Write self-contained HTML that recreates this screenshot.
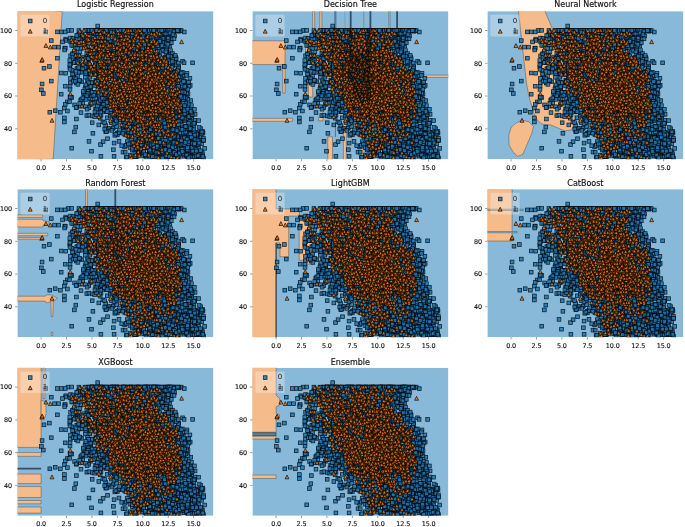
<!DOCTYPE html>
<html><head><meta charset="utf-8"><title>Decision regions</title>
<style>
html,body{margin:0;padding:0;background:#fff}
svg{display:block;font-family:"DejaVu Sans","Liberation Sans",sans-serif}
.b{fill:#88b9d9}
.o{fill:#f6bb8b;stroke:#222;stroke-width:.35}
polygon.b{stroke:#222;stroke-width:.35}
.k{stroke:#222;stroke-width:.5}
.k4{stroke:#222;stroke-width:.9}
.k0{stroke:#345;stroke-width:.5;stroke-opacity:.35}
.k1{stroke:#654;stroke-width:.7;stroke-opacity:.6}
.k2{stroke:#4f7390;stroke-width:2.2;stroke-opacity:.9}
.k3{stroke:#2a4258;stroke-width:1.8;stroke-opacity:.9}
.g{fill:#5f7f95;stroke:#222;stroke-width:.5}
.sq use,.sq1{fill:#1f77b4;fill-opacity:.85;stroke:#000;stroke-opacity:.8;stroke-width:.75}
#pts>g+g use,.tr1{fill:#e9760e;fill-opacity:.88;stroke:#000;stroke-opacity:.8;stroke-width:.8}
.lg{fill:#fff;fill-opacity:.3;stroke:#ccc;stroke-opacity:.3;stroke-width:.5}
.ti{font-size:8px;text-anchor:middle;fill:#111;stroke:#111;stroke-width:.15}
.tk{font-size:6.45px;letter-spacing:-.12px;fill:#111;stroke:#111;stroke-width:.12}
.lt{font-size:7px;fill:#222;stroke:none}
.tm{stroke:#333;stroke-width:.5}
</style></head><body>
<svg width="685" height="527" viewBox="0 0 685 527">
<defs>
<clipPath id="c"><rect x="0" y="0" width="196.0" height="148.0"/></clipPath>
<rect id="s" x="-1.85" y="-1.85" width="3.7" height="3.7"/>
<path id="t" d="M0-2.1L1.95 1.75H-1.95Z"/>
<filter id="bl" x="-50%" y="-20%" width="200%" height="140%"><feGaussianBlur stdDeviation="1.1"/></filter>
<filter id="b6" x="-50%" y="-50%" width="200%" height="200%"><feGaussianBlur stdDeviation=".6"/></filter>
<filter id="b5" x="-5%" y="-5%" width="110%" height="110%"><feGaussianBlur stdDeviation=".6"/></filter>
<g id="pts" filter="url(#b5)"><g class="sq">
<use href="#s" x="134.6" y="32.5"/><use href="#s" x="85.1" y="87.5"/><use href="#s" x="112.0" y="90.4"/><use href="#s" x="118.2" y="45.9"/><use href="#s" x="151.8" y="126.9"/><use href="#s" x="110.2" y="19.3"/><use href="#s" x="110.6" y="66.8"/><use href="#s" x="171.7" y="113.1"/><use href="#s" x="139.7" y="65.5"/><use href="#s" x="159.6" y="82.4"/><use href="#s" x="136.6" y="139.8"/><use href="#s" x="89.3" y="42.9"/><use href="#s" x="127.1" y="69.9"/><use href="#s" x="77.3" y="91.0"/><use href="#s" x="72.5" y="23.4"/><use href="#s" x="121.6" y="35.5"/><use href="#s" x="149.5" y="26.4"/><use href="#s" x="180.2" y="122.8"/><use href="#s" x="119.4" y="34.2"/><use href="#s" x="81.6" y="94.8"/><use href="#s" x="117.5" y="87.5"/><use href="#s" x="136.7" y="144.2"/><use href="#s" x="123.1" y="23.5"/><use href="#s" x="85.9" y="35.6"/><use href="#s" x="123.6" y="101.9"/><use href="#s" x="182.2" y="128.1"/><use href="#s" x="61.1" y="43.6"/><use href="#s" x="158.6" y="145.6"/><use href="#s" x="71.6" y="54.4"/><use href="#s" x="109.0" y="21.8"/><use href="#s" x="115.2" y="52.3"/><use href="#s" x="168.8" y="94.7"/><use href="#s" x="169.8" y="80.9"/><use href="#s" x="135.1" y="60.8"/><use href="#s" x="112.3" y="104.8"/><use href="#s" x="106.6" y="70.1"/><use href="#s" x="67.9" y="66.1"/><use href="#s" x="143.1" y="49.6"/><use href="#s" x="137.7" y="30.4"/><use href="#s" x="52.7" y="30.1"/><use href="#s" x="78.6" y="19.3"/><use href="#s" x="151.3" y="78.5"/><use href="#s" x="146.0" y="122.9"/><use href="#s" x="144.0" y="24.4"/><use href="#s" x="166.8" y="107.2"/><use href="#s" x="151.1" y="49.2"/><use href="#s" x="122.7" y="65.6"/><use href="#s" x="150.5" y="66.5"/><use href="#s" x="151.9" y="54.9"/><use href="#s" x="160.3" y="144.0"/><use href="#s" x="90.4" y="26.4"/><use href="#s" x="150.3" y="62.6"/><use href="#s" x="73.2" y="78.3"/><use href="#s" x="109.8" y="130.4"/><use href="#s" x="110.9" y="112.9"/><use href="#s" x="132.9" y="123.4"/><use href="#s" x="123.3" y="41.6"/><use href="#s" x="144.5" y="81.0"/><use href="#s" x="143.0" y="78.7"/><use href="#s" x="168.2" y="123.8"/><use href="#s" x="134.3" y="96.8"/><use href="#s" x="132.0" y="50.4"/><use href="#s" x="123.4" y="97.8"/><use href="#s" x="151.4" y="41.0"/><use href="#s" x="165.2" y="50.0"/><use href="#s" x="151.7" y="41.7"/><use href="#s" x="62.1" y="20.9"/><use href="#s" x="144.6" y="90.3"/><use href="#s" x="163.5" y="119.6"/><use href="#s" x="131.5" y="143.2"/><use href="#s" x="75.2" y="30.0"/><use href="#s" x="174.4" y="124.8"/><use href="#s" x="77.8" y="61.6"/><use href="#s" x="127.6" y="81.3"/><use href="#s" x="148.1" y="46.1"/><use href="#s" x="71.8" y="23.2"/><use href="#s" x="123.1" y="138.9"/><use href="#s" x="145.0" y="49.9"/><use href="#s" x="123.8" y="38.6"/><use href="#s" x="164.9" y="125.9"/><use href="#s" x="87.3" y="71.0"/><use href="#s" x="77.9" y="44.5"/><use href="#s" x="166.5" y="65.0"/><use href="#s" x="149.4" y="58.8"/><use href="#s" x="142.5" y="120.6"/><use href="#s" x="143.2" y="95.0"/><use href="#s" x="150.9" y="136.6"/><use href="#s" x="143.0" y="142.3"/><use href="#s" x="153.9" y="137.9"/><use href="#s" x="69.5" y="34.9"/><use href="#s" x="113.2" y="56.8"/><use href="#s" x="150.2" y="68.0"/><use href="#s" x="122.8" y="95.4"/><use href="#s" x="114.2" y="98.7"/><use href="#s" x="161.0" y="104.1"/><use href="#s" x="97.6" y="46.8"/><use href="#s" x="95.1" y="19.3"/><use href="#s" x="131.7" y="76.0"/><use href="#s" x="73.0" y="93.5"/><use href="#s" x="129.2" y="99.8"/><use href="#s" x="90.3" y="99.1"/><use href="#s" x="71.1" y="84.1"/><use href="#s" x="100.3" y="41.4"/><use href="#s" x="124.7" y="99.6"/><use href="#s" x="140.5" y="56.9"/><use href="#s" x="97.0" y="42.7"/><use href="#s" x="148.8" y="115.9"/><use href="#s" x="130.2" y="114.4"/><use href="#s" x="183.1" y="121.4"/><use href="#s" x="68.1" y="56.5"/><use href="#s" x="103.0" y="49.0"/><use href="#s" x="143.5" y="67.9"/><use href="#s" x="126.3" y="114.5"/><use href="#s" x="130.2" y="90.9"/><use href="#s" x="70.2" y="19.3"/><use href="#s" x="144.2" y="145.5"/><use href="#s" x="66.3" y="45.9"/><use href="#s" x="155.0" y="93.9"/><use href="#s" x="122.5" y="33.0"/><use href="#s" x="144.6" y="70.5"/><use href="#s" x="60.1" y="33.9"/><use href="#s" x="148.2" y="19.3"/><use href="#s" x="130.6" y="69.0"/><use href="#s" x="116.2" y="25.4"/><use href="#s" x="166.6" y="145.0"/><use href="#s" x="132.2" y="38.4"/><use href="#s" x="114.8" y="130.5"/><use href="#s" x="92.4" y="38.1"/><use href="#s" x="140.7" y="107.4"/><use href="#s" x="156.7" y="109.9"/><use href="#s" x="146.1" y="99.0"/><use href="#s" x="78.0" y="53.8"/><use href="#s" x="83.3" y="90.0"/><use href="#s" x="113.8" y="119.3"/><use href="#s" x="73.4" y="87.8"/><use href="#s" x="138.6" y="112.5"/><use href="#s" x="178.6" y="131.4"/><use href="#s" x="154.3" y="138.9"/><use href="#s" x="149.7" y="146.7"/><use href="#s" x="173.4" y="89.4"/><use href="#s" x="95.4" y="19.3"/><use href="#s" x="133.1" y="106.0"/><use href="#s" x="109.4" y="44.6"/><use href="#s" x="66.9" y="84.5"/><use href="#s" x="147.4" y="130.1"/><use href="#s" x="117.7" y="112.8"/><use href="#s" x="122.3" y="134.4"/><use href="#s" x="166.9" y="87.3"/><use href="#s" x="114.2" y="85.0"/><use href="#s" x="171.8" y="132.5"/><use href="#s" x="179.1" y="145.8"/><use href="#s" x="109.0" y="62.7"/><use href="#s" x="92.2" y="87.9"/><use href="#s" x="132.9" y="143.1"/><use href="#s" x="147.9" y="95.6"/><use href="#s" x="82.5" y="29.8"/><use href="#s" x="137.2" y="129.5"/><use href="#s" x="162.0" y="128.7"/><use href="#s" x="128.7" y="22.8"/><use href="#s" x="183.0" y="143.2"/><use href="#s" x="104.6" y="74.6"/><use href="#s" x="151.1" y="94.8"/><use href="#s" x="126.8" y="113.3"/><use href="#s" x="172.6" y="99.7"/><use href="#s" x="101.2" y="50.5"/><use href="#s" x="65.4" y="92.0"/><use href="#s" x="132.5" y="75.1"/><use href="#s" x="113.0" y="117.5"/><use href="#s" x="97.6" y="99.5"/><use href="#s" x="162.1" y="133.8"/><use href="#s" x="117.5" y="115.0"/><use href="#s" x="161.0" y="127.7"/><use href="#s" x="113.8" y="121.5"/><use href="#s" x="140.7" y="110.7"/><use href="#s" x="148.8" y="142.0"/><use href="#s" x="103.8" y="104.4"/><use href="#s" x="114.4" y="19.3"/><use href="#s" x="74.7" y="104.7"/><use href="#s" x="73.5" y="91.7"/><use href="#s" x="56.2" y="66.0"/><use href="#s" x="74.5" y="19.3"/><use href="#s" x="57.2" y="66.3"/><use href="#s" x="104.5" y="104.5"/><use href="#s" x="113.5" y="60.8"/><use href="#s" x="141.1" y="114.1"/><use href="#s" x="111.0" y="65.3"/><use href="#s" x="98.2" y="46.7"/><use href="#s" x="150.7" y="19.3"/><use href="#s" x="92.4" y="36.5"/><use href="#s" x="143.0" y="146.4"/><use href="#s" x="159.4" y="83.0"/><use href="#s" x="177.2" y="111.5"/><use href="#s" x="111.3" y="81.9"/><use href="#s" x="61.8" y="25.9"/><use href="#s" x="117.4" y="40.6"/><use href="#s" x="168.7" y="120.5"/><use href="#s" x="135.8" y="122.5"/><use href="#s" x="140.2" y="140.1"/><use href="#s" x="84.0" y="82.9"/><use href="#s" x="79.7" y="37.3"/><use href="#s" x="85.2" y="55.2"/><use href="#s" x="173.1" y="140.5"/><use href="#s" x="159.9" y="134.9"/><use href="#s" x="138.0" y="33.5"/><use href="#s" x="174.1" y="121.5"/><use href="#s" x="71.3" y="80.6"/><use href="#s" x="147.1" y="123.3"/><use href="#s" x="153.8" y="121.1"/><use href="#s" x="164.7" y="88.1"/><use href="#s" x="170.6" y="107.8"/><use href="#s" x="122.9" y="35.1"/><use href="#s" x="119.1" y="145.5"/><use href="#s" x="123.4" y="87.0"/><use href="#s" x="138.7" y="43.5"/><use href="#s" x="127.4" y="78.0"/><use href="#s" x="118.6" y="97.5"/><use href="#s" x="132.7" y="49.2"/><use href="#s" x="96.4" y="55.2"/><use href="#s" x="153.4" y="124.9"/><use href="#s" x="99.9" y="35.6"/><use href="#s" x="83.1" y="29.7"/><use href="#s" x="154.4" y="27.6"/><use href="#s" x="114.3" y="19.3"/><use href="#s" x="138.5" y="108.4"/><use href="#s" x="132.4" y="105.3"/><use href="#s" x="158.9" y="109.8"/><use href="#s" x="143.5" y="128.5"/><use href="#s" x="149.5" y="52.2"/><use href="#s" x="102.9" y="21.4"/><use href="#s" x="112.6" y="35.5"/><use href="#s" x="113.3" y="113.4"/><use href="#s" x="109.1" y="42.6"/><use href="#s" x="81.2" y="63.5"/><use href="#s" x="114.5" y="34.7"/><use href="#s" x="128.0" y="98.2"/><use href="#s" x="112.8" y="104.1"/><use href="#s" x="102.8" y="57.0"/><use href="#s" x="79.8" y="24.0"/><use href="#s" x="166.2" y="109.3"/><use href="#s" x="170.5" y="136.3"/><use href="#s" x="81.3" y="35.1"/><use href="#s" x="133.0" y="95.2"/><use href="#s" x="139.1" y="126.8"/><use href="#s" x="146.2" y="136.3"/><use href="#s" x="138.1" y="113.9"/><use href="#s" x="119.4" y="136.6"/><use href="#s" x="172.2" y="109.9"/><use href="#s" x="129.9" y="23.5"/><use href="#s" x="99.6" y="100.8"/><use href="#s" x="137.4" y="61.4"/><use href="#s" x="123.1" y="63.2"/><use href="#s" x="67.0" y="27.1"/><use href="#s" x="163.9" y="137.8"/><use href="#s" x="141.5" y="19.3"/><use href="#s" x="125.6" y="80.5"/><use href="#s" x="143.7" y="97.2"/><use href="#s" x="119.3" y="100.6"/><use href="#s" x="136.7" y="128.4"/><use href="#s" x="85.6" y="38.8"/><use href="#s" x="127.4" y="101.4"/><use href="#s" x="119.6" y="45.5"/><use href="#s" x="76.7" y="56.7"/><use href="#s" x="85.0" y="62.2"/><use href="#s" x="117.7" y="62.6"/><use href="#s" x="158.7" y="118.6"/><use href="#s" x="147.5" y="29.3"/><use href="#s" x="152.9" y="113.9"/><use href="#s" x="115.0" y="84.9"/><use href="#s" x="92.7" y="60.5"/><use href="#s" x="104.0" y="69.6"/><use href="#s" x="108.2" y="19.3"/><use href="#s" x="159.5" y="138.0"/><use href="#s" x="155.3" y="134.0"/><use href="#s" x="131.4" y="131.7"/><use href="#s" x="100.3" y="106.6"/><use href="#s" x="155.2" y="100.9"/><use href="#s" x="84.8" y="92.0"/><use href="#s" x="157.2" y="69.1"/><use href="#s" x="72.6" y="64.8"/><use href="#s" x="81.5" y="28.8"/><use href="#s" x="132.1" y="19.3"/><use href="#s" x="151.6" y="117.5"/><use href="#s" x="129.6" y="123.3"/><use href="#s" x="141.8" y="135.9"/><use href="#s" x="170.3" y="123.5"/><use href="#s" x="148.5" y="58.1"/><use href="#s" x="89.4" y="81.2"/><use href="#s" x="93.6" y="84.5"/><use href="#s" x="130.2" y="60.1"/><use href="#s" x="168.0" y="136.4"/><use href="#s" x="96.7" y="45.3"/><use href="#s" x="119.8" y="122.5"/><use href="#s" x="145.1" y="23.7"/><use href="#s" x="100.0" y="122.2"/><use href="#s" x="169.1" y="95.3"/><use href="#s" x="185.1" y="142.4"/><use href="#s" x="158.2" y="134.4"/><use href="#s" x="134.3" y="19.3"/><use href="#s" x="115.7" y="84.8"/><use href="#s" x="144.2" y="20.6"/><use href="#s" x="95.2" y="117.4"/><use href="#s" x="131.7" y="24.5"/><use href="#s" x="113.8" y="107.0"/><use href="#s" x="148.8" y="93.4"/><use href="#s" x="134.3" y="86.1"/><use href="#s" x="116.0" y="133.9"/><use href="#s" x="84.0" y="19.3"/><use href="#s" x="89.8" y="71.2"/><use href="#s" x="85.4" y="36.7"/><use href="#s" x="101.0" y="59.3"/><use href="#s" x="139.9" y="87.7"/><use href="#s" x="90.8" y="117.1"/><use href="#s" x="91.6" y="94.3"/><use href="#s" x="81.2" y="91.2"/><use href="#s" x="139.7" y="37.5"/><use href="#s" x="155.1" y="19.3"/><use href="#s" x="136.8" y="37.5"/><use href="#s" x="98.9" y="39.5"/><use href="#s" x="154.3" y="104.5"/><use href="#s" x="130.0" y="126.4"/><use href="#s" x="117.7" y="112.8"/><use href="#s" x="117.8" y="37.9"/><use href="#s" x="132.7" y="35.3"/><use href="#s" x="124.9" y="119.8"/><use href="#s" x="108.8" y="95.4"/><use href="#s" x="109.9" y="104.8"/><use href="#s" x="167.1" y="122.1"/><use href="#s" x="137.9" y="56.0"/><use href="#s" x="136.0" y="61.7"/><use href="#s" x="107.9" y="114.8"/><use href="#s" x="160.9" y="144.9"/><use href="#s" x="156.4" y="130.9"/><use href="#s" x="71.4" y="19.3"/><use href="#s" x="144.0" y="125.4"/><use href="#s" x="135.0" y="79.4"/><use href="#s" x="133.1" y="53.3"/><use href="#s" x="80.2" y="73.5"/><use href="#s" x="77.6" y="81.1"/><use href="#s" x="96.6" y="47.4"/><use href="#s" x="91.9" y="78.6"/><use href="#s" x="68.6" y="27.6"/><use href="#s" x="156.0" y="126.0"/><use href="#s" x="92.3" y="57.4"/><use href="#s" x="128.0" y="144.4"/><use href="#s" x="173.4" y="127.8"/><use href="#s" x="177.0" y="126.7"/><use href="#s" x="75.4" y="40.0"/><use href="#s" x="108.1" y="83.5"/><use href="#s" x="109.2" y="83.8"/><use href="#s" x="122.0" y="126.8"/><use href="#s" x="57.8" y="47.1"/><use href="#s" x="97.3" y="107.4"/><use href="#s" x="100.2" y="89.6"/><use href="#s" x="177.1" y="111.7"/><use href="#s" x="179.7" y="135.8"/><use href="#s" x="147.7" y="145.7"/><use href="#s" x="90.6" y="59.3"/><use href="#s" x="164.1" y="105.6"/><use href="#s" x="168.8" y="102.4"/><use href="#s" x="177.7" y="136.4"/><use href="#s" x="85.0" y="74.8"/><use href="#s" x="132.5" y="119.5"/><use href="#s" x="83.7" y="19.3"/><use href="#s" x="141.5" y="28.5"/><use href="#s" x="135.5" y="76.3"/><use href="#s" x="113.5" y="116.6"/><use href="#s" x="87.8" y="33.7"/><use href="#s" x="113.9" y="111.5"/><use href="#s" x="167.7" y="73.3"/><use href="#s" x="165.2" y="132.8"/><use href="#s" x="131.0" y="22.5"/><use href="#s" x="73.1" y="80.6"/><use href="#s" x="140.9" y="55.2"/><use href="#s" x="112.6" y="115.8"/><use href="#s" x="84.6" y="53.1"/><use href="#s" x="157.2" y="101.7"/><use href="#s" x="90.6" y="32.6"/><use href="#s" x="127.8" y="105.0"/><use href="#s" x="161.9" y="19.3"/><use href="#s" x="95.6" y="42.3"/><use href="#s" x="77.8" y="30.8"/><use href="#s" x="110.7" y="101.9"/><use href="#s" x="76.0" y="19.3"/><use href="#s" x="95.6" y="49.4"/><use href="#s" x="150.9" y="101.3"/><use href="#s" x="121.0" y="93.3"/><use href="#s" x="135.2" y="80.9"/><use href="#s" x="77.3" y="83.5"/><use href="#s" x="162.5" y="66.6"/><use href="#s" x="156.9" y="52.3"/><use href="#s" x="126.3" y="97.7"/><use href="#s" x="130.5" y="41.5"/><use href="#s" x="100.0" y="48.8"/><use href="#s" x="154.1" y="87.6"/><use href="#s" x="157.3" y="84.9"/><use href="#s" x="114.1" y="116.1"/><use href="#s" x="146.1" y="34.7"/><use href="#s" x="94.0" y="66.1"/><use href="#s" x="166.0" y="86.0"/><use href="#s" x="80.8" y="49.5"/><use href="#s" x="165.9" y="128.7"/><use href="#s" x="163.9" y="114.1"/><use href="#s" x="93.4" y="83.1"/><use href="#s" x="75.5" y="83.9"/><use href="#s" x="143.5" y="139.2"/><use href="#s" x="151.5" y="22.5"/><use href="#s" x="151.1" y="90.5"/><use href="#s" x="118.8" y="21.9"/><use href="#s" x="163.3" y="107.4"/><use href="#s" x="84.1" y="19.3"/><use href="#s" x="90.1" y="48.3"/><use href="#s" x="129.8" y="26.7"/><use href="#s" x="122.9" y="58.6"/><use href="#s" x="165.7" y="121.7"/><use href="#s" x="181.3" y="141.7"/><use href="#s" x="115.6" y="71.3"/><use href="#s" x="58.4" y="49.4"/><use href="#s" x="127.4" y="107.3"/><use href="#s" x="152.4" y="95.9"/><use href="#s" x="115.5" y="20.6"/><use href="#s" x="122.5" y="124.0"/><use href="#s" x="142.8" y="19.3"/><use href="#s" x="166.6" y="107.3"/><use href="#s" x="157.3" y="132.7"/><use href="#s" x="104.5" y="49.3"/><use href="#s" x="70.1" y="69.7"/><use href="#s" x="125.8" y="112.9"/><use href="#s" x="139.4" y="63.9"/><use href="#s" x="139.6" y="120.8"/><use href="#s" x="146.4" y="54.5"/><use href="#s" x="157.6" y="67.6"/><use href="#s" x="176.8" y="144.5"/><use href="#s" x="138.0" y="19.3"/><use href="#s" x="135.4" y="80.2"/><use href="#s" x="122.4" y="22.4"/><use href="#s" x="175.6" y="131.9"/><use href="#s" x="119.7" y="73.4"/><use href="#s" x="123.9" y="105.1"/><use href="#s" x="89.7" y="119.7"/><use href="#s" x="127.7" y="37.6"/><use href="#s" x="141.5" y="134.3"/><use href="#s" x="92.5" y="66.5"/><use href="#s" x="90.6" y="85.3"/><use href="#s" x="134.2" y="106.7"/><use href="#s" x="116.4" y="99.4"/><use href="#s" x="85.4" y="53.1"/><use href="#s" x="156.1" y="20.8"/><use href="#s" x="140.9" y="77.7"/><use href="#s" x="61.5" y="44.9"/><use href="#s" x="138.8" y="20.0"/><use href="#s" x="88.5" y="31.2"/><use href="#s" x="151.1" y="27.0"/><use href="#s" x="132.1" y="57.3"/><use href="#s" x="93.3" y="82.5"/><use href="#s" x="166.8" y="126.9"/><use href="#s" x="145.5" y="122.2"/><use href="#s" x="129.2" y="134.8"/><use href="#s" x="106.3" y="19.3"/><use href="#s" x="83.5" y="19.3"/><use href="#s" x="138.6" y="125.6"/><use href="#s" x="74.7" y="81.9"/><use href="#s" x="91.6" y="85.7"/><use href="#s" x="135.8" y="19.3"/><use href="#s" x="73.2" y="71.2"/><use href="#s" x="104.5" y="53.3"/><use href="#s" x="133.6" y="74.1"/><use href="#s" x="159.3" y="64.8"/><use href="#s" x="147.2" y="133.9"/><use href="#s" x="132.9" y="59.4"/><use href="#s" x="128.2" y="19.3"/><use href="#s" x="52.5" y="56.0"/><use href="#s" x="78.4" y="69.1"/><use href="#s" x="167.1" y="135.8"/><use href="#s" x="144.4" y="135.2"/><use href="#s" x="164.4" y="104.3"/><use href="#s" x="181.2" y="109.4"/><use href="#s" x="120.5" y="110.1"/><use href="#s" x="75.0" y="19.3"/><use href="#s" x="136.3" y="119.1"/><use href="#s" x="104.8" y="27.6"/><use href="#s" x="76.0" y="42.2"/><use href="#s" x="106.9" y="41.5"/><use href="#s" x="152.8" y="128.0"/><use href="#s" x="134.3" y="19.3"/><use href="#s" x="144.4" y="47.5"/><use href="#s" x="80.4" y="19.3"/><use href="#s" x="175.6" y="124.8"/><use href="#s" x="70.7" y="50.0"/><use href="#s" x="98.3" y="49.7"/><use href="#s" x="141.9" y="21.7"/><use href="#s" x="145.6" y="99.3"/><use href="#s" x="138.8" y="59.9"/><use href="#s" x="112.9" y="97.5"/><use href="#s" x="170.2" y="145.0"/><use href="#s" x="117.4" y="127.8"/><use href="#s" x="71.6" y="87.0"/><use href="#s" x="148.2" y="36.2"/><use href="#s" x="135.8" y="35.9"/><use href="#s" x="164.9" y="100.4"/><use href="#s" x="73.7" y="74.9"/><use href="#s" x="134.1" y="114.1"/><use href="#s" x="134.8" y="125.0"/><use href="#s" x="123.1" y="95.0"/><use href="#s" x="64.1" y="60.6"/><use href="#s" x="139.6" y="45.3"/><use href="#s" x="132.0" y="74.6"/><use href="#s" x="146.7" y="29.6"/><use href="#s" x="164.2" y="126.8"/><use href="#s" x="158.6" y="19.3"/><use href="#s" x="171.4" y="143.6"/><use href="#s" x="148.9" y="122.5"/><use href="#s" x="136.2" y="62.1"/><use href="#s" x="152.4" y="34.7"/><use href="#s" x="119.8" y="56.9"/><use href="#s" x="74.4" y="84.7"/><use href="#s" x="138.3" y="143.4"/><use href="#s" x="116.6" y="43.4"/><use href="#s" x="120.0" y="114.6"/><use href="#s" x="150.3" y="69.6"/><use href="#s" x="128.7" y="116.2"/><use href="#s" x="76.3" y="55.9"/><use href="#s" x="162.1" y="66.9"/><use href="#s" x="117.9" y="35.0"/><use href="#s" x="151.5" y="116.2"/><use href="#s" x="158.6" y="72.3"/><use href="#s" x="97.9" y="34.2"/><use href="#s" x="148.1" y="118.1"/><use href="#s" x="130.3" y="121.7"/><use href="#s" x="125.9" y="68.1"/><use href="#s" x="133.1" y="37.6"/><use href="#s" x="68.2" y="75.7"/><use href="#s" x="105.4" y="81.7"/><use href="#s" x="93.4" y="43.6"/><use href="#s" x="110.5" y="48.3"/><use href="#s" x="124.1" y="133.8"/><use href="#s" x="101.0" y="93.3"/><use href="#s" x="161.6" y="141.1"/><use href="#s" x="118.2" y="27.6"/><use href="#s" x="170.5" y="87.9"/><use href="#s" x="93.6" y="32.7"/><use href="#s" x="137.3" y="117.5"/><use href="#s" x="101.6" y="47.3"/><use href="#s" x="103.2" y="26.2"/><use href="#s" x="74.3" y="19.3"/><use href="#s" x="117.8" y="90.1"/><use href="#s" x="136.6" y="19.3"/><use href="#s" x="109.1" y="104.8"/><use href="#s" x="77.3" y="105.4"/><use href="#s" x="64.2" y="70.6"/><use href="#s" x="141.3" y="123.0"/><use href="#s" x="152.0" y="23.5"/><use href="#s" x="145.5" y="131.6"/><use href="#s" x="125.9" y="131.8"/><use href="#s" x="134.0" y="56.4"/><use href="#s" x="53.3" y="52.5"/><use href="#s" x="141.7" y="122.8"/><use href="#s" x="121.7" y="40.6"/><use href="#s" x="121.7" y="44.3"/><use href="#s" x="137.8" y="76.9"/><use href="#s" x="125.1" y="86.7"/><use href="#s" x="160.9" y="55.8"/><use href="#s" x="93.8" y="30.6"/><use href="#s" x="97.7" y="104.2"/><use href="#s" x="172.0" y="126.7"/><use href="#s" x="82.4" y="60.3"/><use href="#s" x="107.0" y="106.7"/><use href="#s" x="155.0" y="78.5"/><use href="#s" x="134.8" y="84.7"/><use href="#s" x="153.1" y="39.4"/><use href="#s" x="125.2" y="50.5"/><use href="#s" x="52.6" y="85.6"/><use href="#s" x="150.0" y="69.3"/><use href="#s" x="123.1" y="19.3"/><use href="#s" x="146.8" y="137.0"/><use href="#s" x="107.2" y="113.0"/><use href="#s" x="103.2" y="76.4"/><use href="#s" x="86.0" y="25.4"/><use href="#s" x="147.1" y="62.8"/><use href="#s" x="148.5" y="118.6"/><use href="#s" x="151.3" y="98.8"/><use href="#s" x="119.5" y="67.8"/><use href="#s" x="148.7" y="89.6"/><use href="#s" x="120.8" y="140.3"/><use href="#s" x="155.3" y="98.7"/><use href="#s" x="147.7" y="119.6"/><use href="#s" x="108.2" y="67.6"/><use href="#s" x="146.2" y="58.4"/><use href="#s" x="141.4" y="32.6"/><use href="#s" x="96.6" y="92.3"/><use href="#s" x="98.4" y="95.5"/><use href="#s" x="123.1" y="42.8"/><use href="#s" x="71.4" y="96.5"/><use href="#s" x="139.8" y="136.3"/><use href="#s" x="118.9" y="61.0"/><use href="#s" x="92.8" y="87.9"/><use href="#s" x="152.2" y="100.1"/><use href="#s" x="98.8" y="76.2"/><use href="#s" x="120.5" y="96.0"/><use href="#s" x="137.3" y="59.4"/><use href="#s" x="105.6" y="19.8"/><use href="#s" x="167.6" y="100.8"/><use href="#s" x="105.9" y="55.9"/><use href="#s" x="152.3" y="19.3"/><use href="#s" x="105.6" y="19.3"/><use href="#s" x="179.4" y="136.0"/><use href="#s" x="85.2" y="63.7"/><use href="#s" x="126.0" y="142.3"/><use href="#s" x="105.2" y="57.1"/><use href="#s" x="112.3" y="19.3"/><use href="#s" x="151.4" y="32.2"/><use href="#s" x="138.4" y="95.8"/><use href="#s" x="102.3" y="97.7"/><use href="#s" x="64.9" y="54.6"/><use href="#s" x="103.3" y="81.5"/><use href="#s" x="78.4" y="57.5"/><use href="#s" x="140.5" y="136.1"/><use href="#s" x="135.1" y="133.5"/><use href="#s" x="128.2" y="40.3"/><use href="#s" x="107.7" y="49.3"/><use href="#s" x="113.4" y="60.9"/><use href="#s" x="128.6" y="146.1"/><use href="#s" x="81.2" y="69.7"/><use href="#s" x="141.2" y="118.2"/><use href="#s" x="130.3" y="56.1"/><use href="#s" x="137.2" y="30.8"/><use href="#s" x="84.9" y="66.7"/><use href="#s" x="140.1" y="126.3"/><use href="#s" x="100.3" y="75.8"/><use href="#s" x="72.5" y="54.4"/><use href="#s" x="101.5" y="41.3"/><use href="#s" x="82.3" y="30.8"/><use href="#s" x="48.3" y="27.9"/><use href="#s" x="90.4" y="33.2"/><use href="#s" x="142.9" y="91.8"/><use href="#s" x="171.1" y="112.2"/><use href="#s" x="113.7" y="66.7"/><use href="#s" x="80.6" y="69.1"/><use href="#s" x="165.5" y="82.8"/><use href="#s" x="104.7" y="30.2"/><use href="#s" x="118.5" y="53.9"/><use href="#s" x="97.2" y="19.3"/><use href="#s" x="100.6" y="65.1"/><use href="#s" x="165.9" y="100.2"/><use href="#s" x="135.8" y="93.1"/><use href="#s" x="70.1" y="35.4"/><use href="#s" x="109.0" y="105.1"/><use href="#s" x="174.1" y="116.5"/><use href="#s" x="83.4" y="34.4"/><use href="#s" x="72.2" y="39.0"/><use href="#s" x="71.6" y="41.5"/><use href="#s" x="135.9" y="129.8"/><use href="#s" x="119.8" y="140.3"/><use href="#s" x="181.2" y="123.6"/><use href="#s" x="106.8" y="99.0"/><use href="#s" x="102.2" y="44.5"/><use href="#s" x="77.8" y="59.6"/><use href="#s" x="137.5" y="30.5"/><use href="#s" x="95.9" y="44.3"/><use href="#s" x="166.2" y="126.3"/><use href="#s" x="116.3" y="19.3"/><use href="#s" x="128.6" y="33.9"/><use href="#s" x="130.6" y="88.7"/><use href="#s" x="140.6" y="124.3"/><use href="#s" x="54.4" y="86.3"/><use href="#s" x="105.5" y="92.8"/><use href="#s" x="78.7" y="86.7"/><use href="#s" x="146.4" y="23.5"/><use href="#s" x="105.3" y="73.0"/><use href="#s" x="177.7" y="121.6"/><use href="#s" x="106.4" y="19.3"/><use href="#s" x="106.9" y="86.1"/><use href="#s" x="97.6" y="103.1"/><use href="#s" x="143.5" y="96.1"/><use href="#s" x="91.5" y="53.4"/><use href="#s" x="163.4" y="109.6"/><use href="#s" x="115.8" y="44.0"/><use href="#s" x="169.6" y="84.7"/><use href="#s" x="98.0" y="22.3"/><use href="#s" x="141.2" y="85.3"/><use href="#s" x="84.6" y="52.5"/><use href="#s" x="166.7" y="130.1"/><use href="#s" x="85.6" y="64.8"/><use href="#s" x="69.4" y="42.3"/><use href="#s" x="91.4" y="67.2"/><use href="#s" x="115.0" y="30.1"/><use href="#s" x="153.6" y="142.9"/><use href="#s" x="159.9" y="117.6"/><use href="#s" x="159.4" y="60.5"/><use href="#s" x="66.8" y="59.2"/><use href="#s" x="131.4" y="31.3"/><use href="#s" x="114.3" y="53.9"/><use href="#s" x="168.3" y="100.1"/><use href="#s" x="147.2" y="99.1"/><use href="#s" x="89.5" y="33.7"/><use href="#s" x="137.6" y="78.3"/><use href="#s" x="157.1" y="24.7"/><use href="#s" x="156.2" y="61.5"/><use href="#s" x="75.6" y="43.7"/><use href="#s" x="113.1" y="64.8"/><use href="#s" x="90.3" y="49.0"/><use href="#s" x="112.3" y="93.6"/><use href="#s" x="122.5" y="58.6"/><use href="#s" x="86.7" y="96.7"/><use href="#s" x="64.5" y="55.5"/><use href="#s" x="78.4" y="26.6"/><use href="#s" x="95.5" y="19.3"/><use href="#s" x="151.4" y="44.0"/><use href="#s" x="79.2" y="99.3"/><use href="#s" x="133.4" y="32.7"/><use href="#s" x="115.2" y="20.1"/><use href="#s" x="109.8" y="40.9"/><use href="#s" x="69.7" y="47.9"/><use href="#s" x="79.6" y="40.8"/><use href="#s" x="144.4" y="70.2"/><use href="#s" x="185.6" y="121.9"/><use href="#s" x="96.7" y="68.2"/><use href="#s" x="125.9" y="116.8"/><use href="#s" x="93.7" y="30.2"/><use href="#s" x="184.1" y="122.2"/><use href="#s" x="105.9" y="116.8"/><use href="#s" x="181.1" y="131.0"/><use href="#s" x="185.4" y="120.3"/><use href="#s" x="66.2" y="82.1"/><use href="#s" x="130.2" y="19.3"/><use href="#s" x="184.8" y="145.7"/><use href="#s" x="137.7" y="144.2"/><use href="#s" x="96.7" y="106.0"/><use href="#s" x="123.0" y="104.9"/><use href="#s" x="129.8" y="136.7"/><use href="#s" x="86.7" y="39.8"/><use href="#s" x="113.4" y="34.5"/><use href="#s" x="59.4" y="57.6"/><use href="#s" x="138.9" y="131.5"/><use href="#s" x="158.2" y="136.0"/><use href="#s" x="104.5" y="107.8"/><use href="#s" x="161.6" y="94.8"/><use href="#s" x="146.2" y="49.2"/><use href="#s" x="134.7" y="122.2"/><use href="#s" x="86.5" y="67.6"/><use href="#s" x="133.0" y="75.8"/><use href="#s" x="94.8" y="74.4"/><use href="#s" x="147.1" y="73.3"/><use href="#s" x="65.0" y="24.1"/><use href="#s" x="91.7" y="19.4"/><use href="#s" x="118.8" y="108.9"/><use href="#s" x="121.3" y="130.3"/><use href="#s" x="159.1" y="61.9"/><use href="#s" x="163.8" y="19.3"/><use href="#s" x="126.2" y="80.0"/><use href="#s" x="103.3" y="67.1"/><use href="#s" x="92.2" y="98.1"/><use href="#s" x="141.6" y="94.7"/><use href="#s" x="173.5" y="103.7"/><use href="#s" x="100.4" y="93.5"/><use href="#s" x="150.2" y="22.7"/><use href="#s" x="95.9" y="116.8"/><use href="#s" x="122.1" y="110.8"/><use href="#s" x="58.8" y="71.9"/><use href="#s" x="174.5" y="103.0"/><use href="#s" x="55.5" y="62.7"/><use href="#s" x="125.2" y="131.1"/><use href="#s" x="86.3" y="89.0"/><use href="#s" x="48.4" y="29.2"/><use href="#s" x="93.8" y="30.5"/><use href="#s" x="133.0" y="136.2"/><use href="#s" x="143.8" y="100.6"/><use href="#s" x="111.5" y="94.1"/><use href="#s" x="111.9" y="37.1"/><use href="#s" x="122.1" y="19.3"/><use href="#s" x="124.6" y="84.1"/><use href="#s" x="66.8" y="25.7"/><use href="#s" x="91.4" y="94.9"/><use href="#s" x="127.1" y="34.2"/><use href="#s" x="152.6" y="115.7"/><use href="#s" x="169.6" y="62.1"/><use href="#s" x="71.7" y="19.3"/><use href="#s" x="100.5" y="49.6"/><use href="#s" x="92.2" y="84.1"/><use href="#s" x="105.0" y="101.9"/><use href="#s" x="177.4" y="133.1"/><use href="#s" x="96.7" y="105.4"/><use href="#s" x="103.8" y="61.3"/><use href="#s" x="110.8" y="92.8"/><use href="#s" x="105.3" y="115.9"/><use href="#s" x="110.6" y="38.9"/><use href="#s" x="73.7" y="41.6"/><use href="#s" x="125.2" y="100.3"/><use href="#s" x="149.2" y="138.0"/><use href="#s" x="125.5" y="19.3"/><use href="#s" x="158.3" y="132.2"/><use href="#s" x="88.3" y="114.3"/><use href="#s" x="103.0" y="41.7"/><use href="#s" x="112.8" y="38.1"/><use href="#s" x="156.3" y="143.3"/><use href="#s" x="175.1" y="128.2"/><use href="#s" x="78.2" y="57.3"/><use href="#s" x="107.5" y="114.3"/><use href="#s" x="119.3" y="138.2"/><use href="#s" x="106.3" y="79.6"/><use href="#s" x="110.6" y="67.5"/><use href="#s" x="116.7" y="21.0"/><use href="#s" x="105.6" y="140.9"/><use href="#s" x="148.7" y="129.8"/><use href="#s" x="153.0" y="19.3"/><use href="#s" x="103.0" y="102.1"/><use href="#s" x="99.8" y="19.3"/><use href="#s" x="125.5" y="126.6"/><use href="#s" x="174.1" y="122.2"/><use href="#s" x="180.2" y="145.5"/><use href="#s" x="134.7" y="63.4"/><use href="#s" x="106.1" y="107.5"/><use href="#s" x="153.8" y="137.1"/><use href="#s" x="155.8" y="54.3"/><use href="#s" x="123.1" y="51.6"/><use href="#s" x="180.0" y="134.4"/><use href="#s" x="73.0" y="79.4"/><use href="#s" x="129.6" y="26.3"/><use href="#s" x="163.4" y="73.6"/><use href="#s" x="102.6" y="111.1"/><use href="#s" x="134.8" y="115.5"/><use href="#s" x="147.8" y="127.0"/><use href="#s" x="71.3" y="79.3"/><use href="#s" x="72.5" y="43.0"/><use href="#s" x="173.3" y="105.2"/><use href="#s" x="105.4" y="58.7"/><use href="#s" x="164.1" y="128.5"/><use href="#s" x="153.9" y="76.2"/><use href="#s" x="83.1" y="22.3"/><use href="#s" x="102.0" y="121.6"/><use href="#s" x="111.3" y="48.6"/><use href="#s" x="102.0" y="71.1"/><use href="#s" x="113.3" y="29.9"/><use href="#s" x="126.5" y="76.9"/><use href="#s" x="175.8" y="145.8"/><use href="#s" x="109.6" y="72.4"/><use href="#s" x="136.2" y="89.1"/><use href="#s" x="151.6" y="144.9"/><use href="#s" x="172.8" y="74.2"/><use href="#s" x="112.6" y="90.0"/><use href="#s" x="163.9" y="141.3"/><use href="#s" x="117.0" y="120.3"/><use href="#s" x="79.2" y="70.4"/><use href="#s" x="137.1" y="145.3"/><use href="#s" x="160.1" y="145.7"/><use href="#s" x="77.6" y="83.3"/><use href="#s" x="112.9" y="88.8"/><use href="#s" x="59.3" y="45.1"/><use href="#s" x="177.5" y="109.2"/><use href="#s" x="110.6" y="78.5"/><use href="#s" x="113.9" y="19.3"/><use href="#s" x="102.6" y="77.4"/><use href="#s" x="135.2" y="67.4"/><use href="#s" x="128.2" y="19.5"/><use href="#s" x="125.6" y="138.3"/><use href="#s" x="121.2" y="59.1"/><use href="#s" x="176.2" y="114.2"/><use href="#s" x="125.0" y="39.0"/><use href="#s" x="83.5" y="43.7"/><use href="#s" x="109.2" y="121.6"/><use href="#s" x="153.4" y="118.6"/><use href="#s" x="98.9" y="19.3"/><use href="#s" x="142.1" y="119.0"/><use href="#s" x="81.2" y="36.3"/><use href="#s" x="96.1" y="59.5"/><use href="#s" x="117.4" y="85.4"/><use href="#s" x="91.8" y="19.3"/><use href="#s" x="146.8" y="129.3"/><use href="#s" x="130.3" y="118.7"/><use href="#s" x="173.6" y="100.9"/><use href="#s" x="141.7" y="37.6"/><use href="#s" x="158.4" y="145.4"/><use href="#s" x="145.9" y="31.1"/><use href="#s" x="128.3" y="116.4"/><use href="#s" x="102.3" y="23.3"/><use href="#s" x="61.9" y="34.5"/><use href="#s" x="176.1" y="139.4"/><use href="#s" x="102.9" y="34.0"/><use href="#s" x="84.4" y="83.3"/><use href="#s" x="157.6" y="60.1"/><use href="#s" x="116.5" y="107.9"/><use href="#s" x="143.6" y="99.6"/><use href="#s" x="131.2" y="118.4"/><use href="#s" x="154.6" y="79.9"/><use href="#s" x="154.6" y="65.0"/><use href="#s" x="133.9" y="85.2"/><use href="#s" x="164.3" y="95.5"/><use href="#s" x="159.1" y="95.9"/><use href="#s" x="124.8" y="133.0"/><use href="#s" x="131.7" y="87.3"/><use href="#s" x="145.3" y="38.3"/><use href="#s" x="139.2" y="136.4"/><use href="#s" x="96.4" y="93.3"/><use href="#s" x="142.8" y="21.0"/><use href="#s" x="89.8" y="106.6"/><use href="#s" x="133.8" y="30.8"/><use href="#s" x="82.9" y="42.5"/><use href="#s" x="157.4" y="95.0"/><use href="#s" x="167.7" y="102.0"/><use href="#s" x="141.7" y="106.0"/><use href="#s" x="79.8" y="39.1"/><use href="#s" x="92.5" y="22.7"/><use href="#s" x="158.9" y="110.7"/><use href="#s" x="120.2" y="19.3"/><use href="#s" x="123.3" y="79.2"/><use href="#s" x="127.6" y="102.7"/><use href="#s" x="99.4" y="90.2"/><use href="#s" x="69.4" y="104.4"/><use href="#s" x="137.5" y="33.9"/><use href="#s" x="103.0" y="107.7"/><use href="#s" x="130.8" y="122.1"/><use href="#s" x="174.4" y="106.9"/><use href="#s" x="150.4" y="118.9"/><use href="#s" x="82.3" y="24.7"/><use href="#s" x="107.7" y="108.3"/><use href="#s" x="167.6" y="109.8"/><use href="#s" x="147.5" y="138.5"/><use href="#s" x="123.3" y="69.4"/><use href="#s" x="157.2" y="89.2"/><use href="#s" x="155.8" y="105.4"/><use href="#s" x="88.3" y="120.3"/><use href="#s" x="98.3" y="67.2"/><use href="#s" x="84.6" y="92.3"/><use href="#s" x="187.3" y="137.2"/><use href="#s" x="85.1" y="53.1"/><use href="#s" x="147.7" y="107.2"/><use href="#s" x="132.5" y="110.5"/><use href="#s" x="170.0" y="118.3"/><use href="#s" x="107.8" y="107.2"/><use href="#s" x="164.7" y="68.5"/><use href="#s" x="159.2" y="98.6"/><use href="#s" x="131.9" y="102.3"/><use href="#s" x="156.2" y="84.6"/><use href="#s" x="175.8" y="138.8"/><use href="#s" x="88.4" y="49.7"/><use href="#s" x="154.6" y="56.0"/><use href="#s" x="101.0" y="96.4"/><use href="#s" x="110.4" y="56.8"/><use href="#s" x="164.0" y="74.7"/><use href="#s" x="91.2" y="35.6"/><use href="#s" x="160.5" y="66.8"/><use href="#s" x="115.7" y="85.7"/><use href="#s" x="147.8" y="23.9"/><use href="#s" x="88.5" y="25.9"/><use href="#s" x="148.2" y="116.5"/><use href="#s" x="137.3" y="56.7"/><use href="#s" x="172.6" y="132.6"/><use href="#s" x="163.0" y="117.1"/><use href="#s" x="151.6" y="61.9"/><use href="#s" x="115.1" y="112.1"/><use href="#s" x="141.3" y="47.8"/><use href="#s" x="128.5" y="52.5"/><use href="#s" x="126.3" y="144.5"/><use href="#s" x="118.2" y="140.9"/><use href="#s" x="131.5" y="121.0"/><use href="#s" x="68.1" y="95.5"/><use href="#s" x="124.2" y="95.2"/><use href="#s" x="110.9" y="19.3"/><use href="#s" x="143.3" y="140.3"/><use href="#s" x="172.9" y="98.6"/><use href="#s" x="107.8" y="99.7"/><use href="#s" x="95.8" y="48.7"/><use href="#s" x="76.9" y="34.9"/><use href="#s" x="134.0" y="126.1"/><use href="#s" x="96.2" y="79.8"/><use href="#s" x="99.1" y="64.2"/><use href="#s" x="53.1" y="67.2"/><use href="#s" x="118.4" y="115.0"/><use href="#s" x="96.1" y="21.4"/><use href="#s" x="112.7" y="143.9"/><use href="#s" x="176.0" y="142.7"/><use href="#s" x="73.7" y="42.7"/><use href="#s" x="170.8" y="122.5"/><use href="#s" x="108.6" y="107.6"/><use href="#s" x="161.5" y="125.0"/><use href="#s" x="158.8" y="138.3"/><use href="#s" x="91.5" y="48.2"/><use href="#s" x="101.2" y="19.3"/><use href="#s" x="163.0" y="68.5"/><use href="#s" x="74.7" y="71.5"/><use href="#s" x="150.1" y="46.1"/><use href="#s" x="121.8" y="64.9"/><use href="#s" x="129.4" y="117.3"/><use href="#s" x="87.2" y="57.0"/><use href="#s" x="73.7" y="22.7"/><use href="#s" x="144.7" y="104.9"/><use href="#s" x="167.3" y="92.9"/><use href="#s" x="93.2" y="73.6"/><use href="#s" x="164.3" y="67.7"/><use href="#s" x="147.6" y="48.2"/><use href="#s" x="107.1" y="135.6"/><use href="#s" x="169.6" y="101.9"/><use href="#s" x="94.0" y="40.3"/><use href="#s" x="183.2" y="117.4"/><use href="#s" x="168.5" y="86.0"/><use href="#s" x="121.7" y="108.6"/><use href="#s" x="132.7" y="61.5"/><use href="#s" x="135.3" y="19.3"/><use href="#s" x="167.3" y="83.9"/><use href="#s" x="159.0" y="125.9"/><use href="#s" x="76.8" y="48.8"/><use href="#s" x="79.4" y="57.9"/><use href="#s" x="80.4" y="19.3"/><use href="#s" x="92.0" y="61.3"/><use href="#s" x="83.6" y="103.8"/><use href="#s" x="86.6" y="89.1"/><use href="#s" x="131.0" y="57.2"/><use href="#s" x="73.0" y="62.6"/><use href="#s" x="86.0" y="27.1"/><use href="#s" x="158.0" y="61.4"/><use href="#s" x="183.6" y="125.8"/><use href="#s" x="117.7" y="95.2"/><use href="#s" x="142.2" y="139.7"/><use href="#s" x="84.9" y="74.2"/><use href="#s" x="143.7" y="65.4"/><use href="#s" x="111.3" y="110.5"/><use href="#s" x="133.0" y="26.2"/><use href="#s" x="148.3" y="39.5"/><use href="#s" x="127.6" y="97.4"/><use href="#s" x="57.2" y="93.7"/><use href="#s" x="123.7" y="43.8"/><use href="#s" x="159.9" y="113.5"/><use href="#s" x="172.5" y="67.1"/><use href="#s" x="160.5" y="123.8"/><use href="#s" x="120.1" y="47.0"/><use href="#s" x="121.6" y="56.5"/><use href="#s" x="101.6" y="130.2"/><use href="#s" x="156.5" y="91.8"/><use href="#s" x="108.7" y="98.9"/><use href="#s" x="84.1" y="70.6"/><use href="#s" x="117.1" y="64.7"/><use href="#s" x="166.3" y="130.3"/><use href="#s" x="101.9" y="22.4"/><use href="#s" x="162.7" y="77.0"/><use href="#s" x="134.9" y="130.3"/><use href="#s" x="159.1" y="75.1"/><use href="#s" x="167.9" y="104.0"/><use href="#s" x="123.6" y="19.3"/><use href="#s" x="149.4" y="22.0"/><use href="#s" x="78.5" y="37.2"/><use href="#s" x="121.2" y="121.1"/><use href="#s" x="127.7" y="117.3"/><use href="#s" x="118.6" y="23.2"/><use href="#s" x="175.2" y="130.0"/><use href="#s" x="181.3" y="137.0"/><use href="#s" x="161.4" y="137.8"/><use href="#s" x="151.0" y="67.5"/><use href="#s" x="60.2" y="37.3"/><use href="#s" x="158.8" y="111.0"/><use href="#s" x="155.5" y="46.1"/><use href="#s" x="174.6" y="141.6"/><use href="#s" x="154.4" y="136.4"/><use href="#s" x="93.2" y="46.5"/><use href="#s" x="63.0" y="95.0"/><use href="#s" x="132.4" y="141.8"/><use href="#s" x="64.0" y="61.1"/><use href="#s" x="99.9" y="41.0"/><use href="#s" x="147.7" y="66.1"/><use href="#s" x="141.9" y="80.5"/><use href="#s" x="132.7" y="142.2"/><use href="#s" x="170.7" y="121.9"/><use href="#s" x="54.5" y="59.0"/><use href="#s" x="156.2" y="102.1"/><use href="#s" x="67.6" y="86.6"/><use href="#s" x="96.4" y="19.3"/><use href="#s" x="141.3" y="24.2"/><use href="#s" x="129.5" y="51.4"/><use href="#s" x="129.6" y="120.8"/><use href="#s" x="134.7" y="87.8"/><use href="#s" x="74.8" y="19.3"/><use href="#s" x="129.9" y="42.3"/><use href="#s" x="158.0" y="139.6"/><use href="#s" x="131.0" y="19.3"/><use href="#s" x="108.8" y="146.4"/><use href="#s" x="162.5" y="79.7"/><use href="#s" x="150.9" y="91.3"/><use href="#s" x="162.4" y="121.8"/><use href="#s" x="85.1" y="20.9"/><use href="#s" x="102.9" y="24.5"/><use href="#s" x="52.4" y="49.3"/><use href="#s" x="149.5" y="35.0"/><use href="#s" x="73.3" y="39.6"/><use href="#s" x="171.4" y="117.9"/><use href="#s" x="120.7" y="44.5"/><use href="#s" x="139.5" y="43.6"/><use href="#s" x="84.3" y="56.1"/><use href="#s" x="129.8" y="27.7"/><use href="#s" x="81.0" y="61.9"/><use href="#s" x="97.8" y="95.6"/><use href="#s" x="103.7" y="50.0"/><use href="#s" x="140.6" y="25.5"/><use href="#s" x="135.3" y="48.2"/><use href="#s" x="98.5" y="90.8"/><use href="#s" x="152.9" y="51.5"/><use href="#s" x="169.3" y="82.5"/><use href="#s" x="154.2" y="80.2"/><use href="#s" x="155.6" y="82.2"/><use href="#s" x="145.2" y="146.8"/><use href="#s" x="118.8" y="108.9"/><use href="#s" x="146.2" y="53.3"/><use href="#s" x="141.0" y="114.5"/><use href="#s" x="93.0" y="104.8"/><use href="#s" x="98.9" y="77.8"/><use href="#s" x="114.9" y="23.1"/><use href="#s" x="60.5" y="57.2"/><use href="#s" x="152.6" y="77.9"/><use href="#s" x="153.4" y="129.6"/><use href="#s" x="134.3" y="43.7"/><use href="#s" x="100.1" y="19.3"/><use href="#s" x="174.0" y="134.9"/><use href="#s" x="161.5" y="20.1"/><use href="#s" x="161.0" y="98.4"/><use href="#s" x="154.6" y="128.9"/><use href="#s" x="170.5" y="128.6"/><use href="#s" x="113.0" y="132.7"/><use href="#s" x="61.0" y="50.2"/><use href="#s" x="129.8" y="19.3"/><use href="#s" x="118.0" y="80.3"/><use href="#s" x="147.4" y="46.7"/><use href="#s" x="156.5" y="19.3"/><use href="#s" x="158.1" y="46.2"/><use href="#s" x="161.7" y="146.8"/><use href="#s" x="139.3" y="144.0"/><use href="#s" x="102.1" y="23.3"/><use href="#s" x="150.4" y="127.5"/><use href="#s" x="72.7" y="76.2"/><use href="#s" x="105.7" y="107.2"/><use href="#s" x="138.6" y="19.3"/><use href="#s" x="137.9" y="100.4"/><use href="#s" x="112.8" y="47.8"/><use href="#s" x="144.4" y="35.2"/><use href="#s" x="55.3" y="42.6"/><use href="#s" x="52.4" y="53.6"/><use href="#s" x="71.5" y="103.9"/><use href="#s" x="118.0" y="145.6"/><use href="#s" x="125.0" y="51.5"/><use href="#s" x="111.4" y="43.2"/><use href="#s" x="107.6" y="111.8"/><use href="#s" x="138.6" y="23.3"/><use href="#s" x="93.8" y="111.3"/><use href="#s" x="133.4" y="107.1"/><use href="#s" x="83.1" y="89.1"/><use href="#s" x="120.1" y="111.2"/><use href="#s" x="125.9" y="95.2"/><use href="#s" x="138.8" y="60.8"/><use href="#s" x="97.4" y="67.3"/><use href="#s" x="113.4" y="19.3"/><use href="#s" x="61.2" y="23.5"/><use href="#s" x="171.3" y="106.4"/><use href="#s" x="166.8" y="133.9"/><use href="#s" x="118.9" y="19.3"/><use href="#s" x="125.5" y="121.3"/><use href="#s" x="75.3" y="31.3"/><use href="#s" x="162.3" y="107.9"/><use href="#s" x="119.2" y="83.0"/><use href="#s" x="136.7" y="19.3"/><use href="#s" x="108.8" y="115.8"/><use href="#s" x="115.9" y="98.7"/><use href="#s" x="99.4" y="19.3"/><use href="#s" x="87.3" y="26.9"/><use href="#s" x="59.0" y="51.4"/><use href="#s" x="100.3" y="22.2"/><use href="#s" x="125.1" y="99.0"/><use href="#s" x="158.0" y="84.8"/><use href="#s" x="103.1" y="44.2"/><use href="#s" x="152.8" y="102.3"/><use href="#s" x="141.4" y="24.3"/><use href="#s" x="110.6" y="95.9"/><use href="#s" x="103.5" y="34.6"/><use href="#s" x="130.0" y="54.4"/><use href="#s" x="173.4" y="131.4"/><use href="#s" x="165.2" y="126.9"/><use href="#s" x="167.4" y="142.4"/><use href="#s" x="106.0" y="31.0"/><use href="#s" x="55.2" y="62.9"/><use href="#s" x="61.5" y="19.3"/><use href="#s" x="155.7" y="68.4"/><use href="#s" x="119.3" y="19.3"/><use href="#s" x="179.7" y="123.4"/><use href="#s" x="89.8" y="19.3"/><use href="#s" x="69.2" y="48.0"/><use href="#s" x="178.5" y="131.1"/><use href="#s" x="79.1" y="33.3"/><use href="#s" x="173.1" y="117.3"/><use href="#s" x="128.1" y="144.1"/><use href="#s" x="130.1" y="70.7"/><use href="#s" x="116.3" y="33.1"/><use href="#s" x="178.4" y="121.1"/><use href="#s" x="119.9" y="98.3"/><use href="#s" x="132.5" y="137.2"/><use href="#s" x="135.4" y="100.6"/><use href="#s" x="140.9" y="50.1"/><use href="#s" x="168.3" y="115.0"/><use href="#s" x="123.4" y="59.8"/><use href="#s" x="132.5" y="49.2"/><use href="#s" x="150.0" y="130.6"/><use href="#s" x="100.3" y="23.3"/><use href="#s" x="117.3" y="104.6"/><use href="#s" x="137.3" y="61.0"/><use href="#s" x="52.6" y="78.2"/><use href="#s" x="61.5" y="61.1"/><use href="#s" x="86.8" y="86.9"/><use href="#s" x="133.7" y="115.6"/><use href="#s" x="161.6" y="133.5"/><use href="#s" x="157.2" y="108.1"/><use href="#s" x="109.0" y="26.3"/><use href="#s" x="138.4" y="142.1"/><use href="#s" x="82.2" y="33.4"/><use href="#s" x="99.9" y="123.7"/><use href="#s" x="100.2" y="91.2"/><use href="#s" x="131.0" y="78.2"/><use href="#s" x="128.1" y="82.9"/><use href="#s" x="158.2" y="138.9"/><use href="#s" x="125.8" y="38.6"/><use href="#s" x="154.1" y="122.4"/><use href="#s" x="132.8" y="101.8"/><use href="#s" x="88.6" y="117.8"/><use href="#s" x="138.2" y="145.9"/><use href="#s" x="97.8" y="56.9"/><use href="#s" x="164.2" y="102.3"/><use href="#s" x="144.3" y="132.0"/><use href="#s" x="133.4" y="138.7"/><use href="#s" x="127.7" y="55.7"/><use href="#s" x="74.4" y="19.3"/><use href="#s" x="104.9" y="97.7"/><use href="#s" x="152.4" y="19.3"/><use href="#s" x="125.7" y="112.5"/><use href="#s" x="132.1" y="58.2"/><use href="#s" x="144.9" y="133.6"/><use href="#s" x="107.8" y="140.9"/><use href="#s" x="116.4" y="48.7"/><use href="#s" x="155.3" y="102.1"/><use href="#s" x="137.6" y="94.2"/><use href="#s" x="80.8" y="69.5"/><use href="#s" x="145.1" y="91.2"/><use href="#s" x="62.6" y="69.5"/><use href="#s" x="132.7" y="78.9"/><use href="#s" x="86.8" y="20.5"/><use href="#s" x="153.9" y="31.6"/><use href="#s" x="134.3" y="124.3"/><use href="#s" x="144.4" y="85.4"/><use href="#s" x="70.8" y="80.1"/><use href="#s" x="119.3" y="74.3"/><use href="#s" x="104.1" y="28.8"/><use href="#s" x="134.9" y="46.7"/><use href="#s" x="161.9" y="75.0"/><use href="#s" x="120.6" y="40.2"/><use href="#s" x="148.0" y="96.8"/><use href="#s" x="146.8" y="38.8"/><use href="#s" x="169.8" y="145.2"/><use href="#s" x="130.3" y="73.1"/><use href="#s" x="72.7" y="63.1"/><use href="#s" x="78.3" y="74.6"/><use href="#s" x="170.7" y="133.0"/><use href="#s" x="168.7" y="101.9"/><use href="#s" x="142.4" y="60.9"/><use href="#s" x="81.7" y="62.6"/><use href="#s" x="149.8" y="21.0"/><use href="#s" x="151.6" y="139.2"/><use href="#s" x="80.2" y="60.6"/><use href="#s" x="56.4" y="45.3"/><use href="#s" x="70.6" y="24.9"/><use href="#s" x="77.3" y="81.5"/><use href="#s" x="137.2" y="61.0"/><use href="#s" x="113.1" y="82.1"/><use href="#s" x="159.4" y="101.4"/><use href="#s" x="168.2" y="91.7"/><use href="#s" x="109.7" y="93.7"/><use href="#s" x="114.9" y="120.3"/><use href="#s" x="144.0" y="100.5"/><use href="#s" x="60.6" y="47.4"/><use href="#s" x="115.8" y="66.5"/><use href="#s" x="124.3" y="119.1"/><use href="#s" x="94.3" y="20.7"/><use href="#s" x="150.1" y="69.1"/><use href="#s" x="141.6" y="121.0"/><use href="#s" x="118.8" y="58.2"/><use href="#s" x="140.6" y="146.2"/><use href="#s" x="136.8" y="64.4"/><use href="#s" x="181.7" y="116.2"/><use href="#s" x="140.1" y="25.9"/><use href="#s" x="120.4" y="68.7"/><use href="#s" x="106.7" y="29.5"/><use href="#s" x="166.1" y="89.3"/><use href="#s" x="67.6" y="19.3"/><use href="#s" x="102.9" y="101.4"/><use href="#s" x="78.4" y="87.1"/><use href="#s" x="118.2" y="124.8"/><use href="#s" x="119.5" y="111.6"/><use href="#s" x="111.0" y="108.3"/><use href="#s" x="87.8" y="59.5"/><use href="#s" x="120.1" y="137.2"/><use href="#s" x="184.2" y="132.6"/><use href="#s" x="111.4" y="48.4"/><use href="#s" x="169.7" y="72.8"/><use href="#s" x="104.6" y="32.2"/><use href="#s" x="144.5" y="47.2"/><use href="#s" x="149.0" y="19.3"/><use href="#s" x="171.0" y="147.3"/><use href="#s" x="138.9" y="19.3"/><use href="#s" x="113.7" y="35.1"/><use href="#s" x="122.9" y="68.3"/><use href="#s" x="110.4" y="120.8"/><use href="#s" x="86.4" y="81.2"/><use href="#s" x="138.3" y="56.7"/><use href="#s" x="170.6" y="71.3"/><use href="#s" x="156.8" y="120.9"/><use href="#s" x="82.8" y="84.0"/><use href="#s" x="162.5" y="68.6"/><use href="#s" x="129.5" y="85.3"/><use href="#s" x="117.4" y="54.7"/><use href="#s" x="182.7" y="145.5"/><use href="#s" x="154.0" y="64.2"/><use href="#s" x="98.3" y="108.3"/><use href="#s" x="151.3" y="70.9"/><use href="#s" x="134.1" y="27.3"/><use href="#s" x="115.2" y="58.2"/><use href="#s" x="78.0" y="19.3"/><use href="#s" x="75.8" y="92.1"/><use href="#s" x="76.4" y="19.3"/><use href="#s" x="132.9" y="75.0"/><use href="#s" x="130.9" y="124.2"/><use href="#s" x="166.4" y="142.5"/><use href="#s" x="113.3" y="99.2"/><use href="#s" x="83.6" y="45.2"/><use href="#s" x="125.5" y="80.3"/><use href="#s" x="165.8" y="88.4"/><use href="#s" x="113.1" y="82.5"/><use href="#s" x="72.5" y="66.0"/><use href="#s" x="78.2" y="63.7"/><use href="#s" x="77.3" y="45.6"/><use href="#s" x="159.8" y="124.6"/><use href="#s" x="107.7" y="90.7"/><use href="#s" x="156.2" y="122.4"/><use href="#s" x="125.9" y="47.3"/><use href="#s" x="81.3" y="75.9"/><use href="#s" x="166.1" y="143.1"/><use href="#s" x="120.3" y="53.7"/><use href="#s" x="146.7" y="102.0"/><use href="#s" x="138.7" y="32.1"/><use href="#s" x="73.0" y="75.4"/><use href="#s" x="149.8" y="60.6"/><use href="#s" x="104.1" y="29.2"/><use href="#s" x="175.8" y="119.1"/><use href="#s" x="93.4" y="19.3"/><use href="#s" x="147.2" y="121.9"/><use href="#s" x="108.5" y="61.7"/><use href="#s" x="85.5" y="110.7"/><use href="#s" x="119.1" y="76.8"/><use href="#s" x="76.6" y="38.5"/><use href="#s" x="152.8" y="113.1"/><use href="#s" x="141.6" y="76.2"/><use href="#s" x="88.9" y="74.8"/><use href="#s" x="119.1" y="29.7"/><use href="#s" x="85.6" y="92.9"/><use href="#s" x="71.0" y="71.5"/><use href="#s" x="149.0" y="109.6"/><use href="#s" x="164.2" y="76.4"/><use href="#s" x="93.7" y="78.2"/><use href="#s" x="161.1" y="55.2"/><use href="#s" x="169.9" y="136.7"/><use href="#s" x="96.5" y="34.2"/><use href="#s" x="82.1" y="98.2"/><use href="#s" x="102.4" y="21.4"/><use href="#s" x="107.6" y="95.5"/><use href="#s" x="162.6" y="99.2"/><use href="#s" x="148.8" y="110.7"/><use href="#s" x="166.2" y="84.3"/><use href="#s" x="134.1" y="91.0"/><use href="#s" x="68.4" y="62.5"/><use href="#s" x="136.8" y="121.6"/><use href="#s" x="149.6" y="143.6"/><use href="#s" x="143.3" y="62.4"/><use href="#s" x="169.0" y="64.1"/><use href="#s" x="83.7" y="79.1"/><use href="#s" x="144.7" y="64.2"/><use href="#s" x="174.2" y="140.3"/><use href="#s" x="143.3" y="130.8"/><use href="#s" x="132.2" y="61.5"/><use href="#s" x="96.9" y="92.3"/><use href="#s" x="104.8" y="19.3"/><use href="#s" x="99.9" y="76.6"/><use href="#s" x="140.9" y="50.1"/><use href="#s" x="121.0" y="97.4"/><use href="#s" x="129.5" y="88.1"/><use href="#s" x="131.1" y="75.6"/><use href="#s" x="71.2" y="43.7"/><use href="#s" x="158.9" y="128.6"/><use href="#s" x="140.4" y="42.8"/><use href="#s" x="67.5" y="77.8"/><use href="#s" x="183.9" y="140.7"/><use href="#s" x="126.3" y="90.1"/><use href="#s" x="132.7" y="41.7"/><use href="#s" x="147.8" y="97.2"/><use href="#s" x="126.4" y="40.7"/><use href="#s" x="124.0" y="22.6"/><use href="#s" x="95.1" y="49.1"/><use href="#s" x="69.0" y="47.3"/><use href="#s" x="148.5" y="22.9"/><use href="#s" x="130.1" y="76.8"/><use href="#s" x="156.7" y="121.1"/><use href="#s" x="103.5" y="94.3"/><use href="#s" x="180.2" y="141.6"/><use href="#s" x="139.4" y="50.8"/><use href="#s" x="99.2" y="115.5"/><use href="#s" x="103.9" y="102.0"/><use href="#s" x="103.5" y="38.8"/><use href="#s" x="152.5" y="64.0"/><use href="#s" x="92.5" y="66.1"/><use href="#s" x="121.4" y="143.2"/><use href="#s" x="59.1" y="96.4"/><use href="#s" x="135.6" y="21.6"/><use href="#s" x="107.9" y="82.4"/><use href="#s" x="171.6" y="75.3"/><use href="#s" x="114.2" y="125.5"/><use href="#s" x="84.8" y="24.8"/><use href="#s" x="108.2" y="119.2"/><use href="#s" x="132.9" y="111.8"/><use href="#s" x="139.0" y="140.8"/><use href="#s" x="145.6" y="141.7"/><use href="#s" x="155.6" y="119.2"/><use href="#s" x="153.0" y="68.6"/><use href="#s" x="109.7" y="68.6"/><use href="#s" x="165.7" y="131.5"/><use href="#s" x="152.7" y="80.4"/><use href="#s" x="144.1" y="48.7"/><use href="#s" x="160.9" y="56.8"/><use href="#s" x="158.4" y="49.1"/><use href="#s" x="123.0" y="32.9"/><use href="#s" x="123.3" y="26.2"/><use href="#s" x="69.7" y="76.1"/><use href="#s" x="158.6" y="87.0"/><use href="#s" x="146.0" y="19.3"/><use href="#s" x="82.5" y="39.2"/><use href="#s" x="141.0" y="108.2"/><use href="#s" x="123.8" y="35.3"/><use href="#s" x="137.3" y="62.0"/><use href="#s" x="60.1" y="65.0"/><use href="#s" x="124.0" y="95.6"/><use href="#s" x="154.4" y="144.3"/><use href="#s" x="114.9" y="62.2"/><use href="#s" x="97.1" y="97.7"/><use href="#s" x="127.3" y="53.4"/><use href="#s" x="130.3" y="93.3"/><use href="#s" x="58.6" y="60.1"/><use href="#s" x="171.7" y="138.9"/><use href="#s" x="171.2" y="70.9"/><use href="#s" x="153.4" y="100.2"/><use href="#s" x="130.9" y="143.6"/><use href="#s" x="138.8" y="60.2"/><use href="#s" x="53.1" y="26.8"/><use href="#s" x="146.6" y="19.3"/><use href="#s" x="148.5" y="63.7"/><use href="#s" x="136.3" y="133.1"/><use href="#s" x="78.2" y="49.7"/><use href="#s" x="167.2" y="70.0"/><use href="#s" x="170.6" y="82.8"/><use href="#s" x="149.0" y="135.8"/><use href="#s" x="113.6" y="26.3"/><use href="#s" x="92.2" y="51.5"/><use href="#s" x="108.9" y="134.2"/><use href="#s" x="103.8" y="84.0"/><use href="#s" x="117.8" y="29.8"/><use href="#s" x="167.0" y="126.8"/><use href="#s" x="57.2" y="51.0"/><use href="#s" x="128.0" y="82.8"/><use href="#s" x="151.8" y="86.4"/><use href="#s" x="97.4" y="97.8"/><use href="#s" x="111.2" y="24.8"/><use href="#s" x="122.8" y="93.4"/><use href="#s" x="86.0" y="95.5"/><use href="#s" x="92.7" y="58.2"/><use href="#s" x="167.0" y="102.8"/><use href="#s" x="145.6" y="123.6"/><use href="#s" x="47.4" y="36.9"/><use href="#s" x="122.4" y="56.3"/><use href="#s" x="71.5" y="25.5"/><use href="#s" x="149.5" y="133.6"/><use href="#s" x="127.5" y="19.3"/><use href="#s" x="186.0" y="127.1"/><use href="#s" x="88.9" y="100.6"/><use href="#s" x="174.9" y="136.9"/><use href="#s" x="162.3" y="62.6"/><use href="#s" x="96.5" y="40.1"/><use href="#s" x="155.1" y="19.4"/><use href="#s" x="71.9" y="57.0"/><use href="#s" x="88.9" y="62.8"/><use href="#s" x="112.0" y="115.4"/><use href="#s" x="118.4" y="104.0"/><use href="#s" x="111.8" y="42.7"/><use href="#s" x="52.9" y="71.7"/><use href="#s" x="173.8" y="126.4"/><use href="#s" x="62.5" y="27.5"/><use href="#s" x="161.3" y="128.9"/><use href="#s" x="167.5" y="78.8"/><use href="#s" x="83.9" y="68.6"/><use href="#s" x="168.0" y="129.3"/><use href="#s" x="169.7" y="139.4"/><use href="#s" x="77.1" y="58.7"/><use href="#s" x="126.8" y="29.2"/><use href="#s" x="68.1" y="48.3"/><use href="#s" x="140.9" y="19.3"/><use href="#s" x="81.2" y="53.1"/><use href="#s" x="152.8" y="141.0"/><use href="#s" x="131.9" y="144.1"/><use href="#s" x="56.8" y="51.3"/><use href="#s" x="136.0" y="52.7"/><use href="#s" x="123.9" y="88.1"/><use href="#s" x="125.9" y="47.8"/><use href="#s" x="161.2" y="88.7"/><use href="#s" x="118.5" y="86.0"/><use href="#s" x="155.8" y="121.7"/><use href="#s" x="156.2" y="141.2"/><use href="#s" x="100.5" y="92.3"/><use href="#s" x="99.0" y="75.5"/><use href="#s" x="117.4" y="80.9"/><use href="#s" x="83.1" y="98.9"/><use href="#s" x="100.5" y="26.6"/><use href="#s" x="177.6" y="140.7"/><use href="#s" x="88.4" y="19.3"/><use href="#s" x="179.0" y="139.9"/><use href="#s" x="103.8" y="106.3"/><use href="#s" x="133.2" y="112.0"/><use href="#s" x="131.9" y="41.8"/><use href="#s" x="156.5" y="117.9"/><use href="#s" x="67.7" y="82.9"/><use href="#s" x="120.2" y="78.4"/><use href="#s" x="132.6" y="19.3"/><use href="#s" x="159.7" y="61.8"/><use href="#s" x="135.6" y="124.9"/><use href="#s" x="170.5" y="106.1"/><use href="#s" x="104.4" y="40.5"/><use href="#s" x="179.0" y="124.4"/><use href="#s" x="149.6" y="140.1"/><use href="#s" x="92.4" y="62.1"/><use href="#s" x="73.2" y="57.7"/><use href="#s" x="86.2" y="33.6"/><use href="#s" x="177.3" y="112.0"/><use href="#s" x="56.1" y="69.9"/><use href="#s" x="127.7" y="83.8"/><use href="#s" x="90.8" y="52.8"/><use href="#s" x="153.4" y="103.1"/><use href="#s" x="154.2" y="64.0"/><use href="#s" x="88.6" y="45.5"/><use href="#s" x="155.6" y="131.2"/><use href="#s" x="157.1" y="109.6"/><use href="#s" x="94.4" y="63.4"/><use href="#s" x="173.5" y="117.0"/><use href="#s" x="124.6" y="104.2"/><use href="#s" x="137.0" y="48.8"/><use href="#s" x="151.0" y="113.0"/><use href="#s" x="146.7" y="132.6"/><use href="#s" x="155.1" y="68.8"/><use href="#s" x="127.6" y="93.5"/><use href="#s" x="95.2" y="78.3"/><use href="#s" x="133.3" y="146.1"/><use href="#s" x="145.2" y="92.7"/><use href="#s" x="164.9" y="116.4"/><use href="#s" x="157.0" y="119.2"/><use href="#s" x="170.9" y="146.6"/><use href="#s" x="142.2" y="77.5"/><use href="#s" x="70.4" y="45.2"/><use href="#s" x="158.5" y="131.8"/><use href="#s" x="85.6" y="94.4"/><use href="#s" x="157.1" y="46.6"/><use href="#s" x="152.9" y="100.0"/><use href="#s" x="172.4" y="106.1"/><use href="#s" x="135.2" y="112.6"/><use href="#s" x="107.8" y="52.5"/><use href="#s" x="122.0" y="71.3"/><use href="#s" x="164.8" y="81.8"/><use href="#s" x="99.1" y="55.6"/><use href="#s" x="126.1" y="57.1"/><use href="#s" x="124.2" y="71.5"/><use href="#s" x="114.7" y="35.1"/><use href="#s" x="122.6" y="72.4"/><use href="#s" x="109.2" y="98.2"/><use href="#s" x="157.6" y="61.2"/><use href="#s" x="129.9" y="22.4"/><use href="#s" x="151.2" y="136.7"/><use href="#s" x="107.1" y="19.3"/><use href="#s" x="105.9" y="19.3"/><use href="#s" x="107.6" y="48.0"/><use href="#s" x="144.1" y="130.0"/><use href="#s" x="107.4" y="123.2"/><use href="#s" x="92.1" y="42.6"/><use href="#s" x="177.4" y="123.4"/><use href="#s" x="142.2" y="142.0"/><use href="#s" x="105.2" y="98.5"/><use href="#s" x="145.2" y="110.3"/><use href="#s" x="159.4" y="65.8"/><use href="#s" x="166.5" y="142.3"/><use href="#s" x="169.1" y="81.9"/><use href="#s" x="91.1" y="44.1"/><use href="#s" x="99.2" y="19.3"/><use href="#s" x="136.4" y="135.8"/><use href="#s" x="171.3" y="130.5"/><use href="#s" x="63.6" y="101.4"/><use href="#s" x="66.5" y="57.8"/><use href="#s" x="158.5" y="143.2"/><use href="#s" x="135.9" y="24.4"/><use href="#s" x="91.8" y="45.0"/><use href="#s" x="183.0" y="129.3"/><use href="#s" x="106.6" y="119.9"/><use href="#s" x="104.3" y="21.9"/><use href="#s" x="91.1" y="21.3"/><use href="#s" x="94.4" y="19.3"/><use href="#s" x="78.0" y="40.8"/><use href="#s" x="169.2" y="144.3"/><use href="#s" x="174.0" y="94.4"/><use href="#s" x="146.5" y="40.0"/><use href="#s" x="130.4" y="19.3"/><use href="#s" x="127.9" y="19.3"/><use href="#s" x="100.7" y="25.8"/><use href="#s" x="169.3" y="107.2"/><use href="#s" x="84.0" y="19.3"/><use href="#s" x="151.4" y="19.3"/><use href="#s" x="114.6" y="43.5"/><use href="#s" x="141.0" y="95.1"/><use href="#s" x="125.3" y="113.5"/><use href="#s" x="139.7" y="47.0"/><use href="#s" x="160.4" y="100.1"/><use href="#s" x="132.4" y="80.2"/><use href="#s" x="132.0" y="82.8"/><use href="#s" x="135.6" y="72.1"/><use href="#s" x="143.4" y="24.3"/><use href="#s" x="146.8" y="113.5"/><use href="#s" x="145.6" y="64.4"/><use href="#s" x="107.7" y="115.2"/><use href="#s" x="154.7" y="83.0"/><use href="#s" x="182.5" y="142.7"/><use href="#s" x="124.6" y="70.0"/><use href="#s" x="153.9" y="107.4"/><use href="#s" x="116.2" y="42.2"/><use href="#s" x="141.2" y="31.4"/><use href="#s" x="81.8" y="84.2"/><use href="#s" x="86.3" y="93.2"/><use href="#s" x="146.8" y="122.9"/><use href="#s" x="160.0" y="125.6"/><use href="#s" x="96.1" y="42.2"/><use href="#s" x="129.2" y="103.0"/><use href="#s" x="181.0" y="130.3"/><use href="#s" x="176.0" y="120.5"/><use href="#s" x="142.9" y="93.8"/><use href="#s" x="118.1" y="85.9"/><use href="#s" x="114.7" y="93.9"/><use href="#s" x="164.6" y="137.5"/><use href="#s" x="120.1" y="65.2"/><use href="#s" x="152.8" y="144.9"/><use href="#s" x="90.7" y="79.9"/><use href="#s" x="89.8" y="90.3"/><use href="#s" x="163.9" y="104.4"/><use href="#s" x="165.4" y="91.9"/><use href="#s" x="186.2" y="146.8"/><use href="#s" x="177.5" y="141.8"/><use href="#s" x="103.1" y="97.3"/><use href="#s" x="88.5" y="67.5"/><use href="#s" x="111.5" y="125.6"/><use href="#s" x="141.0" y="72.9"/><use href="#s" x="87.6" y="54.4"/><use href="#s" x="83.5" y="60.7"/><use href="#s" x="100.7" y="43.1"/><use href="#s" x="106.0" y="102.1"/><use href="#s" x="96.6" y="23.0"/><use href="#s" x="173.8" y="104.9"/><use href="#s" x="126.5" y="141.7"/><use href="#s" x="168.5" y="76.9"/><use href="#s" x="158.8" y="47.5"/><use href="#s" x="176.5" y="118.4"/><use href="#s" x="151.5" y="121.0"/><use href="#s" x="145.1" y="140.6"/><use href="#s" x="131.7" y="114.9"/><use href="#s" x="133.9" y="67.1"/><use href="#s" x="146.6" y="21.9"/><use href="#s" x="171.3" y="115.5"/><use href="#s" x="172.8" y="145.7"/><use href="#s" x="154.4" y="80.7"/><use href="#s" x="127.6" y="56.8"/><use href="#s" x="104.6" y="22.8"/><use href="#s" x="117.3" y="19.3"/><use href="#s" x="171.2" y="137.0"/><use href="#s" x="175.0" y="134.9"/><use href="#s" x="75.9" y="42.5"/><use href="#s" x="106.0" y="97.4"/><use href="#s" x="93.5" y="86.9"/><use href="#s" x="133.8" y="95.3"/><use href="#s" x="155.1" y="126.0"/><use href="#s" x="149.2" y="68.2"/><use href="#s" x="168.4" y="137.5"/><use href="#s" x="97.3" y="59.0"/><use href="#s" x="162.8" y="65.7"/><use href="#s" x="115.0" y="107.6"/><use href="#s" x="177.0" y="98.1"/><use href="#s" x="161.7" y="82.2"/><use href="#s" x="163.8" y="138.3"/><use href="#s" x="160.5" y="69.5"/><use href="#s" x="121.9" y="72.9"/><use href="#s" x="165.8" y="90.2"/><use href="#s" x="83.6" y="83.0"/><use href="#s" x="95.1" y="23.7"/><use href="#s" x="82.7" y="25.9"/><use href="#s" x="87.3" y="46.9"/><use href="#s" x="167.1" y="99.6"/><use href="#s" x="152.6" y="21.1"/><use href="#s" x="133.8" y="77.3"/><use href="#s" x="152.6" y="107.3"/><use href="#s" x="177.2" y="145.7"/><use href="#s" x="114.1" y="115.4"/><use href="#s" x="117.5" y="23.1"/><use href="#s" x="136.9" y="62.8"/><use href="#s" x="140.6" y="104.2"/><use href="#s" x="123.4" y="48.6"/><use href="#s" x="112.6" y="98.5"/><use href="#s" x="88.6" y="39.3"/><use href="#s" x="55.5" y="34.2"/><use href="#s" x="102.1" y="93.6"/><use href="#s" x="155.1" y="46.4"/><use href="#s" x="69.7" y="98.0"/><use href="#s" x="84.9" y="36.8"/><use href="#s" x="155.4" y="48.2"/><use href="#s" x="81.0" y="66.7"/><use href="#s" x="68.5" y="55.1"/><use href="#s" x="162.7" y="105.8"/><use href="#s" x="150.0" y="19.3"/><use href="#s" x="175.5" y="126.9"/><use href="#s" x="102.2" y="69.8"/><use href="#s" x="150.1" y="58.5"/><use href="#s" x="103.8" y="97.8"/><use href="#s" x="99.6" y="47.4"/><use href="#s" x="129.3" y="129.0"/><use href="#s" x="125.6" y="42.3"/><use href="#s" x="139.7" y="133.0"/><use href="#s" x="156.6" y="27.6"/><use href="#s" x="149.0" y="32.1"/><use href="#s" x="135.1" y="44.1"/><use href="#s" x="98.6" y="74.3"/><use href="#s" x="115.3" y="102.8"/><use href="#s" x="128.0" y="116.1"/><use href="#s" x="107.5" y="37.8"/><use href="#s" x="136.8" y="128.7"/><use href="#s" x="148.9" y="41.2"/><use href="#s" x="150.5" y="33.1"/><use href="#s" x="153.6" y="23.9"/><use href="#s" x="108.4" y="28.9"/><use href="#s" x="120.9" y="76.6"/><use href="#s" x="122.0" y="136.9"/><use href="#s" x="177.3" y="121.6"/><use href="#s" x="85.0" y="100.1"/><use href="#s" x="157.6" y="145.9"/><use href="#s" x="83.9" y="35.1"/><use href="#s" x="105.7" y="114.6"/><use href="#s" x="86.6" y="78.4"/><use href="#s" x="130.0" y="129.5"/><use href="#s" x="145.3" y="39.0"/><use href="#s" x="89.7" y="35.9"/><use href="#s" x="86.4" y="87.5"/><use href="#s" x="181.5" y="143.2"/><use href="#s" x="84.6" y="56.6"/><use href="#s" x="98.7" y="32.5"/><use href="#s" x="144.7" y="19.6"/><use href="#s" x="112.6" y="136.4"/><use href="#s" x="157.3" y="135.6"/><use href="#s" x="96.8" y="103.5"/><use href="#s" x="136.8" y="90.6"/><use href="#s" x="132.6" y="114.0"/><use href="#s" x="143.5" y="106.8"/><use href="#s" x="159.0" y="61.4"/><use href="#s" x="117.0" y="112.6"/><use href="#s" x="155.2" y="126.7"/><use href="#s" x="79.6" y="26.4"/><use href="#s" x="93.4" y="101.5"/><use href="#s" x="110.8" y="94.1"/><use href="#s" x="85.1" y="58.9"/><use href="#s" x="149.6" y="144.7"/><use href="#s" x="117.6" y="65.9"/><use href="#s" x="166.2" y="86.4"/><use href="#s" x="131.0" y="136.7"/><use href="#s" x="125.6" y="54.2"/><use href="#s" x="149.5" y="141.9"/><use href="#s" x="154.0" y="120.9"/><use href="#s" x="143.5" y="30.0"/><use href="#s" x="169.9" y="138.2"/><use href="#s" x="153.8" y="143.6"/><use href="#s" x="140.0" y="118.8"/><use href="#s" x="133.6" y="19.3"/><use href="#s" x="89.4" y="26.8"/><use href="#s" x="165.9" y="140.7"/><use href="#s" x="109.5" y="67.9"/><use href="#s" x="154.1" y="135.4"/><use href="#s" x="128.0" y="27.5"/><use href="#s" x="140.1" y="63.6"/><use href="#s" x="65.7" y="54.0"/><use href="#s" x="126.6" y="66.2"/><use href="#s" x="117.6" y="139.1"/><use href="#s" x="177.7" y="103.1"/><use href="#s" x="137.1" y="50.5"/><use href="#s" x="172.7" y="117.4"/><use href="#s" x="73.3" y="62.7"/><use href="#s" x="124.0" y="100.6"/><use href="#s" x="139.3" y="75.9"/><use href="#s" x="167.2" y="126.6"/><use href="#s" x="89.0" y="47.0"/><use href="#s" x="110.0" y="26.8"/><use href="#s" x="132.0" y="138.6"/><use href="#s" x="49.8" y="90.7"/><use href="#s" x="140.1" y="41.8"/><use href="#s" x="131.8" y="114.0"/><use href="#s" x="113.2" y="19.3"/><use href="#s" x="147.4" y="62.1"/><use href="#s" x="98.9" y="44.6"/><use href="#s" x="101.7" y="77.0"/><use href="#s" x="87.4" y="59.3"/><use href="#s" x="106.3" y="25.7"/><use href="#s" x="105.6" y="20.4"/><use href="#s" x="114.3" y="112.8"/><use href="#s" x="53.2" y="44.6"/><use href="#s" x="82.8" y="107.0"/><use href="#s" x="177.2" y="135.2"/><use href="#s" x="121.2" y="48.5"/><use href="#s" x="177.5" y="128.5"/><use href="#s" x="118.8" y="71.1"/><use href="#s" x="155.1" y="136.3"/><use href="#s" x="121.6" y="19.6"/><use href="#s" x="109.5" y="145.9"/><use href="#s" x="112.3" y="112.7"/><use href="#s" x="135.1" y="48.9"/><use href="#s" x="99.8" y="88.6"/><use href="#s" x="151.4" y="19.3"/><use href="#s" x="113.4" y="19.6"/><use href="#s" x="121.9" y="113.9"/><use href="#s" x="153.1" y="42.9"/><use href="#s" x="167.4" y="80.1"/><use href="#s" x="135.6" y="97.2"/><use href="#s" x="146.8" y="59.4"/><use href="#s" x="180.6" y="129.5"/><use href="#s" x="91.3" y="97.8"/><use href="#s" x="133.2" y="77.8"/><use href="#s" x="181.7" y="131.8"/><use href="#s" x="114.8" y="23.2"/><use href="#s" x="99.7" y="58.3"/><use href="#s" x="58.5" y="67.5"/><use href="#s" x="139.9" y="31.6"/><use href="#s" x="110.8" y="21.4"/><use href="#s" x="107.5" y="107.3"/><use href="#s" x="63.3" y="89.0"/><use href="#s" x="164.5" y="92.7"/><use href="#s" x="135.8" y="132.3"/><use href="#s" x="157.7" y="124.0"/><use href="#s" x="142.7" y="57.4"/><use href="#s" x="133.6" y="115.3"/><use href="#s" x="55.9" y="28.4"/><use href="#s" x="107.9" y="79.9"/><use href="#s" x="104.1" y="96.1"/><use href="#s" x="176.9" y="136.8"/><use href="#s" x="157.4" y="62.7"/><use href="#s" x="148.5" y="22.7"/><use href="#s" x="55.2" y="42.9"/><use href="#s" x="119.0" y="74.6"/><use href="#s" x="94.1" y="96.2"/><use href="#s" x="126.7" y="35.3"/><use href="#s" x="163.7" y="133.8"/><use href="#s" x="123.5" y="134.3"/><use href="#s" x="52.6" y="74.9"/><use href="#s" x="118.6" y="74.3"/><use href="#s" x="155.1" y="42.4"/><use href="#s" x="148.7" y="144.3"/><use href="#s" x="54.3" y="34.1"/><use href="#s" x="85.7" y="35.0"/><use href="#s" x="146.7" y="81.1"/><use href="#s" x="133.8" y="30.2"/><use href="#s" x="81.0" y="54.6"/><use href="#s" x="123.8" y="82.5"/><use href="#s" x="94.3" y="37.1"/><use href="#s" x="132.1" y="111.5"/><use href="#s" x="167.2" y="108.0"/><use href="#s" x="130.8" y="127.4"/><use href="#s" x="147.8" y="120.5"/><use href="#s" x="72.1" y="26.7"/><use href="#s" x="156.9" y="123.6"/><use href="#s" x="74.6" y="19.3"/><use href="#s" x="151.9" y="145.3"/><use href="#s" x="144.4" y="64.0"/><use href="#s" x="92.3" y="66.1"/><use href="#s" x="80.8" y="56.7"/><use href="#s" x="71.9" y="46.1"/><use href="#s" x="120.2" y="19.3"/><use href="#s" x="119.8" y="107.6"/><use href="#s" x="68.8" y="28.4"/><use href="#s" x="162.8" y="80.9"/><use href="#s" x="129.3" y="127.3"/><use href="#s" x="161.5" y="65.7"/><use href="#s" x="82.8" y="65.3"/><use href="#s" x="147.2" y="132.4"/><use href="#s" x="168.1" y="120.8"/><use href="#s" x="119.6" y="100.9"/><use href="#s" x="164.8" y="94.2"/><use href="#s" x="112.7" y="50.6"/><use href="#s" x="166.6" y="117.9"/><use href="#s" x="165.0" y="74.9"/><use href="#s" x="170.9" y="93.5"/><use href="#s" x="142.2" y="49.0"/><use href="#s" x="148.9" y="122.8"/><use href="#s" x="84.4" y="96.5"/><use href="#s" x="131.3" y="21.5"/><use href="#s" x="170.6" y="96.6"/><use href="#s" x="68.3" y="47.5"/><use href="#s" x="122.3" y="66.6"/><use href="#s" x="170.3" y="78.1"/><use href="#s" x="132.0" y="128.5"/><use href="#s" x="173.4" y="103.2"/><use href="#s" x="130.2" y="70.2"/><use href="#s" x="98.1" y="111.4"/><use href="#s" x="97.8" y="65.5"/><use href="#s" x="126.0" y="107.4"/><use href="#s" x="74.0" y="56.3"/><use href="#s" x="131.5" y="100.2"/><use href="#s" x="131.3" y="113.7"/><use href="#s" x="121.7" y="106.9"/><use href="#s" x="147.8" y="139.4"/><use href="#s" x="106.0" y="81.1"/><use href="#s" x="125.0" y="123.3"/><use href="#s" x="179.4" y="122.9"/><use href="#s" x="96.6" y="112.4"/><use href="#s" x="80.7" y="26.3"/><use href="#s" x="148.6" y="123.1"/><use href="#s" x="61.9" y="49.4"/><use href="#s" x="121.5" y="58.3"/><use href="#s" x="82.4" y="19.3"/><use href="#s" x="81.8" y="39.3"/><use href="#s" x="131.4" y="108.6"/><use href="#s" x="140.7" y="22.9"/><use href="#s" x="88.9" y="120.2"/><use href="#s" x="126.4" y="140.1"/><use href="#s" x="94.6" y="103.9"/><use href="#s" x="160.8" y="110.3"/><use href="#s" x="135.0" y="145.4"/><use href="#s" x="174.7" y="136.3"/><use href="#s" x="108.8" y="83.0"/><use href="#s" x="103.5" y="82.5"/><use href="#s" x="128.0" y="116.6"/><use href="#s" x="83.9" y="47.4"/><use href="#s" x="179.1" y="145.0"/><use href="#s" x="145.9" y="119.6"/><use href="#s" x="115.7" y="48.8"/><use href="#s" x="101.0" y="61.8"/><use href="#s" x="178.2" y="138.4"/><use href="#s" x="55.7" y="46.0"/><use href="#s" x="140.7" y="19.3"/><use href="#s" x="94.5" y="98.5"/><use href="#s" x="122.7" y="134.8"/><use href="#s" x="144.9" y="110.2"/><use href="#s" x="132.8" y="25.2"/><use href="#s" x="164.1" y="86.3"/><use href="#s" x="85.4" y="54.0"/><use href="#s" x="130.3" y="19.3"/><use href="#s" x="158.0" y="118.6"/><use href="#s" x="153.4" y="45.0"/><use href="#s" x="109.6" y="105.9"/><use href="#s" x="106.4" y="46.1"/><use href="#s" x="101.8" y="23.8"/><use href="#s" x="150.8" y="78.4"/><use href="#s" x="160.5" y="145.6"/><use href="#s" x="145.1" y="119.4"/><use href="#s" x="113.9" y="115.1"/><use href="#s" x="186.0" y="129.5"/><use href="#s" x="135.6" y="55.4"/><use href="#s" x="70.0" y="82.3"/><use href="#s" x="129.2" y="116.4"/><use href="#s" x="110.5" y="74.1"/><use href="#s" x="147.1" y="133.0"/><use href="#s" x="151.4" y="134.8"/><use href="#s" x="74.6" y="81.2"/><use href="#s" x="87.3" y="19.3"/><use href="#s" x="102.3" y="73.1"/><use href="#s" x="163.3" y="84.9"/><use href="#s" x="117.6" y="111.0"/><use href="#s" x="124.4" y="111.0"/><use href="#s" x="117.2" y="92.9"/><use href="#s" x="74.1" y="23.5"/><use href="#s" x="150.7" y="26.8"/><use href="#s" x="92.9" y="73.0"/><use href="#s" x="125.2" y="37.8"/><use href="#s" x="142.0" y="48.0"/><use href="#s" x="156.3" y="147.4"/><use href="#s" x="145.5" y="27.2"/><use href="#s" x="124.4" y="56.7"/><use href="#s" x="155.7" y="19.3"/><use href="#s" x="86.6" y="98.0"/><use href="#s" x="48.3" y="62.0"/><use href="#s" x="87.0" y="34.2"/><use href="#s" x="90.2" y="73.1"/><use href="#s" x="113.3" y="98.4"/><use href="#s" x="123.8" y="133.4"/><use href="#s" x="151.4" y="22.6"/><use href="#s" x="156.1" y="132.7"/><use href="#s" x="101.6" y="55.2"/><use href="#s" x="171.5" y="105.5"/><use href="#s" x="183.1" y="139.5"/><use href="#s" x="60.5" y="73.2"/><use href="#s" x="108.6" y="75.9"/><use href="#s" x="147.9" y="102.3"/><use href="#s" x="177.1" y="123.9"/><use href="#s" x="160.7" y="19.3"/><use href="#s" x="167.4" y="75.3"/><use href="#s" x="84.5" y="27.6"/><use href="#s" x="116.7" y="47.7"/><use href="#s" x="113.7" y="103.7"/><use href="#s" x="97.2" y="28.7"/><use href="#s" x="97.4" y="47.0"/><use href="#s" x="82.4" y="104.1"/><use href="#s" x="144.6" y="34.4"/><use href="#s" x="175.4" y="131.5"/><use href="#s" x="168.2" y="91.9"/><use href="#s" x="70.4" y="84.2"/><use href="#s" x="153.0" y="114.4"/><use href="#s" x="151.6" y="19.3"/><use href="#s" x="159.6" y="119.5"/><use href="#s" x="95.8" y="64.8"/><use href="#s" x="111.5" y="52.0"/><use href="#s" x="104.3" y="134.5"/><use href="#s" x="60.4" y="44.7"/><use href="#s" x="146.7" y="72.3"/><use href="#s" x="87.7" y="58.6"/><use href="#s" x="86.9" y="98.7"/><use href="#s" x="165.6" y="107.0"/><use href="#s" x="89.6" y="47.0"/><use href="#s" x="61.4" y="27.3"/><use href="#s" x="153.7" y="19.3"/><use href="#s" x="128.6" y="124.3"/><use href="#s" x="148.4" y="55.9"/><use href="#s" x="156.7" y="125.8"/><use href="#s" x="85.2" y="31.7"/><use href="#s" x="156.6" y="67.5"/><use href="#s" x="106.5" y="43.1"/><use href="#s" x="146.1" y="97.8"/><use href="#s" x="112.9" y="63.8"/><use href="#s" x="152.4" y="113.3"/><use href="#s" x="165.0" y="61.1"/><use href="#s" x="132.9" y="70.3"/><use href="#s" x="166.3" y="117.8"/><use href="#s" x="142.9" y="28.8"/><use href="#s" x="115.0" y="138.8"/><use href="#s" x="93.1" y="98.6"/><use href="#s" x="152.9" y="93.4"/><use href="#s" x="65.9" y="80.3"/><use href="#s" x="117.3" y="47.4"/><use href="#s" x="149.1" y="38.8"/><use href="#s" x="83.7" y="20.9"/><use href="#s" x="140.0" y="134.8"/><use href="#s" x="144.7" y="115.4"/><use href="#s" x="79.2" y="103.6"/><use href="#s" x="98.7" y="91.6"/><use href="#s" x="132.2" y="129.9"/><use href="#s" x="140.0" y="19.3"/><use href="#s" x="155.6" y="126.4"/><use href="#s" x="59.8" y="24.8"/><use href="#s" x="130.6" y="42.6"/><use href="#s" x="119.5" y="109.5"/><use href="#s" x="155.3" y="83.2"/><use href="#s" x="85.2" y="77.9"/><use href="#s" x="161.5" y="60.3"/><use href="#s" x="104.7" y="51.6"/><use href="#s" x="185.4" y="145.1"/><use href="#s" x="141.9" y="40.5"/><use href="#s" x="140.5" y="141.3"/><use href="#s" x="114.0" y="60.2"/><use href="#s" x="138.1" y="104.6"/><use href="#s" x="125.1" y="43.0"/><use href="#s" x="158.5" y="105.8"/><use href="#s" x="166.4" y="133.6"/><use href="#s" x="132.5" y="125.6"/><use href="#s" x="92.2" y="52.8"/><use href="#s" x="157.5" y="142.6"/><use href="#s" x="137.8" y="19.3"/><use href="#s" x="135.5" y="62.5"/><use href="#s" x="97.4" y="124.1"/><use href="#s" x="119.9" y="137.1"/><use href="#s" x="114.7" y="137.0"/><use href="#s" x="142.3" y="19.4"/><use href="#s" x="151.1" y="119.1"/><use href="#s" x="112.3" y="50.3"/><use href="#s" x="121.5" y="27.0"/><use href="#s" x="67.3" y="30.4"/><use href="#s" x="157.1" y="61.1"/><use href="#s" x="152.6" y="92.2"/><use href="#s" x="114.0" y="94.0"/><use href="#s" x="121.2" y="26.3"/><use href="#s" x="168.8" y="115.6"/><use href="#s" x="128.3" y="19.3"/><use href="#s" x="59.3" y="24.3"/><use href="#s" x="68.6" y="88.2"/><use href="#s" x="140.9" y="57.3"/><use href="#s" x="157.4" y="51.6"/><use href="#s" x="152.7" y="21.7"/><use href="#s" x="83.8" y="65.1"/><use href="#s" x="130.5" y="134.8"/><use href="#s" x="100.7" y="61.9"/><use href="#s" x="84.8" y="87.0"/><use href="#s" x="80.1" y="100.8"/><use href="#s" x="126.7" y="43.2"/><use href="#s" x="156.9" y="72.5"/><use href="#s" x="129.7" y="37.3"/><use href="#s" x="167.9" y="115.5"/><use href="#s" x="149.3" y="51.8"/><use href="#s" x="87.8" y="19.3"/><use href="#s" x="71.1" y="52.5"/><use href="#s" x="169.7" y="128.1"/><use href="#s" x="140.0" y="99.3"/><use href="#s" x="68.2" y="50.8"/><use href="#s" x="94.1" y="79.2"/><use href="#s" x="97.9" y="57.7"/><use href="#s" x="133.7" y="133.8"/><use href="#s" x="157.0" y="65.4"/><use href="#s" x="143.4" y="68.1"/><use href="#s" x="101.4" y="121.2"/><use href="#s" x="105.4" y="122.0"/><use href="#s" x="107.4" y="19.3"/><use href="#s" x="175.2" y="132.1"/><use href="#s" x="104.1" y="44.2"/><use href="#s" x="98.0" y="19.8"/><use href="#s" x="135.3" y="116.9"/><use href="#s" x="111.9" y="42.5"/><use href="#s" x="96.1" y="19.3"/><use href="#s" x="137.5" y="96.6"/><use href="#s" x="165.5" y="92.0"/><use href="#s" x="131.4" y="101.8"/><use href="#s" x="148.9" y="82.3"/><use href="#s" x="108.9" y="93.7"/><use href="#s" x="111.0" y="132.8"/><use href="#s" x="127.7" y="19.3"/><use href="#s" x="115.6" y="116.1"/><use href="#s" x="94.8" y="19.3"/><use href="#s" x="88.9" y="19.3"/><use href="#s" x="164.2" y="72.1"/><use href="#s" x="127.7" y="19.3"/><use href="#s" x="132.0" y="47.0"/><use href="#s" x="138.5" y="103.4"/><use href="#s" x="167.2" y="94.5"/><use href="#s" x="127.6" y="70.3"/><use href="#s" x="156.8" y="125.0"/><use href="#s" x="146.1" y="109.4"/><use href="#s" x="143.7" y="58.6"/><use href="#s" x="176.8" y="133.6"/><use href="#s" x="72.6" y="31.4"/><use href="#s" x="161.0" y="75.2"/><use href="#s" x="129.1" y="36.5"/><use href="#s" x="161.6" y="100.7"/><use href="#s" x="165.4" y="132.9"/><use href="#s" x="124.9" y="77.1"/><use href="#s" x="86.2" y="38.3"/><use href="#s" x="155.5" y="118.5"/><use href="#s" x="79.7" y="19.3"/><use href="#s" x="96.1" y="89.4"/><use href="#s" x="125.3" y="89.6"/><use href="#s" x="176.6" y="112.1"/><use href="#s" x="144.2" y="64.5"/><use href="#s" x="136.4" y="64.4"/><use href="#s" x="157.6" y="130.2"/><use href="#s" x="104.6" y="54.4"/><use href="#s" x="93.3" y="19.7"/><use href="#s" x="83.3" y="30.7"/><use href="#s" x="97.2" y="50.5"/><use href="#s" x="118.2" y="39.5"/><use href="#s" x="78.2" y="97.6"/><use href="#s" x="130.7" y="97.5"/><use href="#s" x="138.4" y="48.3"/><use href="#s" x="120.0" y="47.0"/><use href="#s" x="115.2" y="58.3"/><use href="#s" x="143.2" y="116.3"/><use href="#s" x="103.0" y="41.9"/><use href="#s" x="128.9" y="73.3"/><use href="#s" x="72.6" y="47.0"/><use href="#s" x="115.7" y="52.9"/><use href="#s" x="117.4" y="142.0"/><use href="#s" x="119.6" y="58.4"/><use href="#s" x="117.4" y="145.3"/><use href="#s" x="123.6" y="126.1"/><use href="#s" x="170.4" y="98.1"/><use href="#s" x="135.9" y="97.0"/><use href="#s" x="102.2" y="118.7"/><use href="#s" x="100.8" y="53.4"/><use href="#s" x="110.4" y="79.0"/><use href="#s" x="98.4" y="122.9"/><use href="#s" x="81.3" y="68.0"/><use href="#s" x="76.8" y="24.9"/><use href="#s" x="103.4" y="107.1"/><use href="#s" x="162.7" y="97.0"/><use href="#s" x="142.4" y="89.0"/><use href="#s" x="77.4" y="59.9"/><use href="#s" x="83.7" y="44.2"/><use href="#s" x="174.9" y="103.4"/><use href="#s" x="105.8" y="46.8"/><use href="#s" x="107.1" y="33.2"/><use href="#s" x="145.6" y="128.7"/><use href="#s" x="62.3" y="92.4"/><use href="#s" x="105.8" y="89.0"/><use href="#s" x="74.5" y="25.0"/><use href="#s" x="89.6" y="68.6"/><use href="#s" x="154.8" y="62.5"/><use href="#s" x="112.9" y="93.8"/><use href="#s" x="113.7" y="121.6"/><use href="#s" x="87.3" y="39.2"/><use href="#s" x="116.5" y="65.4"/><use href="#s" x="100.1" y="41.9"/><use href="#s" x="119.4" y="82.9"/><use href="#s" x="124.4" y="41.1"/><use href="#s" x="176.1" y="140.1"/><use href="#s" x="156.6" y="20.5"/><use href="#s" x="64.2" y="87.9"/><use href="#s" x="116.8" y="61.4"/><use href="#s" x="94.1" y="85.8"/><use href="#s" x="125.9" y="46.8"/><use href="#s" x="142.6" y="67.2"/><use href="#s" x="123.8" y="80.0"/><use href="#s" x="134.1" y="56.1"/><use href="#s" x="133.6" y="126.2"/><use href="#s" x="158.8" y="53.7"/><use href="#s" x="90.6" y="30.7"/><use href="#s" x="141.7" y="112.0"/><use href="#s" x="167.0" y="81.3"/><use href="#s" x="70.6" y="82.5"/><use href="#s" x="141.8" y="60.6"/><use href="#s" x="93.9" y="45.6"/><use href="#s" x="139.3" y="102.3"/><use href="#s" x="128.3" y="21.6"/><use href="#s" x="160.0" y="19.3"/><use href="#s" x="83.6" y="19.3"/><use href="#s" x="138.8" y="95.6"/><use href="#s" x="140.3" y="34.3"/><use href="#s" x="89.6" y="91.2"/><use href="#s" x="79.3" y="19.3"/><use href="#s" x="104.4" y="105.1"/><use href="#s" x="153.1" y="127.6"/><use href="#s" x="129.8" y="103.2"/><use href="#s" x="152.0" y="139.4"/><use href="#s" x="127.9" y="143.4"/><use href="#s" x="127.8" y="60.1"/><use href="#s" x="63.7" y="37.2"/><use href="#s" x="177.6" y="141.7"/><use href="#s" x="136.9" y="116.7"/><use href="#s" x="133.9" y="115.8"/><use href="#s" x="113.7" y="61.2"/><use href="#s" x="62.5" y="40.8"/><use href="#s" x="82.8" y="43.6"/><use href="#s" x="93.7" y="88.9"/><use href="#s" x="161.0" y="113.4"/><use href="#s" x="131.6" y="125.5"/><use href="#s" x="121.8" y="128.1"/><use href="#s" x="156.6" y="131.1"/><use href="#s" x="162.0" y="79.8"/><use href="#s" x="125.5" y="49.9"/><use href="#s" x="116.9" y="116.7"/><use href="#s" x="129.8" y="113.7"/><use href="#s" x="123.0" y="118.3"/><use href="#s" x="112.4" y="115.9"/><use href="#s" x="79.2" y="98.0"/><use href="#s" x="174.2" y="101.7"/><use href="#s" x="164.6" y="118.2"/><use href="#s" x="125.8" y="24.2"/><use href="#s" x="121.4" y="44.4"/><use href="#s" x="71.1" y="47.4"/><use href="#s" x="108.6" y="84.5"/><use href="#s" x="93.5" y="91.5"/><use href="#s" x="149.7" y="118.1"/><use href="#s" x="140.9" y="96.2"/><use href="#s" x="89.7" y="64.3"/><use href="#s" x="110.3" y="40.7"/><use href="#s" x="92.3" y="80.8"/><use href="#s" x="142.8" y="67.8"/><use href="#s" x="140.9" y="118.2"/><use href="#s" x="92.6" y="29.7"/><use href="#s" x="146.8" y="72.9"/><use href="#s" x="106.4" y="19.3"/><use href="#s" x="160.2" y="92.8"/><use href="#s" x="140.2" y="111.7"/><use href="#s" x="74.7" y="19.3"/><use href="#s" x="113.6" y="52.9"/><use href="#s" x="121.5" y="45.7"/><use href="#s" x="82.2" y="31.1"/><use href="#s" x="135.0" y="123.0"/><use href="#s" x="105.2" y="68.5"/><use href="#s" x="155.9" y="73.7"/><use href="#s" x="149.6" y="105.9"/><use href="#s" x="148.5" y="40.7"/><use href="#s" x="102.1" y="24.1"/><use href="#s" x="125.4" y="26.7"/><use href="#s" x="136.1" y="83.4"/><use href="#s" x="111.6" y="35.1"/><use href="#s" x="123.2" y="123.6"/><use href="#s" x="177.2" y="132.3"/><use href="#s" x="172.8" y="122.8"/><use href="#s" x="163.8" y="61.8"/><use href="#s" x="164.6" y="80.8"/><use href="#s" x="175.3" y="139.9"/><use href="#s" x="115.7" y="108.2"/><use href="#s" x="115.6" y="87.0"/><use href="#s" x="118.2" y="67.2"/><use href="#s" x="118.8" y="19.3"/><use href="#s" x="55.5" y="27.2"/><use href="#s" x="153.5" y="79.0"/><use href="#s" x="139.0" y="122.7"/><use href="#s" x="142.2" y="30.2"/><use href="#s" x="86.8" y="73.5"/><use href="#s" x="120.8" y="19.3"/><use href="#s" x="146.7" y="74.3"/><use href="#s" x="164.0" y="129.5"/><use href="#s" x="156.8" y="95.1"/><use href="#s" x="120.0" y="38.3"/><use href="#s" x="141.9" y="46.2"/><use href="#s" x="110.1" y="60.7"/><use href="#s" x="77.4" y="38.9"/><use href="#s" x="150.2" y="117.6"/><use href="#s" x="68.5" y="73.7"/><use href="#s" x="85.8" y="61.2"/><use href="#s" x="135.6" y="25.7"/><use href="#s" x="91.4" y="46.9"/><use href="#s" x="167.3" y="133.5"/><use href="#s" x="141.0" y="23.1"/><use href="#s" x="141.4" y="119.5"/><use href="#s" x="125.1" y="47.3"/><use href="#s" x="110.8" y="19.3"/><use href="#s" x="52.6" y="58.1"/><use href="#s" x="169.4" y="143.8"/><use href="#s" x="144.4" y="19.3"/><use href="#s" x="150.9" y="44.9"/><use href="#s" x="154.8" y="50.4"/><use href="#s" x="90.0" y="60.6"/><use href="#s" x="150.4" y="107.6"/><use href="#s" x="107.1" y="100.4"/><use href="#s" x="151.5" y="119.7"/><use href="#s" x="140.1" y="65.7"/><use href="#s" x="78.2" y="71.4"/><use href="#s" x="99.2" y="47.2"/><use href="#s" x="142.7" y="105.8"/><use href="#s" x="110.5" y="80.4"/><use href="#s" x="156.8" y="141.3"/><use href="#s" x="140.4" y="92.1"/><use href="#s" x="121.9" y="63.5"/><use href="#s" x="116.9" y="132.0"/><use href="#s" x="167.9" y="131.2"/><use href="#s" x="138.9" y="116.5"/><use href="#s" x="98.2" y="74.4"/><use href="#s" x="134.4" y="114.8"/><use href="#s" x="159.4" y="131.7"/><use href="#s" x="161.1" y="98.1"/><use href="#s" x="155.1" y="94.2"/><use href="#s" x="52.2" y="90.5"/><use href="#s" x="151.1" y="94.2"/><use href="#s" x="146.4" y="88.8"/><use href="#s" x="89.8" y="100.4"/><use href="#s" x="140.0" y="40.1"/><use href="#s" x="90.9" y="80.4"/><use href="#s" x="117.6" y="127.0"/><use href="#s" x="125.9" y="62.5"/><use href="#s" x="60.2" y="50.6"/><use href="#s" x="67.5" y="56.2"/><use href="#s" x="131.1" y="35.1"/><use href="#s" x="83.4" y="101.0"/><use href="#s" x="103.1" y="108.4"/><use href="#s" x="114.2" y="25.8"/><use href="#s" x="134.8" y="59.1"/><use href="#s" x="122.7" y="121.9"/><use href="#s" x="127.4" y="136.2"/><use href="#s" x="145.0" y="56.4"/><use href="#s" x="148.4" y="91.7"/><use href="#s" x="155.6" y="23.4"/><use href="#s" x="111.7" y="77.5"/><use href="#s" x="107.6" y="76.8"/><use href="#s" x="140.3" y="57.2"/><use href="#s" x="57.9" y="70.0"/><use href="#s" x="149.9" y="94.3"/><use href="#s" x="132.4" y="138.8"/><use href="#s" x="174.0" y="126.0"/><use href="#s" x="150.3" y="90.8"/><use href="#s" x="96.1" y="51.1"/><use href="#s" x="68.2" y="60.9"/><use href="#s" x="125.1" y="31.1"/><use href="#s" x="155.7" y="104.3"/><use href="#s" x="70.3" y="29.0"/><use href="#s" x="91.4" y="64.7"/><use href="#s" x="124.5" y="46.2"/><use href="#s" x="57.1" y="39.9"/><use href="#s" x="116.0" y="26.4"/><use href="#s" x="121.5" y="110.3"/><use href="#s" x="137.5" y="101.9"/><use href="#s" x="164.7" y="137.8"/><use href="#s" x="186.1" y="129.0"/><use href="#s" x="140.7" y="127.4"/><use href="#s" x="88.1" y="55.9"/><use href="#s" x="138.8" y="103.4"/><use href="#s" x="137.4" y="105.1"/><use href="#s" x="73.3" y="25.1"/><use href="#s" x="65.5" y="86.7"/><use href="#s" x="102.3" y="43.2"/><use href="#s" x="76.2" y="26.2"/><use href="#s" x="87.0" y="80.8"/><use href="#s" x="120.6" y="129.7"/><use href="#s" x="123.0" y="19.3"/><use href="#s" x="91.0" y="27.3"/><use href="#s" x="164.7" y="106.7"/><use href="#s" x="83.2" y="60.0"/><use href="#s" x="91.6" y="42.5"/><use href="#s" x="61.4" y="56.3"/><use href="#s" x="129.4" y="102.0"/><use href="#s" x="100.0" y="19.3"/><use href="#s" x="90.7" y="47.9"/><use href="#s" x="170.1" y="136.3"/><use href="#s" x="137.3" y="46.9"/><use href="#s" x="132.9" y="118.5"/><use href="#s" x="136.0" y="19.6"/><use href="#s" x="81.6" y="72.7"/><use href="#s" x="79.9" y="94.9"/><use href="#s" x="120.4" y="121.5"/><use href="#s" x="89.6" y="32.3"/><use href="#s" x="139.1" y="115.0"/><use href="#s" x="166.9" y="20.8"/><use href="#s" x="104.8" y="64.6"/><use href="#s" x="134.4" y="131.0"/><use href="#s" x="142.6" y="44.9"/><use href="#s" x="65.3" y="57.7"/><use href="#s" x="180.7" y="144.4"/><use href="#s" x="115.9" y="109.0"/><use href="#s" x="148.2" y="128.9"/><use href="#s" x="140.9" y="127.0"/><use href="#s" x="120.7" y="56.6"/><use href="#s" x="102.4" y="29.1"/><use href="#s" x="163.2" y="96.4"/><use href="#s" x="89.3" y="42.8"/><use href="#s" x="106.0" y="93.1"/><use href="#s" x="150.2" y="116.9"/><use href="#s" x="127.3" y="33.1"/><use href="#s" x="135.8" y="127.6"/><use href="#s" x="105.4" y="34.2"/><use href="#s" x="76.4" y="84.2"/><use href="#s" x="102.4" y="31.0"/><use href="#s" x="114.7" y="26.6"/><use href="#s" x="136.7" y="19.3"/><use href="#s" x="160.8" y="51.8"/><use href="#s" x="128.9" y="93.9"/><use href="#s" x="143.9" y="109.8"/><use href="#s" x="118.3" y="76.0"/><use href="#s" x="118.2" y="59.9"/><use href="#s" x="147.7" y="98.4"/><use href="#s" x="114.1" y="127.9"/><use href="#s" x="135.2" y="127.1"/><use href="#s" x="159.0" y="143.3"/><use href="#s" x="120.2" y="29.7"/><use href="#s" x="115.9" y="71.7"/><use href="#s" x="123.2" y="121.6"/><use href="#s" x="91.8" y="38.8"/><use href="#s" x="93.9" y="21.4"/><use href="#s" x="116.9" y="37.1"/><use href="#s" x="78.7" y="70.6"/><use href="#s" x="100.4" y="62.9"/><use href="#s" x="87.3" y="117.8"/><use href="#s" x="184.5" y="120.7"/><use href="#s" x="109.9" y="79.9"/><use href="#s" x="152.3" y="68.5"/><use href="#s" x="179.0" y="139.8"/><use href="#s" x="166.1" y="70.3"/><use href="#s" x="122.1" y="41.0"/><use href="#s" x="103.7" y="36.6"/><use href="#s" x="138.5" y="46.4"/><use href="#s" x="86.0" y="21.1"/><use href="#s" x="151.3" y="89.1"/><use href="#s" x="157.8" y="44.3"/><use href="#s" x="162.2" y="141.9"/><use href="#s" x="143.9" y="75.9"/><use href="#s" x="135.8" y="132.6"/><use href="#s" x="136.4" y="19.3"/><use href="#s" x="126.9" y="19.3"/><use href="#s" x="98.9" y="109.7"/><use href="#s" x="98.1" y="77.2"/><use href="#s" x="117.4" y="118.6"/><use href="#s" x="142.5" y="131.3"/><use href="#s" x="141.8" y="121.8"/><use href="#s" x="133.7" y="47.0"/><use href="#s" x="148.2" y="70.3"/><use href="#s" x="82.7" y="73.6"/><use href="#s" x="93.2" y="55.2"/><use href="#s" x="61.9" y="69.1"/><use href="#s" x="80.1" y="70.0"/><use href="#s" x="125.1" y="130.0"/><use href="#s" x="102.5" y="19.3"/><use href="#s" x="50.7" y="19.3"/><use href="#s" x="173.5" y="100.2"/><use href="#s" x="147.1" y="111.9"/><use href="#s" x="147.7" y="138.2"/><use href="#s" x="106.8" y="53.3"/><use href="#s" x="47.9" y="37.0"/><use href="#s" x="95.9" y="55.5"/><use href="#s" x="121.2" y="19.3"/><use href="#s" x="148.1" y="116.0"/><use href="#s" x="164.9" y="140.2"/><use href="#s" x="171.3" y="146.6"/><use href="#s" x="69.4" y="84.6"/><use href="#s" x="63.3" y="31.0"/><use href="#s" x="160.0" y="59.4"/><use href="#s" x="137.0" y="56.4"/><use href="#s" x="77.5" y="100.7"/><use href="#s" x="84.2" y="37.7"/><use href="#s" x="80.3" y="14.8"/><use href="#s" x="28.4" y="20.7"/><use href="#s" x="40.0" y="20.7"/><use href="#s" x="43.8" y="20.7"/><use href="#s" x="47.8" y="20.7"/><use href="#s" x="54.3" y="19.2"/><use href="#s" x="33.9" y="29.4"/><use href="#s" x="45.1" y="30.7"/><use href="#s" x="37.1" y="35.9"/><use href="#s" x="41.2" y="35.9"/><use href="#s" x="47.3" y="38.8"/><use href="#s" x="40.0" y="47.0"/><use href="#s" x="32.0" y="55.3"/><use href="#s" x="26.6" y="57.0"/><use href="#s" x="43.8" y="61.8"/><use href="#s" x="33.9" y="69.9"/><use href="#s" x="24.7" y="72.8"/><use href="#s" x="24.0" y="78.6"/><use href="#s" x="25.9" y="82.3"/><use href="#s" x="47.8" y="75.0"/><use href="#s" x="43.8" y="83.0"/><use href="#s" x="52.9" y="85.9"/><use href="#s" x="32.4" y="101.0"/><use href="#s" x="37.8" y="99.5"/><use href="#s" x="43.0" y="101.0"/><use href="#s" x="47.8" y="93.2"/><use href="#s" x="47.0" y="96.9"/><use href="#s" x="50.0" y="99.8"/><use href="#s" x="58.7" y="96.2"/><use href="#s" x="47.0" y="106.7"/><use href="#s" x="47.0" y="110.8"/><use href="#s" x="59.0" y="107.8"/><use href="#s" x="58.4" y="115.9"/><use href="#s" x="57.0" y="120.7"/><use href="#s" x="54.3" y="137.0"/><use href="#s" x="75.5" y="122.1"/><use href="#s" x="71.6" y="130.2"/><use href="#s" x="74.1" y="140.0"/><use href="#s" x="83.1" y="133.4"/><use href="#s" x="85.7" y="130.5"/><use href="#s" x="90.1" y="127.5"/><use href="#s" x="94.5" y="119.2"/><use href="#s" x="96.7" y="131.9"/><use href="#s" x="83.5" y="145.1"/><use href="#s" x="96.0" y="138.5"/><use href="#s" x="96.7" y="145.1"/><use href="#s" x="74.8" y="111.5"/><use href="#s" x="81.4" y="113.7"/><use href="#s" x="87.2" y="111.5"/><use href="#s" x="175.2" y="51.6"/><use href="#s" x="166.7" y="51.6"/></g><g><use href="#t" x="101.4" y="77.0"/><use href="#t" x="154.6" y="62.6"/><use href="#t" x="151.1" y="91.6"/><use href="#t" x="130.4" y="75.6"/><use href="#t" x="136.3" y="102.0"/><use href="#t" x="103.8" y="60.2"/><use href="#t" x="130.0" y="102.0"/><use href="#t" x="145.4" y="75.4"/><use href="#t" x="131.9" y="51.3"/><use href="#t" x="123.2" y="47.8"/><use href="#t" x="124.1" y="92.7"/><use href="#t" x="143.4" y="92.1"/><use href="#t" x="146.7" y="84.3"/><use href="#t" x="102.9" y="56.3"/><use href="#t" x="128.3" y="64.0"/><use href="#t" x="144.8" y="68.3"/><use href="#t" x="96.5" y="80.3"/><use href="#t" x="99.2" y="94.7"/><use href="#t" x="54.4" y="30.1"/><use href="#t" x="128.5" y="76.5"/><use href="#t" x="134.9" y="98.6"/><use href="#t" x="131.3" y="62.4"/><use href="#t" x="119.9" y="67.1"/><use href="#t" x="82.2" y="66.6"/><use href="#t" x="149.3" y="88.9"/><use href="#t" x="146.9" y="68.1"/><use href="#t" x="123.2" y="60.7"/><use href="#t" x="117.6" y="85.8"/><use href="#t" x="122.5" y="41.9"/><use href="#t" x="124.1" y="21.7"/><use href="#t" x="155.8" y="85.0"/><use href="#t" x="135.4" y="106.7"/><use href="#t" x="145.7" y="71.7"/><use href="#t" x="96.5" y="36.6"/><use href="#t" x="123.2" y="53.1"/><use href="#t" x="122.5" y="107.3"/><use href="#t" x="146.9" y="103.2"/><use href="#t" x="118.0" y="90.3"/><use href="#t" x="74.1" y="39.4"/><use href="#t" x="100.5" y="47.3"/><use href="#t" x="121.4" y="35.2"/><use href="#t" x="127.5" y="81.4"/><use href="#t" x="120.8" y="75.5"/><use href="#t" x="122.6" y="26.0"/><use href="#t" x="125.8" y="72.9"/><use href="#t" x="119.8" y="88.6"/><use href="#t" x="125.5" y="48.0"/><use href="#t" x="140.5" y="59.8"/><use href="#t" x="98.9" y="55.7"/><use href="#t" x="136.6" y="22.9"/><use href="#t" x="123.0" y="65.3"/><use href="#t" x="89.5" y="68.1"/><use href="#t" x="139.5" y="118.7"/><use href="#t" x="92.7" y="62.0"/><use href="#t" x="133.8" y="128.9"/><use href="#t" x="123.9" y="80.3"/><use href="#t" x="107.8" y="31.9"/><use href="#t" x="99.8" y="41.2"/><use href="#t" x="91.9" y="75.4"/><use href="#t" x="105.6" y="80.3"/><use href="#t" x="132.0" y="101.8"/><use href="#t" x="139.5" y="78.2"/><use href="#t" x="95.8" y="48.5"/><use href="#t" x="131.1" y="88.7"/><use href="#t" x="159.6" y="131.2"/><use href="#t" x="75.6" y="28.0"/><use href="#t" x="141.1" y="46.8"/><use href="#t" x="120.1" y="124.0"/><use href="#t" x="140.5" y="63.3"/><use href="#t" x="140.1" y="96.5"/><use href="#t" x="104.4" y="44.7"/><use href="#t" x="78.3" y="70.0"/><use href="#t" x="136.8" y="72.7"/><use href="#t" x="110.1" y="74.5"/><use href="#t" x="56.7" y="29.5"/><use href="#t" x="104.0" y="102.2"/><use href="#t" x="116.5" y="94.5"/><use href="#t" x="139.9" y="31.1"/><use href="#t" x="90.3" y="38.1"/><use href="#t" x="146.2" y="79.0"/><use href="#t" x="120.0" y="74.1"/><use href="#t" x="115.6" y="62.1"/><use href="#t" x="153.4" y="67.5"/><use href="#t" x="103.2" y="94.9"/><use href="#t" x="58.1" y="29.9"/><use href="#t" x="80.0" y="42.7"/><use href="#t" x="156.5" y="71.0"/><use href="#t" x="122.0" y="71.9"/><use href="#t" x="82.9" y="19.3"/><use href="#t" x="139.5" y="21.0"/><use href="#t" x="61.0" y="31.4"/><use href="#t" x="113.4" y="66.4"/><use href="#t" x="139.9" y="115.4"/><use href="#t" x="136.8" y="47.8"/><use href="#t" x="161.5" y="97.2"/><use href="#t" x="137.7" y="103.4"/><use href="#t" x="89.8" y="50.3"/><use href="#t" x="85.7" y="54.9"/><use href="#t" x="86.1" y="39.0"/><use href="#t" x="108.7" y="91.6"/><use href="#t" x="154.2" y="89.1"/><use href="#t" x="116.4" y="83.4"/><use href="#t" x="142.9" y="123.2"/><use href="#t" x="139.6" y="85.8"/><use href="#t" x="95.6" y="81.5"/><use href="#t" x="92.9" y="63.9"/><use href="#t" x="98.1" y="55.9"/><use href="#t" x="149.1" y="97.9"/><use href="#t" x="126.1" y="86.6"/><use href="#t" x="122.2" y="51.2"/><use href="#t" x="132.5" y="93.1"/><use href="#t" x="123.0" y="98.3"/><use href="#t" x="132.5" y="42.0"/><use href="#t" x="83.6" y="35.4"/><use href="#t" x="116.0" y="73.7"/><use href="#t" x="139.3" y="77.0"/><use href="#t" x="129.9" y="78.8"/><use href="#t" x="157.7" y="93.3"/><use href="#t" x="135.0" y="91.9"/><use href="#t" x="113.6" y="106.3"/><use href="#t" x="67.4" y="32.2"/><use href="#t" x="130.0" y="134.8"/><use href="#t" x="124.6" y="69.4"/><use href="#t" x="122.0" y="102.9"/><use href="#t" x="151.7" y="70.1"/><use href="#t" x="149.2" y="84.2"/><use href="#t" x="119.8" y="36.9"/><use href="#t" x="132.9" y="59.6"/><use href="#t" x="108.3" y="85.1"/><use href="#t" x="128.3" y="39.3"/><use href="#t" x="96.2" y="89.6"/><use href="#t" x="124.6" y="53.7"/><use href="#t" x="94.7" y="43.9"/><use href="#t" x="128.9" y="96.2"/><use href="#t" x="128.5" y="115.9"/><use href="#t" x="113.2" y="92.3"/><use href="#t" x="109.4" y="55.1"/><use href="#t" x="161.2" y="68.8"/><use href="#t" x="133.6" y="52.3"/><use href="#t" x="146.5" y="103.5"/><use href="#t" x="156.5" y="78.2"/><use href="#t" x="121.3" y="50.9"/><use href="#t" x="136.0" y="28.5"/><use href="#t" x="150.3" y="99.6"/><use href="#t" x="159.9" y="87.1"/><use href="#t" x="100.4" y="101.4"/><use href="#t" x="123.0" y="50.4"/><use href="#t" x="117.9" y="97.9"/><use href="#t" x="134.3" y="65.9"/><use href="#t" x="135.6" y="43.4"/><use href="#t" x="127.3" y="97.6"/><use href="#t" x="117.6" y="83.4"/><use href="#t" x="100.1" y="36.6"/><use href="#t" x="110.2" y="19.3"/><use href="#t" x="144.4" y="68.3"/><use href="#t" x="137.7" y="79.6"/><use href="#t" x="142.8" y="78.2"/><use href="#t" x="94.7" y="64.2"/><use href="#t" x="103.0" y="59.2"/><use href="#t" x="118.6" y="97.3"/><use href="#t" x="120.1" y="130.1"/><use href="#t" x="142.9" y="51.1"/><use href="#t" x="140.8" y="96.9"/><use href="#t" x="159.9" y="146.9"/><use href="#t" x="124.7" y="47.8"/><use href="#t" x="152.8" y="57.7"/><use href="#t" x="124.8" y="40.7"/><use href="#t" x="122.1" y="89.4"/><use href="#t" x="145.0" y="67.1"/><use href="#t" x="127.1" y="80.2"/><use href="#t" x="141.4" y="90.5"/><use href="#t" x="125.2" y="98.1"/><use href="#t" x="149.7" y="66.0"/><use href="#t" x="114.1" y="69.6"/><use href="#t" x="128.8" y="122.0"/><use href="#t" x="135.9" y="81.2"/><use href="#t" x="79.0" y="48.5"/><use href="#t" x="129.8" y="40.1"/><use href="#t" x="126.9" y="103.9"/><use href="#t" x="81.1" y="81.0"/><use href="#t" x="88.2" y="43.2"/><use href="#t" x="96.5" y="82.4"/><use href="#t" x="116.3" y="99.3"/><use href="#t" x="101.4" y="83.5"/><use href="#t" x="132.6" y="106.9"/><use href="#t" x="75.2" y="32.6"/><use href="#t" x="106.2" y="75.2"/><use href="#t" x="106.4" y="100.7"/><use href="#t" x="120.8" y="94.3"/><use href="#t" x="118.4" y="72.5"/><use href="#t" x="137.6" y="32.3"/><use href="#t" x="132.7" y="70.6"/><use href="#t" x="160.3" y="77.4"/><use href="#t" x="88.5" y="66.8"/><use href="#t" x="80.6" y="29.8"/><use href="#t" x="119.4" y="59.8"/><use href="#t" x="122.0" y="96.7"/><use href="#t" x="111.0" y="34.9"/><use href="#t" x="124.1" y="65.6"/><use href="#t" x="134.1" y="71.5"/><use href="#t" x="96.4" y="68.9"/><use href="#t" x="134.5" y="93.8"/><use href="#t" x="101.9" y="59.5"/><use href="#t" x="138.2" y="101.2"/><use href="#t" x="120.0" y="83.4"/><use href="#t" x="117.4" y="45.9"/><use href="#t" x="125.8" y="55.6"/><use href="#t" x="94.6" y="63.6"/><use href="#t" x="82.7" y="51.4"/><use href="#t" x="141.6" y="61.8"/><use href="#t" x="110.1" y="83.5"/><use href="#t" x="101.5" y="83.0"/><use href="#t" x="160.5" y="87.8"/><use href="#t" x="101.9" y="70.8"/><use href="#t" x="89.6" y="42.0"/><use href="#t" x="156.8" y="107.6"/><use href="#t" x="105.2" y="30.8"/><use href="#t" x="117.5" y="69.9"/><use href="#t" x="81.6" y="19.6"/><use href="#t" x="144.6" y="85.1"/><use href="#t" x="117.1" y="42.2"/><use href="#t" x="95.9" y="51.5"/><use href="#t" x="119.1" y="110.2"/><use href="#t" x="118.5" y="51.7"/><use href="#t" x="127.5" y="125.1"/><use href="#t" x="123.7" y="29.5"/><use href="#t" x="112.1" y="52.2"/><use href="#t" x="108.0" y="53.2"/><use href="#t" x="137.2" y="130.8"/><use href="#t" x="130.6" y="77.1"/><use href="#t" x="99.8" y="83.2"/><use href="#t" x="147.3" y="94.7"/><use href="#t" x="101.7" y="34.4"/><use href="#t" x="110.7" y="124.6"/><use href="#t" x="132.1" y="83.3"/><use href="#t" x="142.7" y="78.4"/><use href="#t" x="149.6" y="141.7"/><use href="#t" x="127.7" y="97.9"/><use href="#t" x="114.8" y="106.8"/><use href="#t" x="107.4" y="105.2"/><use href="#t" x="118.0" y="53.9"/><use href="#t" x="94.8" y="34.2"/><use href="#t" x="123.4" y="59.8"/><use href="#t" x="155.6" y="78.4"/><use href="#t" x="103.8" y="71.4"/><use href="#t" x="121.9" y="97.3"/><use href="#t" x="90.4" y="71.1"/><use href="#t" x="116.7" y="134.5"/><use href="#t" x="136.2" y="91.8"/><use href="#t" x="153.6" y="83.6"/><use href="#t" x="137.4" y="86.3"/><use href="#t" x="89.5" y="43.6"/><use href="#t" x="133.0" y="73.1"/><use href="#t" x="99.1" y="96.2"/><use href="#t" x="125.1" y="85.2"/><use href="#t" x="163.5" y="93.4"/><use href="#t" x="82.0" y="39.3"/><use href="#t" x="138.1" y="80.1"/><use href="#t" x="102.5" y="29.5"/><use href="#t" x="111.0" y="48.4"/><use href="#t" x="142.2" y="65.8"/><use href="#t" x="102.2" y="46.4"/><use href="#t" x="118.5" y="97.2"/><use href="#t" x="112.4" y="96.0"/><use href="#t" x="125.9" y="107.6"/><use href="#t" x="91.9" y="72.9"/><use href="#t" x="92.5" y="88.7"/><use href="#t" x="139.6" y="70.9"/><use href="#t" x="143.2" y="105.9"/><use href="#t" x="136.8" y="81.0"/><use href="#t" x="126.7" y="90.1"/><use href="#t" x="130.4" y="79.2"/><use href="#t" x="141.9" y="100.0"/><use href="#t" x="132.0" y="37.2"/><use href="#t" x="150.9" y="56.1"/><use href="#t" x="87.5" y="53.2"/><use href="#t" x="109.9" y="64.3"/><use href="#t" x="114.4" y="58.0"/><use href="#t" x="76.4" y="46.7"/><use href="#t" x="113.0" y="66.1"/><use href="#t" x="111.4" y="71.8"/><use href="#t" x="91.4" y="40.6"/><use href="#t" x="102.4" y="106.5"/><use href="#t" x="123.0" y="33.5"/><use href="#t" x="90.3" y="63.4"/><use href="#t" x="101.6" y="86.3"/><use href="#t" x="135.7" y="66.8"/><use href="#t" x="149.1" y="85.3"/><use href="#t" x="123.0" y="61.2"/><use href="#t" x="98.5" y="90.4"/><use href="#t" x="127.3" y="116.2"/><use href="#t" x="134.5" y="127.3"/><use href="#t" x="132.8" y="76.9"/><use href="#t" x="125.8" y="128.5"/><use href="#t" x="91.8" y="50.1"/><use href="#t" x="139.0" y="57.5"/><use href="#t" x="123.8" y="50.8"/><use href="#t" x="111.6" y="83.9"/><use href="#t" x="102.9" y="33.4"/><use href="#t" x="126.5" y="92.0"/><use href="#t" x="107.5" y="65.8"/><use href="#t" x="147.0" y="98.8"/><use href="#t" x="130.3" y="96.3"/><use href="#t" x="125.1" y="53.6"/><use href="#t" x="134.1" y="22.6"/><use href="#t" x="153.4" y="80.9"/><use href="#t" x="136.4" y="49.7"/><use href="#t" x="131.2" y="55.2"/><use href="#t" x="113.4" y="43.2"/><use href="#t" x="119.8" y="21.8"/><use href="#t" x="94.1" y="24.8"/><use href="#t" x="104.9" y="93.4"/><use href="#t" x="128.6" y="57.5"/><use href="#t" x="91.8" y="67.6"/><use href="#t" x="144.0" y="68.6"/><use href="#t" x="161.4" y="88.0"/><use href="#t" x="131.1" y="81.4"/><use href="#t" x="139.4" y="130.5"/><use href="#t" x="144.7" y="64.1"/><use href="#t" x="147.3" y="51.8"/><use href="#t" x="100.7" y="70.6"/><use href="#t" x="128.5" y="66.8"/><use href="#t" x="99.5" y="37.1"/><use href="#t" x="123.2" y="95.4"/><use href="#t" x="136.3" y="83.5"/><use href="#t" x="135.8" y="111.9"/><use href="#t" x="140.8" y="95.2"/><use href="#t" x="96.6" y="82.6"/><use href="#t" x="121.3" y="141.7"/><use href="#t" x="68.8" y="35.7"/><use href="#t" x="124.0" y="95.0"/><use href="#t" x="118.7" y="70.3"/><use href="#t" x="111.0" y="118.0"/><use href="#t" x="142.3" y="116.6"/><use href="#t" x="120.7" y="52.8"/><use href="#t" x="120.1" y="53.1"/><use href="#t" x="126.7" y="103.7"/><use href="#t" x="128.0" y="63.9"/><use href="#t" x="116.0" y="89.2"/><use href="#t" x="154.7" y="97.2"/><use href="#t" x="153.0" y="104.2"/><use href="#t" x="87.7" y="29.9"/><use href="#t" x="99.7" y="36.2"/><use href="#t" x="143.9" y="80.3"/><use href="#t" x="121.5" y="32.0"/><use href="#t" x="95.9" y="34.7"/><use href="#t" x="151.5" y="66.6"/><use href="#t" x="114.8" y="99.9"/><use href="#t" x="81.8" y="42.1"/><use href="#t" x="108.4" y="123.9"/><use href="#t" x="117.3" y="63.1"/><use href="#t" x="132.3" y="87.6"/><use href="#t" x="155.7" y="68.2"/><use href="#t" x="106.7" y="70.6"/><use href="#t" x="102.3" y="37.6"/><use href="#t" x="135.8" y="99.4"/><use href="#t" x="138.9" y="42.2"/><use href="#t" x="115.3" y="68.3"/><use href="#t" x="78.4" y="33.0"/><use href="#t" x="82.3" y="26.1"/><use href="#t" x="120.5" y="107.9"/><use href="#t" x="86.6" y="52.9"/><use href="#t" x="104.5" y="61.0"/><use href="#t" x="106.4" y="46.0"/><use href="#t" x="133.4" y="98.0"/><use href="#t" x="115.8" y="106.3"/><use href="#t" x="116.7" y="78.5"/><use href="#t" x="83.8" y="73.8"/><use href="#t" x="133.6" y="42.9"/><use href="#t" x="158.0" y="66.8"/><use href="#t" x="93.7" y="75.0"/><use href="#t" x="150.4" y="73.1"/><use href="#t" x="119.8" y="98.7"/><use href="#t" x="131.3" y="79.3"/><use href="#t" x="92.0" y="62.8"/><use href="#t" x="155.5" y="122.1"/><use href="#t" x="139.1" y="113.7"/><use href="#t" x="138.2" y="86.1"/><use href="#t" x="98.2" y="57.2"/><use href="#t" x="138.7" y="76.7"/><use href="#t" x="131.1" y="48.3"/><use href="#t" x="126.0" y="118.3"/><use href="#t" x="121.0" y="72.6"/><use href="#t" x="119.2" y="82.9"/><use href="#t" x="142.9" y="96.7"/><use href="#t" x="93.3" y="44.1"/><use href="#t" x="116.1" y="102.4"/><use href="#t" x="73.7" y="44.9"/><use href="#t" x="82.5" y="39.3"/><use href="#t" x="140.8" y="93.7"/><use href="#t" x="126.4" y="113.2"/><use href="#t" x="91.5" y="23.3"/><use href="#t" x="125.3" y="69.4"/><use href="#t" x="144.4" y="94.9"/><use href="#t" x="112.1" y="84.5"/><use href="#t" x="132.1" y="95.7"/><use href="#t" x="118.1" y="89.9"/><use href="#t" x="101.4" y="42.2"/><use href="#t" x="91.2" y="61.7"/><use href="#t" x="114.7" y="74.9"/><use href="#t" x="139.8" y="83.2"/><use href="#t" x="113.8" y="100.6"/><use href="#t" x="141.4" y="141.3"/><use href="#t" x="123.6" y="81.0"/><use href="#t" x="84.1" y="72.2"/><use href="#t" x="113.3" y="19.3"/><use href="#t" x="156.2" y="107.6"/><use href="#t" x="153.9" y="145.6"/><use href="#t" x="137.6" y="74.9"/><use href="#t" x="150.7" y="109.3"/><use href="#t" x="150.2" y="106.6"/><use href="#t" x="74.1" y="42.5"/><use href="#t" x="91.1" y="37.1"/><use href="#t" x="97.5" y="77.3"/><use href="#t" x="106.1" y="27.0"/><use href="#t" x="120.7" y="47.3"/><use href="#t" x="132.8" y="33.3"/><use href="#t" x="135.5" y="96.4"/><use href="#t" x="145.6" y="69.9"/><use href="#t" x="146.5" y="93.6"/><use href="#t" x="95.6" y="76.6"/><use href="#t" x="90.3" y="60.1"/><use href="#t" x="82.3" y="61.9"/><use href="#t" x="119.0" y="20.3"/><use href="#t" x="112.0" y="80.1"/><use href="#t" x="109.3" y="114.8"/><use href="#t" x="110.5" y="75.3"/><use href="#t" x="99.7" y="99.2"/><use href="#t" x="68.3" y="36.0"/><use href="#t" x="80.5" y="75.7"/><use href="#t" x="94.1" y="84.2"/><use href="#t" x="87.7" y="82.9"/><use href="#t" x="115.5" y="64.8"/><use href="#t" x="158.7" y="110.5"/><use href="#t" x="125.9" y="89.2"/><use href="#t" x="150.8" y="71.5"/><use href="#t" x="120.4" y="81.2"/><use href="#t" x="140.0" y="78.7"/><use href="#t" x="133.1" y="59.6"/><use href="#t" x="157.0" y="111.6"/><use href="#t" x="76.8" y="54.3"/><use href="#t" x="69.5" y="23.8"/><use href="#t" x="102.9" y="50.4"/><use href="#t" x="128.9" y="92.6"/><use href="#t" x="126.6" y="72.9"/><use href="#t" x="117.9" y="72.4"/><use href="#t" x="118.2" y="42.1"/><use href="#t" x="87.5" y="62.0"/><use href="#t" x="137.8" y="110.1"/><use href="#t" x="115.3" y="86.6"/><use href="#t" x="115.3" y="62.7"/><use href="#t" x="130.3" y="103.1"/><use href="#t" x="107.7" y="78.0"/><use href="#t" x="154.2" y="104.0"/><use href="#t" x="138.1" y="65.8"/><use href="#t" x="123.7" y="57.1"/><use href="#t" x="120.0" y="103.8"/><use href="#t" x="121.0" y="19.3"/><use href="#t" x="132.7" y="128.1"/><use href="#t" x="108.0" y="51.3"/><use href="#t" x="138.3" y="65.9"/><use href="#t" x="139.1" y="39.8"/><use href="#t" x="65.4" y="53.0"/><use href="#t" x="133.5" y="103.1"/><use href="#t" x="127.4" y="70.1"/><use href="#t" x="123.8" y="66.7"/><use href="#t" x="92.8" y="81.3"/><use href="#t" x="128.6" y="57.5"/><use href="#t" x="125.3" y="42.0"/><use href="#t" x="119.9" y="83.4"/><use href="#t" x="155.0" y="76.7"/><use href="#t" x="121.8" y="144.4"/><use href="#t" x="92.0" y="65.6"/><use href="#t" x="148.4" y="90.9"/><use href="#t" x="117.3" y="89.2"/><use href="#t" x="72.7" y="54.0"/><use href="#t" x="83.6" y="50.1"/><use href="#t" x="150.5" y="72.8"/><use href="#t" x="120.3" y="55.3"/><use href="#t" x="111.9" y="33.2"/><use href="#t" x="101.4" y="40.2"/><use href="#t" x="71.2" y="39.0"/><use href="#t" x="84.2" y="41.3"/><use href="#t" x="96.1" y="45.3"/><use href="#t" x="145.1" y="53.9"/><use href="#t" x="102.7" y="63.0"/><use href="#t" x="130.5" y="24.0"/><use href="#t" x="142.1" y="111.5"/><use href="#t" x="131.1" y="60.0"/><use href="#t" x="114.7" y="83.0"/><use href="#t" x="154.7" y="88.6"/><use href="#t" x="123.6" y="130.6"/><use href="#t" x="101.2" y="22.3"/><use href="#t" x="120.9" y="140.7"/><use href="#t" x="133.7" y="77.9"/><use href="#t" x="70.4" y="29.4"/><use href="#t" x="147.5" y="46.9"/><use href="#t" x="120.5" y="97.7"/><use href="#t" x="141.4" y="91.7"/><use href="#t" x="121.3" y="81.3"/><use href="#t" x="162.0" y="80.4"/><use href="#t" x="134.8" y="100.7"/><use href="#t" x="121.4" y="52.7"/><use href="#t" x="89.8" y="61.6"/><use href="#t" x="94.4" y="58.6"/><use href="#t" x="119.5" y="81.8"/><use href="#t" x="154.4" y="90.2"/><use href="#t" x="96.0" y="95.7"/><use href="#t" x="127.6" y="70.8"/><use href="#t" x="144.3" y="80.7"/><use href="#t" x="94.2" y="63.3"/><use href="#t" x="82.4" y="46.0"/><use href="#t" x="107.4" y="30.8"/><use href="#t" x="118.8" y="95.7"/><use href="#t" x="125.2" y="95.6"/><use href="#t" x="100.2" y="29.1"/><use href="#t" x="73.1" y="52.7"/><use href="#t" x="120.5" y="85.6"/><use href="#t" x="86.3" y="71.8"/><use href="#t" x="142.7" y="78.4"/><use href="#t" x="118.8" y="58.0"/><use href="#t" x="83.9" y="24.4"/><use href="#t" x="148.9" y="53.0"/><use href="#t" x="148.7" y="91.1"/><use href="#t" x="145.9" y="61.2"/><use href="#t" x="99.9" y="73.4"/><use href="#t" x="142.0" y="64.4"/><use href="#t" x="131.9" y="44.8"/><use href="#t" x="85.6" y="59.4"/><use href="#t" x="115.3" y="117.7"/><use href="#t" x="99.7" y="102.1"/><use href="#t" x="115.6" y="54.2"/><use href="#t" x="139.5" y="90.4"/><use href="#t" x="132.0" y="103.4"/><use href="#t" x="120.5" y="114.3"/><use href="#t" x="130.9" y="35.4"/><use href="#t" x="112.7" y="84.3"/><use href="#t" x="85.2" y="26.0"/><use href="#t" x="118.2" y="57.3"/><use href="#t" x="84.4" y="59.4"/><use href="#t" x="78.9" y="36.0"/><use href="#t" x="125.2" y="29.7"/><use href="#t" x="83.3" y="64.4"/><use href="#t" x="145.0" y="87.6"/><use href="#t" x="113.6" y="36.8"/><use href="#t" x="100.2" y="77.0"/><use href="#t" x="125.2" y="47.2"/><use href="#t" x="130.1" y="76.0"/><use href="#t" x="127.5" y="108.2"/><use href="#t" x="132.1" y="67.0"/><use href="#t" x="131.4" y="62.0"/><use href="#t" x="133.7" y="104.7"/><use href="#t" x="122.7" y="61.1"/><use href="#t" x="108.3" y="38.1"/><use href="#t" x="61.7" y="31.3"/><use href="#t" x="150.3" y="104.4"/><use href="#t" x="124.2" y="83.8"/><use href="#t" x="69.4" y="27.0"/><use href="#t" x="122.8" y="64.6"/><use href="#t" x="111.9" y="37.9"/><use href="#t" x="75.1" y="32.5"/><use href="#t" x="114.7" y="88.4"/><use href="#t" x="147.3" y="87.4"/><use href="#t" x="127.5" y="48.3"/><use href="#t" x="127.6" y="90.3"/><use href="#t" x="79.7" y="71.9"/><use href="#t" x="130.1" y="109.9"/><use href="#t" x="106.5" y="33.8"/><use href="#t" x="134.9" y="87.9"/><use href="#t" x="88.7" y="75.5"/><use href="#t" x="121.9" y="93.0"/><use href="#t" x="131.6" y="82.1"/><use href="#t" x="150.0" y="62.7"/><use href="#t" x="103.5" y="94.5"/><use href="#t" x="134.3" y="67.5"/><use href="#t" x="146.7" y="50.9"/><use href="#t" x="112.0" y="75.0"/><use href="#t" x="124.7" y="71.3"/><use href="#t" x="108.4" y="48.3"/><use href="#t" x="118.5" y="137.1"/><use href="#t" x="86.2" y="63.4"/><use href="#t" x="121.9" y="79.6"/><use href="#t" x="103.8" y="65.0"/><use href="#t" x="109.6" y="105.2"/><use href="#t" x="132.1" y="82.0"/><use href="#t" x="109.4" y="19.5"/><use href="#t" x="109.0" y="96.6"/><use href="#t" x="115.1" y="28.3"/><use href="#t" x="148.0" y="103.7"/><use href="#t" x="126.9" y="89.3"/><use href="#t" x="132.0" y="80.1"/><use href="#t" x="143.1" y="69.5"/><use href="#t" x="74.7" y="36.1"/><use href="#t" x="121.0" y="130.0"/><use href="#t" x="154.2" y="91.2"/><use href="#t" x="100.1" y="75.6"/><use href="#t" x="106.0" y="87.9"/><use href="#t" x="129.1" y="93.8"/><use href="#t" x="101.7" y="91.4"/><use href="#t" x="148.0" y="78.5"/><use href="#t" x="122.6" y="19.3"/><use href="#t" x="102.5" y="50.3"/><use href="#t" x="156.1" y="73.2"/><use href="#t" x="124.7" y="74.9"/><use href="#t" x="121.9" y="52.0"/><use href="#t" x="122.4" y="80.2"/><use href="#t" x="112.4" y="104.4"/><use href="#t" x="134.4" y="74.7"/><use href="#t" x="76.6" y="38.6"/><use href="#t" x="93.0" y="74.8"/><use href="#t" x="117.6" y="116.0"/><use href="#t" x="102.4" y="43.0"/><use href="#t" x="126.1" y="29.8"/><use href="#t" x="130.7" y="66.7"/><use href="#t" x="140.7" y="74.7"/><use href="#t" x="122.8" y="80.5"/><use href="#t" x="106.4" y="107.9"/><use href="#t" x="67.0" y="35.7"/><use href="#t" x="108.9" y="72.3"/><use href="#t" x="123.7" y="79.2"/><use href="#t" x="97.3" y="52.0"/><use href="#t" x="143.3" y="92.8"/><use href="#t" x="135.5" y="92.8"/><use href="#t" x="96.3" y="42.3"/><use href="#t" x="108.1" y="65.0"/><use href="#t" x="120.9" y="92.3"/><use href="#t" x="144.0" y="68.7"/><use href="#t" x="76.8" y="54.3"/><use href="#t" x="97.5" y="101.4"/><use href="#t" x="118.7" y="105.1"/><use href="#t" x="121.2" y="136.3"/><use href="#t" x="122.3" y="81.1"/><use href="#t" x="104.5" y="51.5"/><use href="#t" x="141.9" y="119.2"/><use href="#t" x="104.1" y="113.6"/><use href="#t" x="111.0" y="105.0"/><use href="#t" x="153.1" y="124.7"/><use href="#t" x="150.3" y="60.5"/><use href="#t" x="116.3" y="74.7"/><use href="#t" x="124.9" y="67.4"/><use href="#t" x="107.5" y="49.3"/><use href="#t" x="142.1" y="56.9"/><use href="#t" x="149.9" y="103.5"/><use href="#t" x="151.3" y="72.1"/><use href="#t" x="112.6" y="37.4"/><use href="#t" x="108.2" y="66.4"/><use href="#t" x="135.1" y="79.3"/><use href="#t" x="85.3" y="66.6"/><use href="#t" x="136.4" y="83.3"/><use href="#t" x="147.9" y="81.5"/><use href="#t" x="141.1" y="82.5"/><use href="#t" x="135.4" y="87.8"/><use href="#t" x="118.9" y="70.3"/><use href="#t" x="102.7" y="78.7"/><use href="#t" x="131.5" y="56.3"/><use href="#t" x="133.8" y="56.2"/><use href="#t" x="111.3" y="112.2"/><use href="#t" x="129.3" y="103.6"/><use href="#t" x="137.1" y="30.2"/><use href="#t" x="128.4" y="48.1"/><use href="#t" x="117.3" y="88.4"/><use href="#t" x="140.6" y="95.2"/><use href="#t" x="115.6" y="50.9"/><use href="#t" x="132.6" y="98.6"/><use href="#t" x="85.3" y="34.4"/><use href="#t" x="140.2" y="83.8"/><use href="#t" x="71.7" y="31.9"/><use href="#t" x="107.4" y="32.3"/><use href="#t" x="159.9" y="88.3"/><use href="#t" x="124.7" y="127.8"/><use href="#t" x="123.9" y="69.3"/><use href="#t" x="131.7" y="97.4"/><use href="#t" x="117.0" y="120.2"/><use href="#t" x="131.7" y="92.4"/><use href="#t" x="114.9" y="35.4"/><use href="#t" x="128.4" y="113.4"/><use href="#t" x="131.1" y="92.7"/><use href="#t" x="100.6" y="70.7"/><use href="#t" x="111.5" y="100.0"/><use href="#t" x="137.7" y="96.4"/><use href="#t" x="142.7" y="86.1"/><use href="#t" x="131.2" y="68.6"/><use href="#t" x="130.9" y="81.2"/><use href="#t" x="139.2" y="91.5"/><use href="#t" x="144.5" y="138.1"/><use href="#t" x="123.7" y="137.4"/><use href="#t" x="97.4" y="68.1"/><use href="#t" x="159.6" y="81.9"/><use href="#t" x="71.1" y="52.3"/><use href="#t" x="146.2" y="131.3"/><use href="#t" x="108.3" y="40.2"/><use href="#t" x="134.6" y="55.6"/><use href="#t" x="130.1" y="25.6"/><use href="#t" x="108.4" y="73.5"/><use href="#t" x="119.3" y="72.3"/><use href="#t" x="101.5" y="46.9"/><use href="#t" x="151.2" y="98.9"/><use href="#t" x="146.0" y="98.8"/><use href="#t" x="111.0" y="30.4"/><use href="#t" x="92.4" y="76.1"/><use href="#t" x="105.3" y="60.7"/><use href="#t" x="134.9" y="76.2"/><use href="#t" x="136.5" y="86.2"/><use href="#t" x="140.8" y="48.6"/><use href="#t" x="83.7" y="54.0"/><use href="#t" x="116.1" y="74.6"/><use href="#t" x="115.3" y="85.2"/><use href="#t" x="120.2" y="57.4"/><use href="#t" x="78.0" y="62.8"/><use href="#t" x="92.2" y="42.4"/><use href="#t" x="97.8" y="56.3"/><use href="#t" x="151.2" y="85.1"/><use href="#t" x="123.0" y="82.3"/><use href="#t" x="101.0" y="49.5"/><use href="#t" x="122.6" y="70.2"/><use href="#t" x="113.2" y="77.8"/><use href="#t" x="97.0" y="87.6"/><use href="#t" x="113.3" y="144.4"/><use href="#t" x="126.5" y="95.4"/><use href="#t" x="143.1" y="50.6"/><use href="#t" x="86.2" y="33.0"/><use href="#t" x="122.8" y="69.3"/><use href="#t" x="104.1" y="61.6"/><use href="#t" x="124.5" y="61.9"/><use href="#t" x="114.7" y="57.7"/><use href="#t" x="113.1" y="84.4"/><use href="#t" x="144.9" y="83.7"/><use href="#t" x="100.0" y="90.6"/><use href="#t" x="117.9" y="25.2"/><use href="#t" x="128.1" y="134.2"/><use href="#t" x="146.4" y="87.9"/><use href="#t" x="93.5" y="89.3"/><use href="#t" x="98.6" y="97.4"/><use href="#t" x="102.3" y="46.7"/><use href="#t" x="91.3" y="61.6"/><use href="#t" x="145.5" y="53.1"/><use href="#t" x="109.3" y="108.7"/><use href="#t" x="122.6" y="82.5"/><use href="#t" x="97.4" y="50.8"/><use href="#t" x="151.0" y="92.0"/><use href="#t" x="142.1" y="93.6"/><use href="#t" x="139.2" y="83.9"/><use href="#t" x="73.6" y="55.3"/><use href="#t" x="81.7" y="37.6"/><use href="#t" x="140.7" y="79.3"/><use href="#t" x="108.6" y="27.2"/><use href="#t" x="127.2" y="120.5"/><use href="#t" x="118.7" y="51.2"/><use href="#t" x="105.6" y="44.2"/><use href="#t" x="109.2" y="61.2"/><use href="#t" x="127.3" y="98.2"/><use href="#t" x="103.8" y="83.2"/><use href="#t" x="124.7" y="74.5"/><use href="#t" x="138.8" y="74.9"/><use href="#t" x="98.6" y="59.2"/><use href="#t" x="88.3" y="59.9"/><use href="#t" x="116.3" y="84.7"/><use href="#t" x="116.0" y="58.5"/><use href="#t" x="125.0" y="76.4"/><use href="#t" x="145.4" y="86.8"/><use href="#t" x="127.7" y="97.2"/><use href="#t" x="150.6" y="94.8"/><use href="#t" x="117.5" y="67.4"/><use href="#t" x="123.8" y="67.7"/><use href="#t" x="112.5" y="68.8"/><use href="#t" x="137.4" y="86.2"/><use href="#t" x="101.0" y="87.6"/><use href="#t" x="126.0" y="91.8"/><use href="#t" x="145.7" y="92.0"/><use href="#t" x="132.3" y="73.9"/><use href="#t" x="133.6" y="98.7"/><use href="#t" x="144.1" y="46.3"/><use href="#t" x="156.8" y="64.0"/><use href="#t" x="98.6" y="92.1"/><use href="#t" x="143.2" y="92.3"/><use href="#t" x="131.6" y="86.6"/><use href="#t" x="132.6" y="78.0"/><use href="#t" x="82.7" y="42.0"/><use href="#t" x="107.7" y="82.7"/><use href="#t" x="102.8" y="99.6"/><use href="#t" x="111.3" y="95.1"/><use href="#t" x="103.6" y="23.2"/><use href="#t" x="117.2" y="91.4"/><use href="#t" x="109.5" y="84.0"/><use href="#t" x="122.2" y="67.6"/><use href="#t" x="160.0" y="90.9"/><use href="#t" x="113.3" y="93.4"/><use href="#t" x="143.0" y="87.6"/><use href="#t" x="108.4" y="76.3"/><use href="#t" x="114.8" y="61.3"/><use href="#t" x="121.9" y="83.9"/><use href="#t" x="136.6" y="68.2"/><use href="#t" x="126.4" y="116.1"/><use href="#t" x="130.8" y="33.1"/><use href="#t" x="162.2" y="93.9"/><use href="#t" x="162.4" y="100.3"/><use href="#t" x="149.3" y="99.2"/><use href="#t" x="90.9" y="23.9"/><use href="#t" x="152.7" y="105.1"/><use href="#t" x="123.0" y="55.3"/><use href="#t" x="66.4" y="32.9"/><use href="#t" x="68.4" y="36.4"/><use href="#t" x="109.3" y="100.2"/><use href="#t" x="95.1" y="73.2"/><use href="#t" x="98.0" y="75.4"/><use href="#t" x="136.2" y="102.9"/><use href="#t" x="115.4" y="61.8"/><use href="#t" x="92.1" y="55.9"/><use href="#t" x="132.0" y="92.8"/><use href="#t" x="138.3" y="59.2"/><use href="#t" x="83.0" y="66.9"/><use href="#t" x="126.2" y="48.0"/><use href="#t" x="135.4" y="63.0"/><use href="#t" x="137.9" y="46.5"/><use href="#t" x="93.8" y="44.5"/><use href="#t" x="152.8" y="70.6"/><use href="#t" x="139.7" y="30.8"/><use href="#t" x="93.4" y="34.1"/><use href="#t" x="98.6" y="82.2"/><use href="#t" x="111.6" y="97.4"/><use href="#t" x="152.3" y="105.8"/><use href="#t" x="114.9" y="79.5"/><use href="#t" x="108.7" y="50.3"/><use href="#t" x="78.1" y="48.0"/><use href="#t" x="112.3" y="80.2"/><use href="#t" x="120.3" y="105.0"/><use href="#t" x="106.5" y="36.0"/><use href="#t" x="136.1" y="78.8"/><use href="#t" x="90.7" y="39.5"/><use href="#t" x="124.7" y="85.4"/><use href="#t" x="129.3" y="44.0"/><use href="#t" x="159.1" y="65.3"/><use href="#t" x="130.0" y="103.3"/><use href="#t" x="115.4" y="71.9"/><use href="#t" x="138.9" y="102.7"/><use href="#t" x="133.8" y="77.5"/><use href="#t" x="111.7" y="41.1"/><use href="#t" x="103.5" y="28.9"/><use href="#t" x="125.1" y="45.9"/><use href="#t" x="118.0" y="143.7"/><use href="#t" x="147.8" y="89.8"/><use href="#t" x="99.2" y="82.6"/><use href="#t" x="138.9" y="32.3"/><use href="#t" x="122.3" y="68.6"/><use href="#t" x="96.2" y="21.1"/><use href="#t" x="145.7" y="71.6"/><use href="#t" x="134.5" y="76.8"/><use href="#t" x="138.7" y="83.8"/><use href="#t" x="144.7" y="85.1"/><use href="#t" x="89.3" y="80.6"/><use href="#t" x="115.1" y="107.3"/><use href="#t" x="158.8" y="96.5"/><use href="#t" x="118.5" y="90.6"/><use href="#t" x="120.9" y="25.8"/><use href="#t" x="123.8" y="67.4"/><use href="#t" x="149.3" y="120.5"/><use href="#t" x="83.8" y="48.8"/><use href="#t" x="129.2" y="73.0"/><use href="#t" x="155.2" y="83.0"/><use href="#t" x="99.1" y="76.5"/><use href="#t" x="71.5" y="24.4"/><use href="#t" x="97.0" y="89.3"/><use href="#t" x="132.7" y="78.8"/><use href="#t" x="139.3" y="71.9"/><use href="#t" x="128.7" y="69.6"/><use href="#t" x="102.0" y="46.3"/><use href="#t" x="106.6" y="87.7"/><use href="#t" x="131.1" y="103.6"/><use href="#t" x="116.9" y="82.8"/><use href="#t" x="127.6" y="74.5"/><use href="#t" x="123.4" y="86.0"/><use href="#t" x="139.0" y="75.6"/><use href="#t" x="131.0" y="61.5"/><use href="#t" x="118.8" y="23.7"/><use href="#t" x="85.8" y="43.9"/><use href="#t" x="102.5" y="99.8"/><use href="#t" x="89.7" y="37.5"/><use href="#t" x="148.4" y="62.7"/><use href="#t" x="113.2" y="77.4"/><use href="#t" x="96.4" y="88.2"/><use href="#t" x="116.2" y="89.8"/><use href="#t" x="137.4" y="59.6"/><use href="#t" x="120.7" y="109.2"/><use href="#t" x="128.0" y="81.8"/><use href="#t" x="86.1" y="67.2"/><use href="#t" x="120.6" y="118.0"/><use href="#t" x="146.7" y="97.9"/><use href="#t" x="132.9" y="86.0"/><use href="#t" x="94.1" y="53.2"/><use href="#t" x="124.0" y="82.0"/><use href="#t" x="121.4" y="64.3"/><use href="#t" x="118.7" y="86.8"/><use href="#t" x="119.7" y="43.0"/><use href="#t" x="120.9" y="71.1"/><use href="#t" x="141.6" y="86.3"/><use href="#t" x="157.9" y="83.5"/><use href="#t" x="124.2" y="53.4"/><use href="#t" x="108.5" y="94.1"/><use href="#t" x="137.4" y="64.1"/><use href="#t" x="131.3" y="143.9"/><use href="#t" x="134.9" y="88.1"/><use href="#t" x="141.2" y="65.0"/><use href="#t" x="123.7" y="108.9"/><use href="#t" x="81.1" y="58.3"/><use href="#t" x="119.7" y="43.8"/><use href="#t" x="70.1" y="27.9"/><use href="#t" x="134.4" y="53.6"/><use href="#t" x="76.9" y="31.7"/><use href="#t" x="135.6" y="106.1"/><use href="#t" x="142.3" y="22.5"/><use href="#t" x="105.9" y="90.7"/><use href="#t" x="151.1" y="99.0"/><use href="#t" x="102.0" y="54.3"/><use href="#t" x="86.4" y="52.3"/><use href="#t" x="125.7" y="113.9"/><use href="#t" x="115.5" y="131.0"/><use href="#t" x="142.7" y="107.3"/><use href="#t" x="132.7" y="56.5"/><use href="#t" x="113.6" y="62.7"/><use href="#t" x="58.2" y="44.1"/><use href="#t" x="84.4" y="68.4"/><use href="#t" x="102.4" y="103.2"/><use href="#t" x="115.4" y="95.5"/><use href="#t" x="134.3" y="103.4"/><use href="#t" x="95.0" y="73.9"/><use href="#t" x="121.3" y="122.6"/><use href="#t" x="141.2" y="88.5"/><use href="#t" x="132.9" y="112.7"/><use href="#t" x="132.8" y="107.0"/><use href="#t" x="103.4" y="61.1"/><use href="#t" x="121.1" y="57.5"/><use href="#t" x="130.7" y="77.6"/><use href="#t" x="122.6" y="95.8"/><use href="#t" x="100.9" y="63.2"/><use href="#t" x="155.8" y="103.0"/><use href="#t" x="90.9" y="32.4"/><use href="#t" x="81.9" y="64.9"/><use href="#t" x="138.1" y="80.0"/><use href="#t" x="76.0" y="46.3"/><use href="#t" x="90.0" y="37.3"/><use href="#t" x="137.0" y="46.6"/><use href="#t" x="113.9" y="146.8"/><use href="#t" x="117.7" y="68.8"/><use href="#t" x="146.0" y="99.6"/><use href="#t" x="74.3" y="45.3"/><use href="#t" x="134.9" y="70.1"/><use href="#t" x="103.9" y="82.4"/><use href="#t" x="107.4" y="90.0"/><use href="#t" x="150.0" y="103.7"/><use href="#t" x="127.9" y="79.2"/><use href="#t" x="68.2" y="49.1"/><use href="#t" x="128.2" y="55.8"/><use href="#t" x="103.8" y="101.1"/><use href="#t" x="151.4" y="72.2"/><use href="#t" x="106.5" y="46.3"/><use href="#t" x="98.2" y="77.8"/><use href="#t" x="104.9" y="103.8"/><use href="#t" x="87.0" y="21.0"/><use href="#t" x="142.0" y="61.8"/><use href="#t" x="107.4" y="63.3"/><use href="#t" x="84.3" y="51.5"/><use href="#t" x="142.6" y="66.5"/><use href="#t" x="162.2" y="99.7"/><use href="#t" x="148.1" y="59.4"/><use href="#t" x="131.5" y="33.1"/><use href="#t" x="123.9" y="86.2"/><use href="#t" x="81.9" y="59.0"/><use href="#t" x="116.8" y="64.0"/><use href="#t" x="113.1" y="87.4"/><use href="#t" x="123.9" y="51.1"/><use href="#t" x="71.5" y="58.9"/><use href="#t" x="136.3" y="70.0"/><use href="#t" x="139.6" y="77.9"/><use href="#t" x="156.7" y="88.7"/><use href="#t" x="108.5" y="49.0"/><use href="#t" x="155.8" y="110.3"/><use href="#t" x="97.3" y="72.9"/><use href="#t" x="109.5" y="84.6"/><use href="#t" x="83.5" y="73.7"/><use href="#t" x="115.1" y="46.4"/><use href="#t" x="130.3" y="91.0"/><use href="#t" x="135.1" y="115.0"/><use href="#t" x="65.5" y="47.8"/><use href="#t" x="153.8" y="63.7"/><use href="#t" x="136.6" y="58.7"/><use href="#t" x="160.8" y="89.2"/><use href="#t" x="94.0" y="55.5"/><use href="#t" x="129.6" y="128.0"/><use href="#t" x="141.5" y="113.4"/><use href="#t" x="128.8" y="43.6"/><use href="#t" x="92.7" y="95.4"/><use href="#t" x="110.4" y="74.5"/><use href="#t" x="133.9" y="46.1"/><use href="#t" x="85.3" y="79.7"/><use href="#t" x="66.6" y="19.3"/><use href="#t" x="145.7" y="102.9"/><use href="#t" x="114.9" y="102.0"/><use href="#t" x="101.2" y="84.6"/><use href="#t" x="154.7" y="79.5"/><use href="#t" x="126.9" y="82.7"/><use href="#t" x="161.8" y="104.5"/><use href="#t" x="111.0" y="19.3"/><use href="#t" x="99.7" y="79.8"/><use href="#t" x="127.0" y="87.2"/><use href="#t" x="134.8" y="39.5"/><use href="#t" x="147.1" y="78.3"/><use href="#t" x="108.9" y="32.5"/><use href="#t" x="77.5" y="26.6"/><use href="#t" x="90.0" y="44.3"/><use href="#t" x="138.5" y="99.6"/><use href="#t" x="116.2" y="51.9"/><use href="#t" x="131.0" y="58.2"/><use href="#t" x="125.8" y="80.8"/><use href="#t" x="93.8" y="92.7"/><use href="#t" x="117.4" y="94.0"/><use href="#t" x="138.6" y="24.4"/><use href="#t" x="96.5" y="47.4"/><use href="#t" x="108.8" y="59.8"/><use href="#t" x="152.5" y="109.2"/><use href="#t" x="106.9" y="79.7"/><use href="#t" x="69.6" y="38.9"/><use href="#t" x="71.2" y="28.4"/><use href="#t" x="135.3" y="54.4"/><use href="#t" x="113.4" y="109.0"/><use href="#t" x="127.8" y="79.3"/><use href="#t" x="116.2" y="33.4"/><use href="#t" x="135.0" y="123.1"/><use href="#t" x="129.3" y="81.7"/><use href="#t" x="127.4" y="86.5"/><use href="#t" x="146.5" y="120.9"/><use href="#t" x="122.8" y="98.2"/><use href="#t" x="126.3" y="66.4"/><use href="#t" x="135.7" y="84.9"/><use href="#t" x="120.4" y="43.3"/><use href="#t" x="134.0" y="52.8"/><use href="#t" x="119.2" y="78.8"/><use href="#t" x="95.6" y="90.8"/><use href="#t" x="105.3" y="55.6"/><use href="#t" x="132.4" y="70.7"/><use href="#t" x="62.1" y="44.1"/><use href="#t" x="146.7" y="49.2"/><use href="#t" x="124.5" y="100.6"/><use href="#t" x="134.3" y="71.7"/><use href="#t" x="131.6" y="94.8"/><use href="#t" x="138.5" y="118.2"/><use href="#t" x="131.8" y="57.4"/><use href="#t" x="100.9" y="32.1"/><use href="#t" x="143.2" y="84.9"/><use href="#t" x="72.7" y="42.5"/><use href="#t" x="131.8" y="39.5"/><use href="#t" x="156.2" y="76.3"/><use href="#t" x="89.1" y="66.8"/><use href="#t" x="111.8" y="100.0"/><use href="#t" x="153.3" y="93.0"/><use href="#t" x="134.1" y="41.3"/><use href="#t" x="158.7" y="91.4"/><use href="#t" x="92.8" y="85.8"/><use href="#t" x="159.1" y="60.8"/><use href="#t" x="150.5" y="100.0"/><use href="#t" x="138.2" y="62.2"/><use href="#t" x="98.7" y="53.9"/><use href="#t" x="83.0" y="34.2"/><use href="#t" x="97.1" y="75.0"/><use href="#t" x="132.2" y="71.0"/><use href="#t" x="130.2" y="135.8"/><use href="#t" x="119.7" y="81.8"/><use href="#t" x="134.8" y="105.3"/><use href="#t" x="72.4" y="52.2"/><use href="#t" x="120.3" y="34.8"/><use href="#t" x="156.6" y="113.0"/><use href="#t" x="136.1" y="44.9"/><use href="#t" x="122.0" y="87.3"/><use href="#t" x="118.5" y="67.1"/><use href="#t" x="137.6" y="115.6"/><use href="#t" x="142.3" y="78.4"/><use href="#t" x="107.9" y="20.8"/><use href="#t" x="108.2" y="75.5"/><use href="#t" x="86.8" y="63.6"/><use href="#t" x="95.9" y="102.9"/><use href="#t" x="144.1" y="77.0"/><use href="#t" x="136.5" y="113.8"/><use href="#t" x="128.4" y="40.1"/><use href="#t" x="88.5" y="81.2"/><use href="#t" x="118.8" y="60.6"/><use href="#t" x="137.0" y="83.3"/><use href="#t" x="151.6" y="90.0"/><use href="#t" x="143.8" y="89.8"/><use href="#t" x="82.9" y="52.4"/><use href="#t" x="122.5" y="77.7"/><use href="#t" x="104.7" y="27.9"/><use href="#t" x="117.2" y="63.3"/><use href="#t" x="118.5" y="92.0"/><use href="#t" x="133.5" y="102.8"/><use href="#t" x="114.9" y="98.3"/><use href="#t" x="111.4" y="25.1"/><use href="#t" x="105.4" y="94.1"/><use href="#t" x="115.1" y="125.4"/><use href="#t" x="107.1" y="53.5"/><use href="#t" x="151.1" y="123.6"/><use href="#t" x="129.0" y="90.6"/><use href="#t" x="139.3" y="81.9"/><use href="#t" x="136.2" y="82.3"/><use href="#t" x="107.9" y="62.7"/><use href="#t" x="124.4" y="77.4"/><use href="#t" x="57.4" y="33.0"/><use href="#t" x="152.9" y="113.4"/><use href="#t" x="102.8" y="38.1"/><use href="#t" x="109.1" y="48.2"/><use href="#t" x="123.7" y="26.7"/><use href="#t" x="101.2" y="48.4"/><use href="#t" x="150.6" y="87.5"/><use href="#t" x="76.9" y="58.4"/><use href="#t" x="66.3" y="36.8"/><use href="#t" x="114.6" y="61.8"/><use href="#t" x="111.0" y="77.4"/><use href="#t" x="133.7" y="44.5"/><use href="#t" x="115.0" y="68.6"/><use href="#t" x="114.5" y="54.3"/><use href="#t" x="105.5" y="43.5"/><use href="#t" x="148.9" y="50.3"/><use href="#t" x="135.5" y="106.7"/><use href="#t" x="79.8" y="77.7"/><use href="#t" x="125.8" y="105.3"/><use href="#t" x="109.8" y="95.8"/><use href="#t" x="62.3" y="20.0"/><use href="#t" x="79.2" y="45.6"/><use href="#t" x="120.0" y="94.2"/><use href="#t" x="101.6" y="83.7"/><use href="#t" x="129.9" y="67.1"/><use href="#t" x="104.2" y="73.2"/><use href="#t" x="92.4" y="60.5"/><use href="#t" x="158.5" y="62.8"/><use href="#t" x="155.0" y="98.1"/><use href="#t" x="131.8" y="38.7"/><use href="#t" x="124.8" y="40.1"/><use href="#t" x="150.0" y="79.2"/><use href="#t" x="110.4" y="27.4"/><use href="#t" x="106.8" y="28.4"/><use href="#t" x="153.9" y="75.5"/><use href="#t" x="108.0" y="45.2"/><use href="#t" x="129.4" y="97.0"/><use href="#t" x="125.4" y="48.6"/><use href="#t" x="98.5" y="50.9"/><use href="#t" x="137.2" y="79.3"/><use href="#t" x="120.3" y="135.3"/><use href="#t" x="122.7" y="44.0"/><use href="#t" x="110.1" y="99.7"/><use href="#t" x="88.2" y="35.9"/><use href="#t" x="99.6" y="74.7"/><use href="#t" x="95.8" y="79.1"/><use href="#t" x="149.8" y="102.1"/><use href="#t" x="140.2" y="86.2"/><use href="#t" x="130.1" y="71.0"/><use href="#t" x="128.5" y="40.0"/><use href="#t" x="151.2" y="101.0"/><use href="#t" x="92.3" y="77.9"/><use href="#t" x="115.5" y="28.6"/><use href="#t" x="108.7" y="38.2"/><use href="#t" x="150.6" y="65.3"/><use href="#t" x="126.4" y="56.4"/><use href="#t" x="128.6" y="53.8"/><use href="#t" x="97.0" y="55.5"/><use href="#t" x="133.7" y="110.3"/><use href="#t" x="125.5" y="112.1"/><use href="#t" x="105.0" y="100.2"/><use href="#t" x="135.7" y="51.5"/><use href="#t" x="150.6" y="119.3"/><use href="#t" x="92.8" y="34.2"/><use href="#t" x="108.2" y="73.4"/><use href="#t" x="133.8" y="38.9"/><use href="#t" x="145.0" y="80.5"/><use href="#t" x="147.7" y="125.5"/><use href="#t" x="84.0" y="61.5"/><use href="#t" x="86.5" y="55.9"/><use href="#t" x="98.3" y="94.6"/><use href="#t" x="121.0" y="92.0"/><use href="#t" x="134.0" y="30.6"/><use href="#t" x="123.3" y="106.0"/><use href="#t" x="155.7" y="64.9"/><use href="#t" x="106.6" y="77.3"/><use href="#t" x="117.3" y="95.8"/><use href="#t" x="160.4" y="92.2"/><use href="#t" x="105.8" y="64.7"/><use href="#t" x="132.3" y="88.4"/><use href="#t" x="131.6" y="79.3"/><use href="#t" x="132.0" y="124.4"/><use href="#t" x="104.3" y="25.6"/><use href="#t" x="148.2" y="97.4"/><use href="#t" x="126.6" y="78.4"/><use href="#t" x="132.7" y="72.1"/><use href="#t" x="131.9" y="48.9"/><use href="#t" x="150.7" y="61.2"/><use href="#t" x="134.6" y="68.2"/><use href="#t" x="122.1" y="75.1"/><use href="#t" x="102.2" y="69.3"/><use href="#t" x="114.8" y="80.3"/><use href="#t" x="154.9" y="100.6"/><use href="#t" x="75.2" y="57.9"/><use href="#t" x="101.5" y="100.1"/><use href="#t" x="133.1" y="70.9"/><use href="#t" x="120.4" y="99.5"/><use href="#t" x="124.4" y="43.5"/><use href="#t" x="75.8" y="20.7"/><use href="#t" x="54.1" y="28.7"/><use href="#t" x="104.5" y="41.8"/><use href="#t" x="140.8" y="66.0"/><use href="#t" x="117.0" y="27.6"/><use href="#t" x="105.7" y="108.1"/><use href="#t" x="112.4" y="29.5"/><use href="#t" x="107.9" y="92.1"/><use href="#t" x="141.0" y="146.5"/><use href="#t" x="65.5" y="24.2"/><use href="#t" x="157.7" y="77.6"/><use href="#t" x="85.2" y="61.9"/><use href="#t" x="139.8" y="85.4"/><use href="#t" x="123.7" y="99.9"/><use href="#t" x="144.6" y="64.7"/><use href="#t" x="108.1" y="55.9"/><use href="#t" x="127.5" y="107.7"/><use href="#t" x="104.9" y="91.7"/><use href="#t" x="119.0" y="96.4"/><use href="#t" x="94.6" y="67.9"/><use href="#t" x="91.2" y="34.2"/><use href="#t" x="152.0" y="86.6"/><use href="#t" x="124.2" y="110.4"/><use href="#t" x="135.1" y="93.1"/><use href="#t" x="151.0" y="95.4"/><use href="#t" x="99.5" y="84.4"/><use href="#t" x="82.1" y="44.2"/><use href="#t" x="119.2" y="58.2"/><use href="#t" x="135.6" y="35.1"/><use href="#t" x="147.0" y="61.7"/><use href="#t" x="136.0" y="56.3"/><use href="#t" x="98.3" y="91.7"/><use href="#t" x="112.2" y="102.3"/><use href="#t" x="84.5" y="50.3"/><use href="#t" x="129.4" y="83.7"/><use href="#t" x="155.6" y="95.4"/><use href="#t" x="123.0" y="58.5"/><use href="#t" x="114.2" y="90.9"/><use href="#t" x="100.9" y="58.9"/><use href="#t" x="130.1" y="112.5"/><use href="#t" x="135.9" y="83.1"/><use href="#t" x="142.3" y="97.6"/><use href="#t" x="154.2" y="79.2"/><use href="#t" x="116.7" y="79.5"/><use href="#t" x="132.0" y="41.1"/><use href="#t" x="113.6" y="100.2"/><use href="#t" x="115.8" y="67.5"/><use href="#t" x="82.2" y="50.3"/><use href="#t" x="114.1" y="68.1"/><use href="#t" x="116.3" y="29.7"/><use href="#t" x="88.1" y="46.5"/><use href="#t" x="95.6" y="78.0"/><use href="#t" x="118.0" y="90.3"/><use href="#t" x="141.4" y="56.0"/><use href="#t" x="146.5" y="100.1"/><use href="#t" x="87.0" y="75.6"/><use href="#t" x="99.3" y="99.7"/><use href="#t" x="95.4" y="42.7"/><use href="#t" x="126.6" y="136.5"/><use href="#t" x="130.2" y="38.8"/><use href="#t" x="121.3" y="90.6"/><use href="#t" x="146.4" y="73.6"/><use href="#t" x="60.5" y="51.5"/><use href="#t" x="129.5" y="28.7"/><use href="#t" x="138.2" y="96.3"/><use href="#t" x="139.3" y="81.2"/><use href="#t" x="147.5" y="101.4"/><use href="#t" x="103.6" y="89.3"/><use href="#t" x="97.7" y="76.6"/><use href="#t" x="133.0" y="82.5"/><use href="#t" x="114.1" y="66.8"/><use href="#t" x="118.3" y="66.5"/><use href="#t" x="106.2" y="32.1"/><use href="#t" x="143.8" y="85.4"/><use href="#t" x="108.5" y="24.6"/><use href="#t" x="133.8" y="91.5"/><use href="#t" x="147.1" y="77.5"/><use href="#t" x="153.6" y="113.3"/><use href="#t" x="138.8" y="91.6"/><use href="#t" x="115.4" y="99.1"/><use href="#t" x="105.4" y="75.6"/><use href="#t" x="112.3" y="55.2"/><use href="#t" x="105.9" y="65.5"/><use href="#t" x="125.3" y="62.0"/><use href="#t" x="96.1" y="91.5"/><use href="#t" x="146.3" y="99.2"/><use href="#t" x="116.6" y="94.3"/><use href="#t" x="138.8" y="78.7"/><use href="#t" x="143.0" y="83.8"/><use href="#t" x="130.6" y="36.5"/><use href="#t" x="82.9" y="22.6"/><use href="#t" x="139.7" y="45.3"/><use href="#t" x="129.8" y="74.6"/><use href="#t" x="118.8" y="104.0"/><use href="#t" x="100.5" y="19.7"/><use href="#t" x="125.1" y="77.2"/><use href="#t" x="124.3" y="80.6"/><use href="#t" x="98.5" y="52.8"/><use href="#t" x="119.9" y="132.4"/><use href="#t" x="84.3" y="30.1"/><use href="#t" x="134.9" y="52.3"/><use href="#t" x="102.9" y="63.7"/><use href="#t" x="122.8" y="63.7"/><use href="#t" x="148.3" y="100.4"/><use href="#t" x="135.1" y="93.6"/><use href="#t" x="133.0" y="111.2"/><use href="#t" x="118.9" y="101.1"/><use href="#t" x="107.8" y="92.8"/><use href="#t" x="82.7" y="59.3"/><use href="#t" x="151.1" y="114.4"/><use href="#t" x="136.1" y="83.0"/><use href="#t" x="145.1" y="99.8"/><use href="#t" x="139.5" y="89.4"/><use href="#t" x="94.5" y="81.2"/><use href="#t" x="132.8" y="90.7"/><use href="#t" x="136.9" y="89.1"/><use href="#t" x="119.6" y="38.5"/><use href="#t" x="156.0" y="79.3"/><use href="#t" x="117.3" y="43.4"/><use href="#t" x="122.9" y="69.2"/><use href="#t" x="125.8" y="107.3"/><use href="#t" x="120.1" y="102.2"/><use href="#t" x="142.9" y="74.2"/><use href="#t" x="96.2" y="94.4"/><use href="#t" x="94.8" y="56.0"/><use href="#t" x="73.9" y="63.2"/><use href="#t" x="132.5" y="64.4"/><use href="#t" x="114.1" y="93.9"/><use href="#t" x="114.1" y="100.4"/><use href="#t" x="134.9" y="126.5"/><use href="#t" x="135.9" y="86.4"/><use href="#t" x="112.0" y="103.4"/><use href="#t" x="105.1" y="85.2"/><use href="#t" x="137.1" y="23.0"/><use href="#t" x="66.2" y="30.6"/><use href="#t" x="98.4" y="71.1"/><use href="#t" x="144.6" y="81.6"/><use href="#t" x="117.5" y="67.6"/><use href="#t" x="120.5" y="105.7"/><use href="#t" x="134.2" y="81.6"/><use href="#t" x="143.3" y="99.1"/><use href="#t" x="98.4" y="57.6"/><use href="#t" x="129.4" y="89.5"/><use href="#t" x="133.9" y="88.2"/><use href="#t" x="97.8" y="27.4"/><use href="#t" x="124.6" y="123.6"/><use href="#t" x="123.6" y="62.4"/><use href="#t" x="87.1" y="70.4"/><use href="#t" x="154.9" y="123.0"/><use href="#t" x="103.8" y="24.8"/><use href="#t" x="130.4" y="65.2"/><use href="#t" x="112.1" y="91.3"/><use href="#t" x="85.8" y="34.5"/><use href="#t" x="123.4" y="95.4"/><use href="#t" x="141.3" y="56.9"/><use href="#t" x="113.1" y="36.5"/><use href="#t" x="142.3" y="88.4"/><use href="#t" x="138.3" y="62.5"/><use href="#t" x="28.5" y="34.5"/><use href="#t" x="32.9" y="36.0"/><use href="#t" x="24.4" y="49.4"/><use href="#t" x="24.8" y="48.4"/><use href="#t" x="55.1" y="30.7"/><use href="#t" x="56.5" y="38.5"/><use href="#t" x="34.6" y="109.3"/><use href="#t" x="52.9" y="82.7"/><use href="#t" x="64.6" y="94.7"/><use href="#t" x="74.1" y="91.8"/><use href="#t" x="81.4" y="105.6"/><use href="#t" x="93.0" y="109.3"/><use href="#t" x="164.2" y="30.7"/>
</g></g></defs>
<g transform="translate(17.4,11.2)">
<text class="ti" x="98.0" y="-4.2">Logistic Regression</text>
<g clip-path="url(#c)"><rect class="b" x="0" y="0" width="196.0" height="148.0"/>
<polygon class="o" points="-2.0,-3.3 44.8,0.0 35.8,147.9 -2.0,150.4"/>
<use href="#pts"/>

<rect class="lg" x="3" y="3.6" width="29.2" height="21.6" rx="1.2"/>
<g filter="url(#b6)"><use class="sq1" href="#s" x="12.8" y="9.8"/><use class="tr1" href="#t" x="12.8" y="20.2"/></g>
<text class="tk lt" x="25.3" y="11.6">0</text><text class="tk lt" x="25.3" y="21.7">1</text>
</g>
<line class="tm" x1="23.7" x2="23.7" y1="148.0" y2="150.2"/>
<text class="tk" text-anchor="middle" x="23.7" y="158.6">0.0</text>
<line class="tm" x1="49.1" x2="49.1" y1="148.0" y2="150.2"/>
<text class="tk" text-anchor="middle" x="49.1" y="158.6">2.5</text>
<line class="tm" x1="74.5" x2="74.5" y1="148.0" y2="150.2"/>
<text class="tk" text-anchor="middle" x="74.5" y="158.6">5.0</text>
<line class="tm" x1="100.0" x2="100.0" y1="148.0" y2="150.2"/>
<text class="tk" text-anchor="middle" x="100.0" y="158.6">7.5</text>
<line class="tm" x1="125.4" x2="125.4" y1="148.0" y2="150.2"/>
<text class="tk" text-anchor="middle" x="125.4" y="158.6">10.0</text>
<line class="tm" x1="150.8" x2="150.8" y1="148.0" y2="150.2"/>
<text class="tk" text-anchor="middle" x="150.8" y="158.6">12.5</text>
<line class="tm" x1="176.2" x2="176.2" y1="148.0" y2="150.2"/>
<text class="tk" text-anchor="middle" x="176.2" y="158.6">15.0</text>
<line class="tm" x1="-2.2" x2="0" y1="117.6" y2="117.6"/>
<text class="tk" text-anchor="end" x="-5.5" y="120.0">40</text>
<line class="tm" x1="-2.2" x2="0" y1="84.8" y2="84.8"/>
<text class="tk" text-anchor="end" x="-5.5" y="87.2">60</text>
<line class="tm" x1="-2.2" x2="0" y1="52.1" y2="52.1"/>
<text class="tk" text-anchor="end" x="-5.5" y="54.5">80</text>
<line class="tm" x1="-2.2" x2="0" y1="19.3" y2="19.3"/>
<text class="tk" text-anchor="end" x="-5.5" y="21.7">100</text>
</g>
<g transform="translate(252.4,11.2)">
<text class="ti" x="98.0" y="-4.2">Decision Tree</text>
<g clip-path="url(#c)"><rect class="b" x="0" y="0" width="196.0" height="148.0"/>
<polygon class="o" points="-2.0,53.4 32.6,53.4 32.6,29.6 -2.0,29.6"/><polygon class="o" points="30.4,81.9 32.8,81.9 32.8,53.4 30.4,53.4"/><polygon class="o" points="-2.0,110.1 40.2,110.1 40.2,107.1 -2.0,107.1"/><polygon class="o" points="66.2,109.6 70.6,109.6 70.6,106.1 66.2,106.1"/><polygon class="o" points="60.3,22.6 62.3,22.6 62.3,-3.3 60.3,-3.3"/><polygon class="o" points="67.4,22.6 69.5,22.6 69.5,-3.3 67.4,-3.3"/><polygon class="o" points="53.2,45.9 55.2,45.9 55.2,32.9 53.2,32.9"/><polygon class="o" points="67.4,34.1 70.5,34.1 70.5,30.8 67.4,30.8"/><polygon class="o" points="56.0,85.8 60.3,85.8 60.3,72.9 56.0,72.9"/><polygon class="o" points="71.3,91.4 75.6,91.4 75.6,84.8 71.3,84.8"/><line class="k2" x1="82.9" x2="82.9" y1="22.6" y2="-3.3"/><line class="k0" x1="92.4" x2="92.4" y1="22.6" y2="-3.3"/><line class="k3" x1="98.3" x2="98.3" y1="84.8" y2="-3.3"/><line class="k1" x1="111.4" x2="111.4" y1="22.6" y2="-3.3"/><line class="k3" x1="118.0" x2="118.0" y1="93.0" y2="-3.3"/><polygon class="o" points="136.4,22.6 137.6,22.6 137.6,-3.3 136.4,-3.3"/><line class="k3" x1="144.7" x2="144.7" y1="68.5" y2="-3.3"/><polygon class="o" points="169.6,66.2 198.6,66.2 198.6,63.9 169.6,63.9"/><polygon class="o" points="75.4,150.4 80.1,150.4 80.1,125.6 75.4,125.6"/><polygon class="o" points="91.0,150.4 93.9,150.4 93.9,110.1 91.0,110.1"/><polygon class="o" points="108.4,150.4 111.6,150.4 111.6,137.3 108.4,137.3"/><line class="k" x1="83.0" x2="83.0" y1="125.8" y2="111.1"/>
<use href="#pts"/>
<g filter="url(#bl)"><line x1="97.9" x2="97.9" y1="17.7" y2="71.7" stroke="#000" stroke-width="2.4" opacity="0.60"/><line x1="116.2" x2="116.2" y1="17.7" y2="91.4" stroke="#000" stroke-width="3.2" opacity="0.60"/><line x1="107.1" x2="107.1" y1="42.3" y2="88.1" stroke="#000" stroke-width="14.0" opacity="0.32"/><line x1="82.2" x2="82.2" y1="17.7" y2="40.6" stroke="#000" stroke-width="1.6" opacity="0.45"/><line x1="145.2" x2="145.2" y1="17.7" y2="39.0" stroke="#000" stroke-width="1.6" opacity="0.45"/><line x1="91.8" x2="91.8" y1="27.5" y2="68.5" stroke="#000" stroke-width="2.0" opacity="0.30"/><line x1="128.4" x2="128.4" y1="43.9" y2="84.8" stroke="#000" stroke-width="3.0" opacity="0.25"/></g>
<rect class="lg" x="3" y="3.6" width="29.2" height="21.6" rx="1.2"/>
<g filter="url(#b6)"><use class="sq1" href="#s" x="12.8" y="9.8"/><use class="tr1" href="#t" x="12.8" y="20.2"/></g>
<text class="tk lt" x="25.3" y="11.6">0</text><text class="tk lt" x="25.3" y="21.7">1</text>
</g>
<line class="tm" x1="23.7" x2="23.7" y1="148.0" y2="150.2"/>
<text class="tk" text-anchor="middle" x="23.7" y="158.6">0.0</text>
<line class="tm" x1="49.1" x2="49.1" y1="148.0" y2="150.2"/>
<text class="tk" text-anchor="middle" x="49.1" y="158.6">2.5</text>
<line class="tm" x1="74.5" x2="74.5" y1="148.0" y2="150.2"/>
<text class="tk" text-anchor="middle" x="74.5" y="158.6">5.0</text>
<line class="tm" x1="100.0" x2="100.0" y1="148.0" y2="150.2"/>
<text class="tk" text-anchor="middle" x="100.0" y="158.6">7.5</text>
<line class="tm" x1="125.4" x2="125.4" y1="148.0" y2="150.2"/>
<text class="tk" text-anchor="middle" x="125.4" y="158.6">10.0</text>
<line class="tm" x1="150.8" x2="150.8" y1="148.0" y2="150.2"/>
<text class="tk" text-anchor="middle" x="150.8" y="158.6">12.5</text>
<line class="tm" x1="176.2" x2="176.2" y1="148.0" y2="150.2"/>
<text class="tk" text-anchor="middle" x="176.2" y="158.6">15.0</text>
<line class="tm" x1="-2.2" x2="0" y1="117.6" y2="117.6"/>
<text class="tk" text-anchor="end" x="-5.5" y="120.0">40</text>
<line class="tm" x1="-2.2" x2="0" y1="84.8" y2="84.8"/>
<text class="tk" text-anchor="end" x="-5.5" y="87.2">60</text>
<line class="tm" x1="-2.2" x2="0" y1="52.1" y2="52.1"/>
<text class="tk" text-anchor="end" x="-5.5" y="54.5">80</text>
<line class="tm" x1="-2.2" x2="0" y1="19.3" y2="19.3"/>
<text class="tk" text-anchor="end" x="-5.5" y="21.7">100</text>
</g>
<g transform="translate(487.4,11.2)">
<text class="ti" x="98.0" y="-4.2">Neural Network</text>
<g clip-path="url(#c)"><rect class="b" x="0" y="0" width="196.0" height="148.0"/>
<polygon class="o" points="30.9,-1.2 57.1,-1.2 65.0,17.8 70.1,43.5 73.6,74.2 77.0,87.9 87.2,105.0 87.1,113.8 83.6,118.8 77.6,119.6 73.5,118.1 63.3,113.7 54.5,112.9 50.2,109.3 46.5,102.0 42.1,87.4 39.2,72.8 34.1,27.0"/><polygon class="o" points="34.8,109.1 41.4,110.5 46.1,115.3 44.3,122.4 39.9,132.7 35.6,142.9 30.4,145.1 26.1,141.4 21.7,134.1 21.4,123.9 23.9,115.9 29.0,111.6"/>
<use href="#pts"/>

<rect class="lg" x="3" y="3.6" width="29.2" height="21.6" rx="1.2"/>
<g filter="url(#b6)"><use class="sq1" href="#s" x="12.8" y="9.8"/><use class="tr1" href="#t" x="12.8" y="20.2"/></g>
<text class="tk lt" x="25.3" y="11.6">0</text><text class="tk lt" x="25.3" y="21.7">1</text>
</g>
<line class="tm" x1="23.7" x2="23.7" y1="148.0" y2="150.2"/>
<text class="tk" text-anchor="middle" x="23.7" y="158.6">0.0</text>
<line class="tm" x1="49.1" x2="49.1" y1="148.0" y2="150.2"/>
<text class="tk" text-anchor="middle" x="49.1" y="158.6">2.5</text>
<line class="tm" x1="74.5" x2="74.5" y1="148.0" y2="150.2"/>
<text class="tk" text-anchor="middle" x="74.5" y="158.6">5.0</text>
<line class="tm" x1="100.0" x2="100.0" y1="148.0" y2="150.2"/>
<text class="tk" text-anchor="middle" x="100.0" y="158.6">7.5</text>
<line class="tm" x1="125.4" x2="125.4" y1="148.0" y2="150.2"/>
<text class="tk" text-anchor="middle" x="125.4" y="158.6">10.0</text>
<line class="tm" x1="150.8" x2="150.8" y1="148.0" y2="150.2"/>
<text class="tk" text-anchor="middle" x="150.8" y="158.6">12.5</text>
<line class="tm" x1="176.2" x2="176.2" y1="148.0" y2="150.2"/>
<text class="tk" text-anchor="middle" x="176.2" y="158.6">15.0</text>
<line class="tm" x1="-2.2" x2="0" y1="117.6" y2="117.6"/>
<text class="tk" text-anchor="end" x="-5.5" y="120.0">40</text>
<line class="tm" x1="-2.2" x2="0" y1="84.8" y2="84.8"/>
<text class="tk" text-anchor="end" x="-5.5" y="87.2">60</text>
<line class="tm" x1="-2.2" x2="0" y1="52.1" y2="52.1"/>
<text class="tk" text-anchor="end" x="-5.5" y="54.5">80</text>
<line class="tm" x1="-2.2" x2="0" y1="19.3" y2="19.3"/>
<text class="tk" text-anchor="end" x="-5.5" y="21.7">100</text>
</g>
<g transform="translate(17.4,189.2)">
<text class="ti" x="98.0" y="-3.3">Random Forest</text>
<g clip-path="url(#c)"><rect class="b" x="0" y="0" width="196.0" height="148.0"/>
<polygon class="o" points="-2.0,28.2 25.3,28.2 25.3,25.7 -2.0,25.7"/><polygon class="o" points="-2.0,30.1 25.3,30.1 25.7,31.4 31.8,32.8 31.8,34.7 25.7,36.0 25.3,37.8 -2.0,37.8"/><polygon class="o" points="-2.0,46.5 30.4,46.5 30.4,44.1 -2.0,44.1"/><polygon class="o" points="-2.0,50.0 24.6,50.0 24.6,48.2 -2.0,48.2"/><polygon class="o" points="-2.0,107.0 27.8,107.0 28.8,105.7 33.9,105.7 40.0,109.1 35.9,112.0 28.8,113.7 27.8,111.9 -2.0,111.9"/><polygon class="o" points="33.4,111.9 35.9,111.9 35.4,127.4 33.9,127.4"/><polygon class="o" points="33.9,146.3 35.4,146.3 35.4,143.0 33.9,143.0"/><polygon class="o" points="68.1,22.6 69.9,22.6 69.9,-3.3 68.1,-3.3"/><line class="k3" x1="97.9" x2="97.9" y1="22.6" y2="-3.3"/>
<use href="#pts"/>
<g filter="url(#bl)"><line x1="97.9" x2="97.9" y1="17.7" y2="43.9" stroke="#000" stroke-width="1.8" opacity="0.40"/><line x1="103.0" x2="103.0" y1="48.8" y2="81.6" stroke="#000" stroke-width="16.0" opacity="0.16"/></g>
<rect class="lg" x="3" y="3.6" width="29.2" height="21.6" rx="1.2"/>
<g filter="url(#b6)"><use class="sq1" href="#s" x="12.8" y="9.8"/><use class="tr1" href="#t" x="12.8" y="20.2"/></g>
<text class="tk lt" x="25.3" y="11.6">0</text><text class="tk lt" x="25.3" y="21.7">1</text>
</g>
<line class="tm" x1="23.7" x2="23.7" y1="148.0" y2="150.2"/>
<text class="tk" text-anchor="middle" x="23.7" y="158.6">0.0</text>
<line class="tm" x1="49.1" x2="49.1" y1="148.0" y2="150.2"/>
<text class="tk" text-anchor="middle" x="49.1" y="158.6">2.5</text>
<line class="tm" x1="74.5" x2="74.5" y1="148.0" y2="150.2"/>
<text class="tk" text-anchor="middle" x="74.5" y="158.6">5.0</text>
<line class="tm" x1="100.0" x2="100.0" y1="148.0" y2="150.2"/>
<text class="tk" text-anchor="middle" x="100.0" y="158.6">7.5</text>
<line class="tm" x1="125.4" x2="125.4" y1="148.0" y2="150.2"/>
<text class="tk" text-anchor="middle" x="125.4" y="158.6">10.0</text>
<line class="tm" x1="150.8" x2="150.8" y1="148.0" y2="150.2"/>
<text class="tk" text-anchor="middle" x="150.8" y="158.6">12.5</text>
<line class="tm" x1="176.2" x2="176.2" y1="148.0" y2="150.2"/>
<text class="tk" text-anchor="middle" x="176.2" y="158.6">15.0</text>
<line class="tm" x1="-2.2" x2="0" y1="117.6" y2="117.6"/>
<text class="tk" text-anchor="end" x="-5.5" y="120.0">40</text>
<line class="tm" x1="-2.2" x2="0" y1="84.8" y2="84.8"/>
<text class="tk" text-anchor="end" x="-5.5" y="87.2">60</text>
<line class="tm" x1="-2.2" x2="0" y1="52.1" y2="52.1"/>
<text class="tk" text-anchor="end" x="-5.5" y="54.5">80</text>
<line class="tm" x1="-2.2" x2="0" y1="19.3" y2="19.3"/>
<text class="tk" text-anchor="end" x="-5.5" y="21.7">100</text>
</g>
<g transform="translate(252.4,189.2)">
<text class="ti" x="98.0" y="-3.3">LightGBM</text>
<g clip-path="url(#c)"><rect class="b" x="0" y="0" width="196.0" height="148.0"/>
<polygon class="o" points="-2.0,-3.3 23.7,-3.3 23.7,19.7 47.1,19.7 47.1,26.9 36.3,26.9 36.3,67.5 27.6,67.5 27.6,53.7 23.7,53.7 23.7,150.4 -2.0,150.4"/><polygon class="o" points="46.8,26.9 61.3,26.9 61.3,75.0 51.7,75.0 51.7,71.1 46.8,71.1"/><line class="k4" x1="23.7" x2="23.7" y1="150.4" y2="53.7"/>
<use href="#pts"/>

<rect class="lg" x="3" y="3.6" width="29.2" height="21.6" rx="1.2"/>
<g filter="url(#b6)"><use class="sq1" href="#s" x="12.8" y="9.8"/><use class="tr1" href="#t" x="12.8" y="20.2"/></g>
<text class="tk lt" x="25.3" y="11.6">0</text><text class="tk lt" x="25.3" y="21.7">1</text>
</g>
<line class="tm" x1="23.7" x2="23.7" y1="148.0" y2="150.2"/>
<text class="tk" text-anchor="middle" x="23.7" y="158.6">0.0</text>
<line class="tm" x1="49.1" x2="49.1" y1="148.0" y2="150.2"/>
<text class="tk" text-anchor="middle" x="49.1" y="158.6">2.5</text>
<line class="tm" x1="74.5" x2="74.5" y1="148.0" y2="150.2"/>
<text class="tk" text-anchor="middle" x="74.5" y="158.6">5.0</text>
<line class="tm" x1="100.0" x2="100.0" y1="148.0" y2="150.2"/>
<text class="tk" text-anchor="middle" x="100.0" y="158.6">7.5</text>
<line class="tm" x1="125.4" x2="125.4" y1="148.0" y2="150.2"/>
<text class="tk" text-anchor="middle" x="125.4" y="158.6">10.0</text>
<line class="tm" x1="150.8" x2="150.8" y1="148.0" y2="150.2"/>
<text class="tk" text-anchor="middle" x="150.8" y="158.6">12.5</text>
<line class="tm" x1="176.2" x2="176.2" y1="148.0" y2="150.2"/>
<text class="tk" text-anchor="middle" x="176.2" y="158.6">15.0</text>
<line class="tm" x1="-2.2" x2="0" y1="117.6" y2="117.6"/>
<text class="tk" text-anchor="end" x="-5.5" y="120.0">40</text>
<line class="tm" x1="-2.2" x2="0" y1="84.8" y2="84.8"/>
<text class="tk" text-anchor="end" x="-5.5" y="87.2">60</text>
<line class="tm" x1="-2.2" x2="0" y1="52.1" y2="52.1"/>
<text class="tk" text-anchor="end" x="-5.5" y="54.5">80</text>
<line class="tm" x1="-2.2" x2="0" y1="19.3" y2="19.3"/>
<text class="tk" text-anchor="end" x="-5.5" y="21.7">100</text>
</g>
<g transform="translate(487.4,189.2)">
<text class="ti" x="98.0" y="-3.3">CatBoost</text>
<g clip-path="url(#c)"><rect class="b" x="0" y="0" width="196.0" height="148.0"/>
<polygon class="o" points="-2.0,51.8 24.7,51.8 24.7,-3.3 -2.0,-3.3"/><polygon class="b" points="-2.0,21.3 35.9,21.3 35.9,20.0 -2.0,20.0"/><polygon class="b" points="-2.0,43.6 29.8,43.6 29.8,42.3 -2.0,42.3"/>
<use href="#pts"/>

<rect class="lg" x="3" y="3.6" width="29.2" height="21.6" rx="1.2"/>
<g filter="url(#b6)"><use class="sq1" href="#s" x="12.8" y="9.8"/><use class="tr1" href="#t" x="12.8" y="20.2"/></g>
<text class="tk lt" x="25.3" y="11.6">0</text><text class="tk lt" x="25.3" y="21.7">1</text>
</g>
<line class="tm" x1="23.7" x2="23.7" y1="148.0" y2="150.2"/>
<text class="tk" text-anchor="middle" x="23.7" y="158.6">0.0</text>
<line class="tm" x1="49.1" x2="49.1" y1="148.0" y2="150.2"/>
<text class="tk" text-anchor="middle" x="49.1" y="158.6">2.5</text>
<line class="tm" x1="74.5" x2="74.5" y1="148.0" y2="150.2"/>
<text class="tk" text-anchor="middle" x="74.5" y="158.6">5.0</text>
<line class="tm" x1="100.0" x2="100.0" y1="148.0" y2="150.2"/>
<text class="tk" text-anchor="middle" x="100.0" y="158.6">7.5</text>
<line class="tm" x1="125.4" x2="125.4" y1="148.0" y2="150.2"/>
<text class="tk" text-anchor="middle" x="125.4" y="158.6">10.0</text>
<line class="tm" x1="150.8" x2="150.8" y1="148.0" y2="150.2"/>
<text class="tk" text-anchor="middle" x="150.8" y="158.6">12.5</text>
<line class="tm" x1="176.2" x2="176.2" y1="148.0" y2="150.2"/>
<text class="tk" text-anchor="middle" x="176.2" y="158.6">15.0</text>
<line class="tm" x1="-2.2" x2="0" y1="117.6" y2="117.6"/>
<text class="tk" text-anchor="end" x="-5.5" y="120.0">40</text>
<line class="tm" x1="-2.2" x2="0" y1="84.8" y2="84.8"/>
<text class="tk" text-anchor="end" x="-5.5" y="87.2">60</text>
<line class="tm" x1="-2.2" x2="0" y1="52.1" y2="52.1"/>
<text class="tk" text-anchor="end" x="-5.5" y="54.5">80</text>
<line class="tm" x1="-2.2" x2="0" y1="19.3" y2="19.3"/>
<text class="tk" text-anchor="end" x="-5.5" y="21.7">100</text>
</g>
<g transform="translate(17.4,367.8)">
<text class="ti" x="98.0" y="-3.3">XGBoost</text>
<g clip-path="url(#c)"><rect class="b" x="0" y="0" width="196.0" height="148.0"/>
<polygon class="o" points="-2.0,79.6 23.7,79.6 23.7,-3.3 -2.0,-3.3"/><polygon class="o" points="25.7,30.8 27.5,30.8 27.5,-3.3 25.7,-3.3"/><polygon class="o" points="-2.0,88.5 23.7,88.5 23.7,84.8 -2.0,84.8"/><line class="k3" x1="-2.0" x2="23.7" y1="100.9" y2="100.9"/><polygon class="o" points="-2.0,115.8 23.7,115.8 23.7,106.3 -2.0,106.3"/><polygon class="o" points="-2.0,129.7 23.7,129.7 23.7,118.8 -2.0,118.8"/><polygon class="o" points="-2.0,136.0 23.7,136.0 23.7,132.7 -2.0,132.7"/><polygon class="o" points="-2.0,145.3 23.7,145.3 23.7,139.2 -2.0,139.2"/><polygon class="o" points="23.7,32.4 28.3,34.1 28.8,45.5 26.7,52.1 23.7,52.1"/>
<use href="#pts"/>

<rect class="lg" x="3" y="3.6" width="29.2" height="21.6" rx="1.2"/>
<g filter="url(#b6)"><use class="sq1" href="#s" x="12.8" y="9.8"/><use class="tr1" href="#t" x="12.8" y="20.2"/></g>
<text class="tk lt" x="25.3" y="11.6">0</text><text class="tk lt" x="25.3" y="21.7">1</text>
</g>
<line class="tm" x1="23.7" x2="23.7" y1="148.0" y2="150.2"/>
<text class="tk" text-anchor="middle" x="23.7" y="158.6">0.0</text>
<line class="tm" x1="49.1" x2="49.1" y1="148.0" y2="150.2"/>
<text class="tk" text-anchor="middle" x="49.1" y="158.6">2.5</text>
<line class="tm" x1="74.5" x2="74.5" y1="148.0" y2="150.2"/>
<text class="tk" text-anchor="middle" x="74.5" y="158.6">5.0</text>
<line class="tm" x1="100.0" x2="100.0" y1="148.0" y2="150.2"/>
<text class="tk" text-anchor="middle" x="100.0" y="158.6">7.5</text>
<line class="tm" x1="125.4" x2="125.4" y1="148.0" y2="150.2"/>
<text class="tk" text-anchor="middle" x="125.4" y="158.6">10.0</text>
<line class="tm" x1="150.8" x2="150.8" y1="148.0" y2="150.2"/>
<text class="tk" text-anchor="middle" x="150.8" y="158.6">12.5</text>
<line class="tm" x1="176.2" x2="176.2" y1="148.0" y2="150.2"/>
<text class="tk" text-anchor="middle" x="176.2" y="158.6">15.0</text>
<line class="tm" x1="-2.2" x2="0" y1="117.6" y2="117.6"/>
<text class="tk" text-anchor="end" x="-5.5" y="120.0">40</text>
<line class="tm" x1="-2.2" x2="0" y1="84.8" y2="84.8"/>
<text class="tk" text-anchor="end" x="-5.5" y="87.2">60</text>
<line class="tm" x1="-2.2" x2="0" y1="52.1" y2="52.1"/>
<text class="tk" text-anchor="end" x="-5.5" y="54.5">80</text>
<line class="tm" x1="-2.2" x2="0" y1="19.3" y2="19.3"/>
<text class="tk" text-anchor="end" x="-5.5" y="21.7">100</text>
</g>
<g transform="translate(252.4,367.8)">
<text class="ti" x="98.0" y="-3.3">Ensemble</text>
<g clip-path="url(#c)"><rect class="b" x="0" y="0" width="196.0" height="148.0"/>
<polygon class="o" points="-2.0,-3.3 23.7,-3.3 23.7,27.5 27.3,30.8 27.3,37.3 23.7,39.0 23.7,45.5 27.3,47.2 26.7,51.3 23.7,52.1 23.7,64.4 -2.0,64.4"/><polygon class="g" points="-2.0,67.8 23.7,67.8 23.7,64.9 -2.0,64.9"/><polygon class="o" points="-2.0,71.3 23.7,71.3 23.7,68.5 -2.0,68.5"/><polygon class="o" points="-2.0,110.7 23.7,110.7 23.7,107.3 -2.0,107.3"/>
<use href="#pts"/>

<rect class="lg" x="3" y="3.6" width="29.2" height="21.6" rx="1.2"/>
<g filter="url(#b6)"><use class="sq1" href="#s" x="12.8" y="9.8"/><use class="tr1" href="#t" x="12.8" y="20.2"/></g>
<text class="tk lt" x="25.3" y="11.6">0</text><text class="tk lt" x="25.3" y="21.7">1</text>
</g>
<line class="tm" x1="23.7" x2="23.7" y1="148.0" y2="150.2"/>
<text class="tk" text-anchor="middle" x="23.7" y="158.6">0.0</text>
<line class="tm" x1="49.1" x2="49.1" y1="148.0" y2="150.2"/>
<text class="tk" text-anchor="middle" x="49.1" y="158.6">2.5</text>
<line class="tm" x1="74.5" x2="74.5" y1="148.0" y2="150.2"/>
<text class="tk" text-anchor="middle" x="74.5" y="158.6">5.0</text>
<line class="tm" x1="100.0" x2="100.0" y1="148.0" y2="150.2"/>
<text class="tk" text-anchor="middle" x="100.0" y="158.6">7.5</text>
<line class="tm" x1="125.4" x2="125.4" y1="148.0" y2="150.2"/>
<text class="tk" text-anchor="middle" x="125.4" y="158.6">10.0</text>
<line class="tm" x1="150.8" x2="150.8" y1="148.0" y2="150.2"/>
<text class="tk" text-anchor="middle" x="150.8" y="158.6">12.5</text>
<line class="tm" x1="176.2" x2="176.2" y1="148.0" y2="150.2"/>
<text class="tk" text-anchor="middle" x="176.2" y="158.6">15.0</text>
<line class="tm" x1="-2.2" x2="0" y1="117.6" y2="117.6"/>
<text class="tk" text-anchor="end" x="-5.5" y="120.0">40</text>
<line class="tm" x1="-2.2" x2="0" y1="84.8" y2="84.8"/>
<text class="tk" text-anchor="end" x="-5.5" y="87.2">60</text>
<line class="tm" x1="-2.2" x2="0" y1="52.1" y2="52.1"/>
<text class="tk" text-anchor="end" x="-5.5" y="54.5">80</text>
<line class="tm" x1="-2.2" x2="0" y1="19.3" y2="19.3"/>
<text class="tk" text-anchor="end" x="-5.5" y="21.7">100</text>
</g>
</svg>
</body></html>
